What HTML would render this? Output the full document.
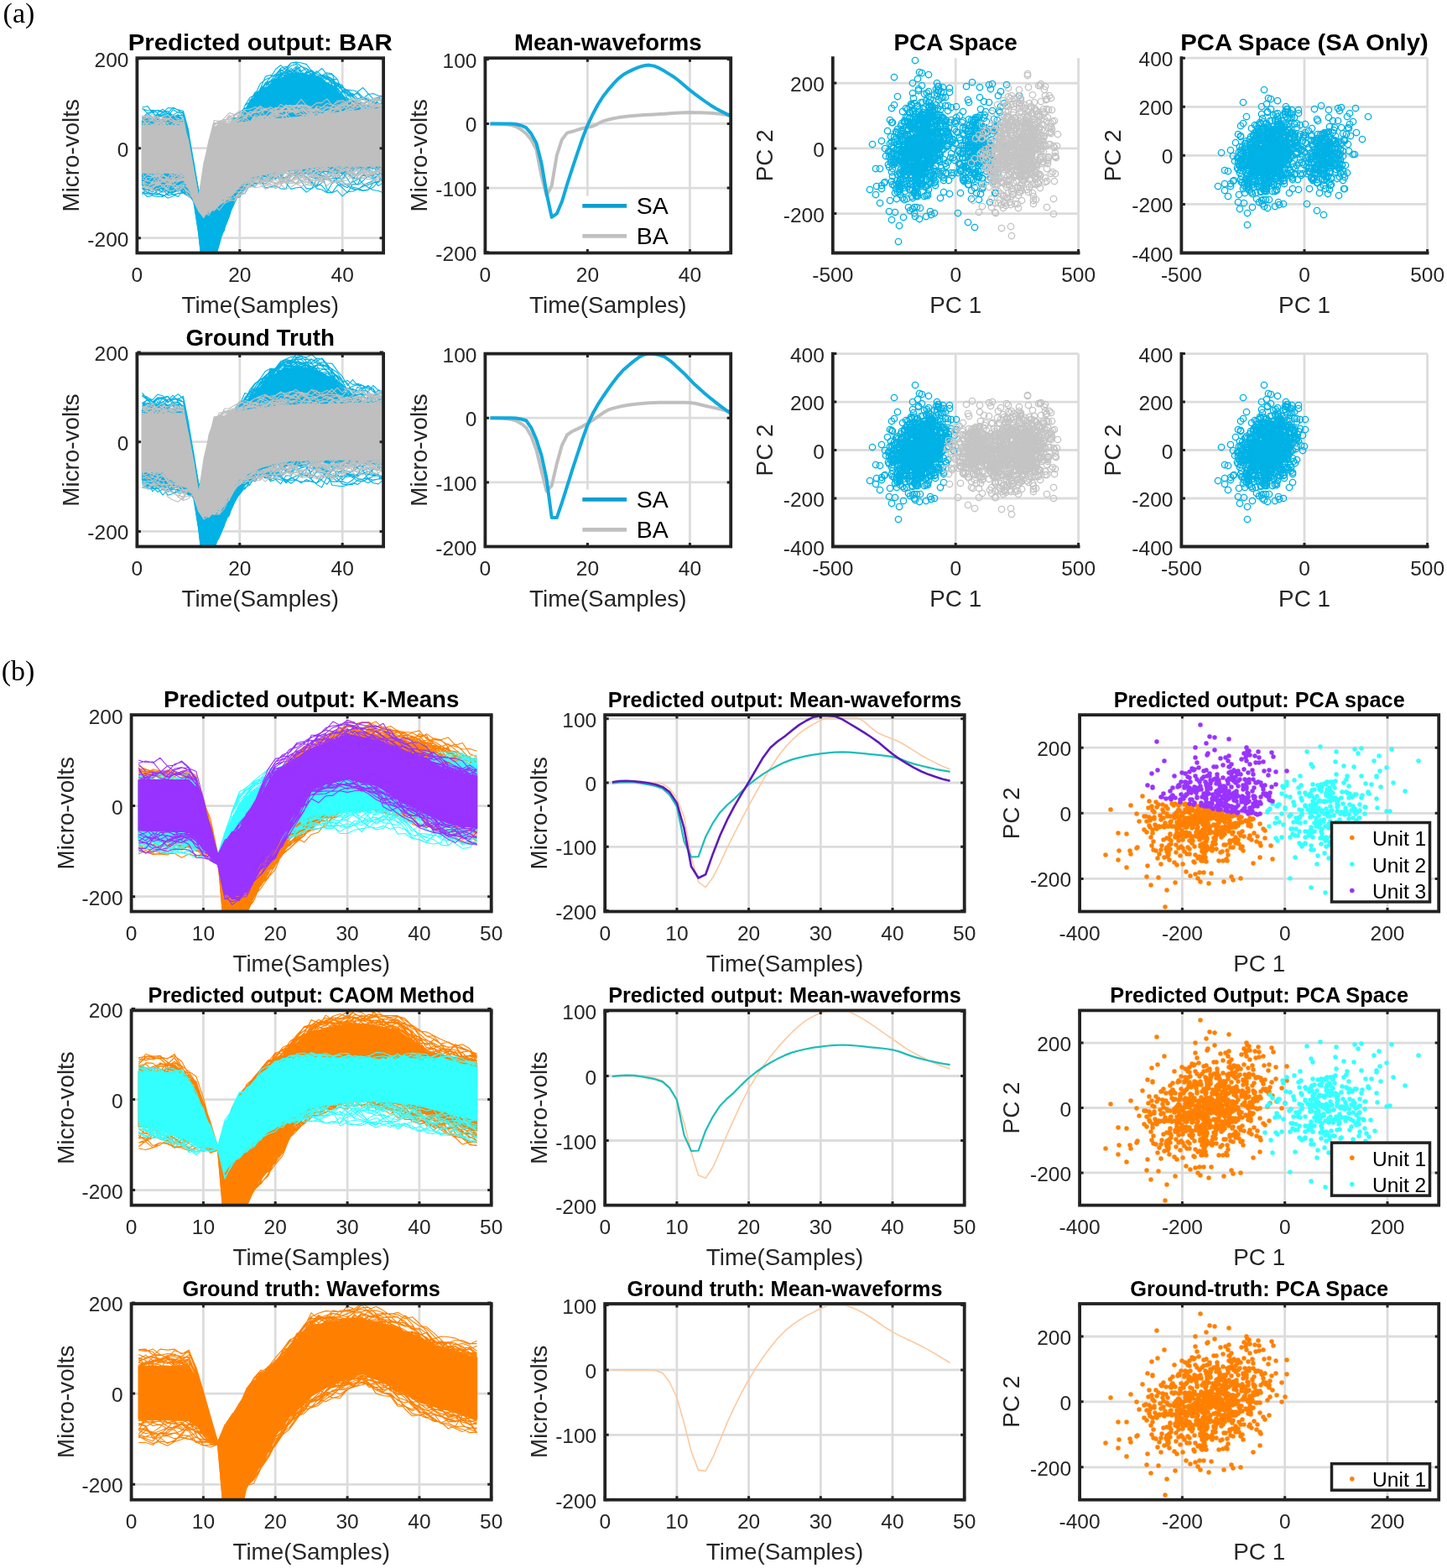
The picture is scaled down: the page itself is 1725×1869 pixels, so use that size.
<!DOCTYPE html>
<html><head><meta charset="utf-8"><title>Figure</title>
<style>html,body{margin:0;padding:0;background:#fff;}svg{display:block;}</style></head>
<body><svg width="1725" height="1869" viewBox="0 0 1725 1869" font-family='"Liberation Sans", Arial, Helvetica, sans-serif'>
<rect width="1725" height="1869" fill="#fff"/>
<defs><clipPath id="c1"><rect x="163.4" y="69.2" width="293.7" height="232.3"/></clipPath><clipPath id="c2"><rect x="163.4" y="421.6" width="293.7" height="229.9"/></clipPath><clipPath id="c3"><rect x="578.4" y="69.2" width="292.8" height="232.3"/></clipPath><clipPath id="c4"><rect x="578.4" y="421.6" width="292.8" height="229.9"/></clipPath><clipPath id="c5"><rect x="992.8" y="69.2" width="292.8" height="232.3"/></clipPath><marker id="m5" markerWidth="12" markerHeight="12" refX="6" refY="6" markerUnits="userSpaceOnUse" overflow="visible"><circle cx="6" cy="6" r="3.7" fill="none" stroke="#00b2e5" stroke-width="1.35"/></marker><marker id="m6" markerWidth="12" markerHeight="12" refX="6" refY="6" markerUnits="userSpaceOnUse" overflow="visible"><circle cx="6" cy="6" r="3.7" fill="none" stroke="#c4c4c4" stroke-width="1.35"/></marker><clipPath id="c6"><rect x="1408.4" y="69.2" width="293.2" height="232.3"/></clipPath><marker id="m8" markerWidth="12" markerHeight="12" refX="6" refY="6" markerUnits="userSpaceOnUse" overflow="visible"><circle cx="6" cy="6" r="3.7" fill="none" stroke="#00b2e5" stroke-width="1.35"/></marker><clipPath id="c7"><rect x="992.8" y="421.6" width="292.8" height="229.9"/></clipPath><marker id="m10" markerWidth="12" markerHeight="12" refX="6" refY="6" markerUnits="userSpaceOnUse" overflow="visible"><circle cx="6" cy="6" r="3.7" fill="none" stroke="#00b2e5" stroke-width="1.35"/></marker><marker id="m11" markerWidth="12" markerHeight="12" refX="6" refY="6" markerUnits="userSpaceOnUse" overflow="visible"><circle cx="6" cy="6" r="3.7" fill="none" stroke="#c4c4c4" stroke-width="1.35"/></marker><clipPath id="c8"><rect x="1408.4" y="421.6" width="293.2" height="229.9"/></clipPath><marker id="m13" markerWidth="12" markerHeight="12" refX="6" refY="6" markerUnits="userSpaceOnUse" overflow="visible"><circle cx="6" cy="6" r="3.7" fill="none" stroke="#00b2e5" stroke-width="1.35"/></marker><clipPath id="c9"><rect x="156.6" y="852.1" width="429.1" height="234.4"/></clipPath><clipPath id="c10"><rect x="721.2" y="852.1" width="428.5" height="234.4"/></clipPath><clipPath id="c11"><rect x="1287.1" y="852.1" width="428.1" height="234.4"/></clipPath><clipPath id="c12"><rect x="156.6" y="1204.4" width="429.1" height="232.2"/></clipPath><clipPath id="c13"><rect x="721.2" y="1204.4" width="428.5" height="232.2"/></clipPath><clipPath id="c14"><rect x="1287.1" y="1204.4" width="428.1" height="232.2"/></clipPath><clipPath id="c15"><rect x="156.6" y="1554" width="429.1" height="233.7"/></clipPath><clipPath id="c16"><rect x="721.2" y="1554" width="428.5" height="233.7"/></clipPath><clipPath id="c17"><rect x="1287.1" y="1554" width="428.1" height="233.7"/></clipPath></defs>
<text x="3.6" y="26.6" font-family="'Liberation Serif', 'Times New Roman', serif" font-size="34" fill="#000">(a)</text>
<text x="1.8" y="810.6" font-family="'Liberation Serif', 'Times New Roman', serif" font-size="34" fill="#000">(b)</text>
<path d="M285.8 69.2V301.5M408.2 69.2V301.5M163.4 283.7H457.1M163.4 176.7H457.1M163.4 69.7H457.1" stroke="#dcdcdc" stroke-width="2.8" fill="none"/>
<g clip-path="url(#c1)"><g transform="translate(163.4 176.7) scale(6.1188 -0.5350)">
<path d="M1 62 2 62 3 63 4 63 5 63 6 63 7 64 8 64 9 56 10 20 11-38 12-95 13-88 14-60 15-25 16 10 17 32 18 44 19 54 20 64 21 81 22 98 23 111 24 124 25 133 26 142 27 149 28 156 29 160 30 164 31 168 32 166 33 164 34 162 35 157 36 152 37 146 38 140 39 128 40 115 41 106 42 98 43 94 44 90 45 89 46 88 47 86 48 85 48-45 47-45 46-45 45-45 44-45 43-45 42-45 41-45 40-45 39-45 38-45 37-45 36-45 35-45 34-45 33-45 32-45 31-45 30-47 29-48 28-50 27-52 26-55 25-58 24-60 23-63 22-66 21-77 20-88 19-108 18-139 17-172 16-205 15-238 14-290 13-290 12-190 11-110 10-92 9-85 8-85 7-85 6-84 5-84 4-83 3-83 2-82 1-82Z" fill="#00b2e5" stroke="#00b2e5" stroke-width="1.4" stroke-linejoin="round" vector-effect="non-scaling-stroke"/>
<path d="M1 66l1 0 1 0 1-1 1-2 1-14 1 11 1-10 1-10 1-36 1-50 1-49 1 7 1 18 1 46 1 45 1-4 1 25 1 5 1 7 1 25 1 4 1 22 1 22 1 4 1 11 1 12 1 5 1 14 1-10 1 12 1-13 1 8 1-4 1-16 1 11 1-8 1 0 1 1 1-25 1-9 1 2 1-12 1 4 1-5 1-4 1 6 1 6M1 68l1-5 1-1 1-2 1-5 1 11 1-11 1-5 1-2 1-25 1-56 1-62 1 7 1 29 1 27 1 36 1 32 1 2 1 9 1 8 1 14 1 14 1 23 1 10 1 10 1 18 1 7 1 0 1 8 1 3 1-5 1 8 1-4 1-5 1-14 1-2 1-6 1-5 1-17 1-1 1-16 1-5 1-1 1-23 1-8 1 6 1-9 1-2M1 64l1 8 1-16 1 4 1-4 1-3 1-1 1-1 1-3 1-40 1-49 1-54 1 7 1 28 1 43 1 28 1 16 1 13 1 3 1 14 1 21 1 10 1 18 1 21 1 0 1 12 1-1 1 6 1 6 1 19 1-6 1-1 1-1 1 0 1-1 1-7 1 5 1-12 1-3 1-15 1-4 1-20 1-1 1-6 1-2 1-7 1 19 1-1M1 49l1 4 1 1 1 1 1-11 1 0 1 5 1 1 1-7 1-31 1-56 1-51 1 7 1 22 1 46 1 32 1 16 1 21 1 3 1 13 1 20 1 20 1 11 1 9 1 9 1-3 1 21 1-1 1 10 1 6 1-1 1-8 1-9 1-8 1-3 1-5 1-15 1-6 1-3 1 2 1-16 1 12 1-8 1-1 1 7 1 5 1-3 1 3M1 67l1 11 1 5 1-4 1 8 1-9 1-4 1-6 1-3 1-30 1-71 1-59 1 7 1 31 1 24 1 47 1 27 1 7 1 17 1-1 1 31 1 9 1 21 1 0 1 21 1 2 1 10 1-4 1 6 1 18 1-12 1-3 1-2 1-9 1 5 1-1 1-14 1-6 1 8 1-8 1-9 1-9 1-17 1-2 1-7 1 2 1 15 1-9M1 72l1-12 1-2 1 10 1 7 1-5 1-7 1 10 1 0 1-46 1-63 1-59 1 7 1 23 1 37 1 30 1 26 1 10 1 16 1 9 1 6 1 27 1 17 1 15 1 16 1 3 1 3 1 11 1-11 1-4 1 19 1-9 1 4 1-1 1 2 1 1 1-2 1-5 1-32 1-4 1-26 1-13 1 2 1-5 1-4 1 20 1-13 1 3M1 71l1 0 1-15 1 4 1-9 1 12 1-8 1 3 1 2 1-44 1-58 1-53 1 7 1 22 1 41 1 23 1 31 1 12 1 0 1 9 1 22 1 16 1 10 1 23 1-1 1 20 1 8 1 7 1 6 1-5 1 13 1-5 1-5 1-6 1-6 1 2 1-13 1-2 1-9 1-17 1-11 1-22 1-12 1 5 1-5 1 3 1-7 1 2M1 63l1-3 1 1 1 3 1 1 1 0 1 2 1-8 1 3 1-44 1-52 1-61 1 7 1 38 1 23 1 30 1 27 1 16 1 22 1-1 1 17 1 5 1 20 1 16 1 17 1-1 1 17 1 10 1 3 1 13 1 3 1-15 1 6 1-8 1-14 1-10 1 9 1-10 1-5 1-10 1-19 1-5 1-12 1-6 1-1 1 0 1 4 1-8M1 59l1 1 1 5 1-3 1 3 1 3 1-2 1 3 1-11 1-24 1-63 1-66 1 7 1 40 1 27 1 33 1 22 1 8 1 11 1-2 1 26 1 2 1 25 1 10 1 31 1 5 1 14 1 14 1 4 1-13 1 1 1-11 1 5 1-1 1-2 1-4 1-2 1-6 1-4 1-5 1-23 1-1 1-10 1-7 1-17 1-4 1-8 1 6M1 88l1-4 1 1 1-1 1-5 1 11 1-1 1-3 1-3 1-42 1-77 1-59 1 7 1 36 1 25 1 33 1 25 1 11 1 2 1 17 1 12 1 20 1 28 1 9 1 14 1 14 1 7 1-1 1 3 1-3 1 15 1-8 1-10 1 5 1 0 1-6 1 1 1-6 1-17 1-3 1-5 1-1 1-3 1 9 1-13 1-12 1 3 1-7M1 51l1 2 1 5 1 9 1 6 1 5 1 13 1-6 1-8 1-48 1-62 1-62 1 7 1 30 1 42 1 32 1 27 1 8 1 23 1 6 1 9 1 4 1 16 1 23 1 11 1-1 1 8 1-5 1 5 1 4 1 6 1-10 1 16 1 8 1-9 1-3 1 0 1-21 1-33 1-6 1-17 1-13 1 9 1-12 1-3 1 7 1-3 1 2M1 68l1-2 1 0 1 8 1-5 1-1 1 0 1 2 1-1 1-44 1-52 1-68 1 7 1 21 1 38 1 38 1 26 1 2 1 16 1 10 1 16 1 12 1 17 1 0 1 15 1 4 1 2 1 5 1 1 1 20 1-8 1 19 1-3 1-7 1-15 1-1 1-8 1-20 1-10 1-7 1-11 1 4 1-11 1 9 1-2 1 21 1-10 1-6M1 70l1 3 1 9 1-16 1-4 1-2 1 1 1-10 1-5 1-37 1-56 1-48 1 7 1 21 1 44 1 20 1 32 1 11 1 6 1 8 1 22 1 22 1 15 1 9 1 10 1 1 1 12 1 2 1 20 1 5 1 3 1 7 1-4 1-17 1 11 1-10 1 6 1-2 1-32 1-14 1-16 1-10 1-6 1 1 1-6 1 19 1-7 1 10M1 59l1-2 1-7 1 4 1 7 1 10 1 15 1-6 1 1 1-43 1-66 1-67 1 7 1 31 1 38 1 34 1 29 1-6 1 26 1 2 1 16 1 12 1 6 1 18 1 6 1 15 1-1 1 25 1 0 1 2 1 0 1-5 1-5 1 0 1-3 1-6 1-13 1-1 1-17 1-8 1 1 1-13 1-5 1-5 1 3 1-1 1 9 1-12M1 67l1-5 1 5 1 10 1-8 1 3 1-3 1 6 1-22 1-40 1-60 1-48 1 7 1 40 1 16 1 43 1 16 1 3 1 12 1 11 1 19 1 36 1-2 1 27 1 10 1 4 1 11 1 9 1-1 1 2 1 3 1-17 1 14 1 3 1-11 1-4 1-17 1 2 1-12 1-5 1 6 1-11 1 3 1-14 1 1 1-8 1-13 1-8M1 67l1-10 1 6 1 6 1 11 1 3 1-11 1-8 1-7 1-29 1-69 1-54 1 7 1 28 1 37 1 35 1 24 1-2 1 21 1 5 1 20 1 24 1 10 1 6 1 3 1 10 1 19 1 11 1-2 1 6 1-7 1-6 1-8 1-10 1-5 1-1 1 1 1 2 1 6 1-9 1-1 1-16 1-11 1-9 1-12 1-12 1-7 1-1M1 91l1 3 1-15 1 6 1-3 1-4 1-9 1-6 1-5 1-39 1-65 1-49 1 7 1 24 1 41 1 28 1 33 1 9 1 10 1 14 1 14 1 20 1 11 1 12 1 6 1-7 1 24 1-5 1 12 1 7 1-2 1-6 1-2 1-6 1-13 1-9 1-9 1 7 1-11 1 0 1-9 1-2 1 1 1 6 1 10 1 2 1-5 1-1M1 56l1-6 1 2 1 11 1-2 1-3 1-8 1 11 1-20 1-30 1-56 1-50 1 7 1 29 1 34 1 31 1 16 1 8 1 13 1 2 1 29 1 21 1 26 1 8 1 7 1 13 1-2 1 25 1 7 1 11 1 0 1-7 1-11 1-6 1-7 1-23 1-8 1-13 1 3 1-9 1-4 1-11 1 7 1-6 1-2 1-3 1 4 1-2M1 89l1-11 1-10 1-3 1-3 1 8 1-4 1 5 1-8 1-42 1-48 1-68 1 7 1 31 1 23 1 36 1 21 1 10 1 9 1 23 1 15 1 22 1 9 1 16 1 3 1 11 1 10 1 4 1 2 1 0 1 10 1 0 1-3 1-2 1 6 1 10 1-14 1 1 1-11 1-28 1 3 1-12 1 8 1-12 1-6 1-3 1-3 1-4M1 72l1-7 1 4 1 4 1 6 1-5 1 0 1 7 1-8 1-37 1-65 1-66 1 7 1 29 1 35 1 34 1 18 1 9 1 22 1 7 1 29 1 18 1 6 1 25 1 9 1 5 1 18 1 9 1-11 1 16 1 2 1-2 1-3 1-15 1-6 1-6 1-3 1-2 1-21 1-16 1-8 1-20 1-9 1-22 1-1 1-2 1 1 1-5M1 61l1-6 1-2 1-4 1 1 1-7 1 8 1-1 1-4 1-29 1-52 1-60 1 7 1 31 1 39 1 32 1 28 1 3 1-4 1 25 1 11 1 15 1 24 1 16 1 28 1 3 1-3 1 15 1-7 1 5 1-22 1-16 1 9 1-5 1-6 1-9 1 18 1 11 1-22 1 7 1-19 1 0 1-22 1-14 1-2 1-8 1-8 1 7M1 37l1-5 1 19 1-10 1 2 1 6 1-8 1 5 1 3 1-29 1-54 1-61 1 7 1 31 1 35 1 26 1 28 1 7 1 22 1 8 1 13 1 7 1 17 1 6 1 16 1 8 1 8 1 22 1 7 1-1 1 10 1-16 1-10 1-5 1-12 1-2 1-3 1 2 1-14 1-23 1 1 1-15 1 1 1 2 1-3 1 11 1-9 1-1M1-89l1 13 1-7 1 0 1 7 1-13 1 3 1 5 1 0 1-2 1-25 1-82 1-92 1-3 1 46 1 37 1 34 1 24 1 39 1 22 1 8 1 18 1 0 1-10 1 4 1-6 1 8 1-4 1 13 1 3 1 10 1 0 1-2 1 19 1-9 1 7 1-5 1 1 1 5 1-10 1 1 1-19 1 11 1-3 1 3 1-3 1-7 1-4M1-100l1 8 1-6 1 8 1-8 1 5 1-2 1 6 1 3 1-13 1-13 1-78 1-99 1 2 1 45 1 43 1 19 1 36 1 34 1 23 1 10 1 3 1-5 1 2 1-2 1 8 1 18 1 35 1-10 1 15 1 11 1-4 1-5 1 5 1 5 1-2 1-27 1-8 1-16 1-2 1 1 1-9 1-6 1 11 1 14 1 7 1 12 1 21M1-87l1 7 1-9 1 2 1-1 1 6 1-13 1 2 1-4 1 7 1-21 1-79 1-104 1 4 1 60 1 26 1 36 1 31 1 25 1 12 1 21 1 6 1 10 1-7 1 12 1 7 1 11 1 8 1-9 1-9 1 0 1 8 1 6 1 18 1 10 1-7 1 10 1 8 1-11 1-3 1-10 1-8 1 0 1-13 1-9 1-15 1 5 1-17M1-103l1 14 1 3 1-9 1 19 1 1 1-6 1 6 1-15 1-8 1-20 1-72 1-96 1-12 1 53 1 34 1 39 1 30 1 38 1 14 1 12 1 22 1 11 1 0 1 11 1 8 1-15 1 2 1 8 1-10 1-4 1-9 1-1 1-3 1 3 1 16 1 24 1 11 1-5 1 5 1-5 1-1 1-4 1 1 1 1 1-12 1-2 1-16M1-97l1-11 1 3 1-3 1 0 1 9 1 0 1 10 1-1 1 2 1-28 1-74 1-102 1 5 1 50 1 30 1 36 1 27 1 29 1 19 1 4 1 7 1 6 1 1 1 8 1 8 1 1 1-4 1-3 1 10 1 5 1 11 1-3 1 5 1 9 1-4 1 1 1 6 1-10 1-16 1-14 1-19 1-2 1-5 1 2 1 5 1 13 1 9M1-88l1 7 1-6 1-14 1-3 1-7 1 4 1 7 1 0 1-7 1-7 1-76 1-109 1 0 1 54 1 43 1 19 1 45 1 31 1 13 1 14 1 11 1 11 1 10 1 1 1 7 1 1 1-4 1-1 1 1 1 8 1-4 1 7 1-8 1-19 1-1 1-31 1-8 1 5 1-13 1 10 1 1 1 5 1 6 1 3 1 5 1 1 1 7M1-68l1-9 1 5 1-10 1-4 1 10 1-5 1-4 1 1 1-6 1-28 1-72 1-106 1 7 1 48 1 42 1 28 1 24 1 32 1 12 1 17 1 14 1 6 1-2 1 15 1 10 1 2 1 5 1-14 1 7 1-10 1-2 1-9 1-9 1-17 1-2 1-7 1 0 1 16 1 3 1-2 1 7 1 5 1 9 1 1 1 6 1-5 1 14M1-91l1-7 1-3 1-3 1 10 1-2 1-7 1-5 1 16 1-15 1-3 1-80 1-106 1 5 1 49 1 38 1 33 1 41 1 24 1 16 1 12 1-3 1-4 1 13 1-16 1 2 1 2 1-6 1-1 1 34 1 2 1 0 1-9 1-14 1-7 1 8 1 19 1 2 1 8 1-10 1 3 1-13 1 2 1-13 1-8 1-6 1-2 1-4M1-88l1-11 1-3 1 1 1-5 1 4 1 6 1 1 1 4 1-3 1-12 1-84 1-99 1-7 1 48 1 38 1 29 1 37 1 33 1 2 1 20 1 20 1-1 1 9 1-1 1-4 1-1 1 1 1-11 1-14 1 3 1 1 1-11 1 8 1 20 1 11 1-8 1 7 1-19 1-9 1-11 1 19 1 0 1 22 1-6 1-3 1-17 1 8M1-88l1 4 1-11 1 11 1-7 1-14 1 2 1 2 1 3 1-5 1-4 1-83 1-105 1 0 1 40 1 40 1 41 1 27 1 25 1 24 1-3 1 20 1 10 1 10 1 3 1 18 1 12 1-7 1 8 1-12 1-5 1 8 1-5 1 2 1 1 1 7 1 7 1 0 1-20 1-15 1 14 1 5 1 14 1 9 1 17 1-13 1-4 1-20M1-88l1-4 1 1 1-1 1-7 1 12 1-12 1 5 1 6 1-12 1-9 1-81 1-102 1 10 1 42 1 33 1 27 1 29 1 38 1 25 1 14 1 20 1-15 1 4 1-8 1 13 1-8 1 4 1-1 1 10 1-7 1 7 1-2 1 30 1 7 1 6 1 0 1-15 1-8 1-2 1-4 1-2 1 5 1 1 1 7 1-4 1-11 1 4M1-75l1 4 1 6 1-14 1-10 1 11 1-7 1-12 1 9 1-14 1-17 1-71 1-103 1-3 1 55 1 30 1 38 1 31 1 34 1 13 1 6 1 12 1 10 1 13 1-1 1-8 1 4 1-16 1 7 1-5 1 13 1 9 1 4 1 8 1-6 1 0 1-4 1 3 1-28 1-9 1-5 1 15 1-9 1 9 1 12 1-1 1 21 1 3M1-68l1-3 1-5 1-2 1 9 1-1 1-5 1-5 1-7 1-4 1-27 1-72 1-93 1-2 1 42 1 34 1 42 1 37 1 16 1 27 1 16 1 17 1-7 1 10 1-2 1 17 1-6 1 0 1 0 1 6 1-3 1-10 1 6 1-8 1 2 1-3 1 1 1 2 1-4 1 3 1-1 1-6 1-5 1 10 1-11 1 5 1 20 1 5M1-98l1-4 1-1 1 8 1 10 1-2 1 5 1-1 1 0 1-1 1-23 1-83 1-106 1 3 1 58 1 25 1 40 1 26 1 38 1 30 1 16 1 3 1 1 1 4 1-8 1-1 1 8 1 2 1 7 1 2 1-3 1 3 1-2 1-12 1-4 1 7 1-7 1 27 1 14 1 14 1 7 1-1 1 2 1-17 1-5 1-4 1 10 1-7M1-80l1 4 1-2 1 2 1 0 1 9 1-20 1 17 1 0 1-16 1-20 1-84 1-99 1 5 1 40 1 47 1 25 1 44 1 27 1 27 1 10 1 15 1-4 1-6 1 4 1-2 1 9 1-13 1 17 1 10 1-15 1-4 1 4 1-8 1-10 1 14 1 1 1-2 1-2 1 1 1 1 1 11 1 16 1 4 1 11 1-13 1-17 1 3M1-67l1 3 1-2 1-5 1 10 1-13 1 5 1-5 1-5 1 3 1-42 1-72 1-97 1-2 1 58 1 29 1 30 1 45 1 17 1 17 1 4 1 11 1 12 1 6 1 4 1 1 1 10 1-9 1 8 1 1 1-3 1 3 1-6 1-4 1 9 1-13 1-6 1-10 1 7 1 10 1 16 1 18 1-6 1 5 1-1 1-17 1 7 1 0M1-100l1 0 1 17 1 9 1-2 1 12 1 2 1-11 1-13 1-1 1-26 1-77 1-100 1-2 1 61 1 33 1 35 1 29 1 23 1 22 1 15 1 3 1 20 1-11 1 4 1 13 1 2 1 0 1 0 1 3 1-2 1-10 1-16 1-8 1-5 1-2 1-14 1 19 1 6 1-2 1-10 1-7 1-1 1-3 1 2 1 16 1 3 1 18M1-71l1-8 1-15 1 8 1-6 1 2 1 8 1 0 1-1 1-2 1-22 1-83 1-99 1 0 1 50 1 35 1 37 1 28 1 28 1 30 1-1 1 7 1-2 1 2 1 5 1 9 1 6 1 16 1-6 1 6 1-20 1-3 1 7 1-4 1 5 1 15 1 0 1 6 1-17 1 1 1-5 1 6 1 3 1-5 1 15 1-8 1-5 1 0M1-78l1-7 1-2 1-1 1-4 1 10 1-8 1 11 1-7 1-15 1-3 1-86 1-100 1 10 1 43 1 40 1 26 1 28 1 36 1 13 1 20 1 8 1-4 1 1 1-1 1-2 1 13 1 3 1 10 1-10 1-4 1-14 1-16 1 0 1 7 1 19 1 5 1 15 1 14 1 3 1 3 1 23 1 4 1-7 1 6 1-8 1-22 1-23M1-84l1 1 1 1 1 0 1-2 1-6 1-1 1 0 1-9 1 1 1-15 1-76 1-101 1 0 1 49 1 40 1 31 1 23 1 40 1 14 1 26 1 2 1 5 1 4 1-1 1 2 1 13 1 3 1 12 1 9 1-10 1 9 1-9 1 0 1-7 1 13 1 5 1 3 1 20 1-8 1-10 1-7 1-7 1-9 1-12 1-4 1-1 1-10M1-91l1-2 1 4 1 5 1-4 1-9 1 3 1 5 1-8 1-1 1-12 1-80 1-96 1-1 1 54 1 27 1 35 1 35 1 34 1 18 1 8 1 16 1-3 1-10 1 0 1 12 1-8 1 14 1 9 1-2 1 6 1-2 1-12 1-9 1-3 1 3 1-5 1 3 1 1 1-3 1 16 1-16 1 14 1 11 1-6 1 10 1-3 1-22M1-75l1-4 1 10 1-1 1 0 1 5 1-4 1 5 1-4 1-22 1-16 1-84 1-108 1 13 1 45 1 35 1 29 1 40 1 34 1 17 1 12 1-2 1 18 1-12 1-4 1 9 1 5 1 13 1-2 1 8 1-7 1 11 1-13 1 4 1-15 1 12 1-5 1 8 1-6 1-23 1-9 1-7 1-2 1 9 1 6 1 5 1 14 1 5" fill="none" stroke="#00b2e5" stroke-width="1.1" stroke-linejoin="round" vector-effect="non-scaling-stroke"/>
<path d="M1 50 2 50 3 50 4 50 5 50 6 50 7 50 8 50 9 50 10 0 11-55 12-110 13-47 14 8 15 45 16 52 17 54 18 55 19 56 20 57 21 58 22 60 23 61 24 62 25 64 26 65 27 66 28 66 29 67 30 68 31 69 32 70 33 70 34 71 35 72 36 74 37 75 38 77 39 78 40 80 41 82 42 83 43 84 44 86 45 86 46 87 47 88 48 88 48-40 47-40 46-40 45-40 44-40 43-40 42-40 41-40 40-40 39-40 38-41 37-41 36-42 35-42 34-43 33-44 32-46 31-47 30-48 29-50 28-52 27-53 26-55 25-58 24-60 23-62 22-65 21-74 20-82 19-92 18-101 17-111 16-118 15-126 14-135 13-142 12-140 11-100 10-75 9-55 8-55 7-55 6-55 5-55 4-55 3-55 2-55 1-55Z" fill="#bfbfbf" stroke="#bfbfbf" stroke-width="1.4" stroke-linejoin="round" vector-effect="non-scaling-stroke"/>
<path d="M1 73l1-5 1 8 1-9 1-8 1-5 1-9 1 3 1 9 1-63 1-47 1-57 1 72 1 56 1 36 1 2 1 11 1 12 1-4 1 8 1-12 1-13 1 7 1-1 1-1 1 8 1 12 1 3 1 9 1-2 1-13 1 7 1-6 1-5 1 3 1-7 1 6 1 8 1 3 1 0 1 11 1 12 1-5 1-5 1 0 1 2 1 1 1 5M1 51l1-3 1-2 1 2 1-9 1 9 1-7 1 9 1-3 1-47 1-55 1-55 1 66 1 49 1 41 1-1 1 2 1 4 1 8 1-7 1 17 1 8 1-16 1 6 1-9 1-1 1-7 1 1 1 6 1 2 1-1 1-1 1 0 1 2 1 6 1 4 1 10 1-2 1 16 1 9 1-4 1-6 1 14 1-10 1-16 1 12 1 4 1 1M1 64l1 4 1 3 1-10 1 4 1 2 1-2 1-11 1 1 1-48 1-69 1-48 1 63 1 57 1 33 1-1 1 14 1-5 1 8 1-8 1-3 1-1 1-8 1 7 1 3 1-3 1 7 1-7 1 12 1 2 1-1 1 8 1-3 1-4 1-1 1 3 1-7 1 2 1-8 1 9 1 7 1 0 1 0 1-1 1 5 1 10 1-1 1 5M1 63l1-9 1 12 1-18 1 8 1-9 1 5 1-8 1 5 1-49 1-55 1-55 1 75 1 47 1 44 1 2 1 1 1 15 1-15 1 15 1-1 1 9 1-2 1 14 1-26 1 1 1-3 1-3 1 15 1 17 1-1 1 0 1-1 1-12 1 3 1 7 1 2 1-7 1 3 1 1 1 2 1 9 1 4 1 6 1-8 1 2 1 7 1-13M1 39l1-6 1-1 1 7 1-6 1 2 1 3 1 6 1 15 1-73 1-43 1-53 1 65 1 48 1 27 1 27 1-9 1 4 1-9 1-3 1 1 1 7 1 3 1-3 1 10 1-1 1 5 1 0 1 3 1-5 1 6 1 6 1 3 1-4 1 9 1-15 1 3 1-5 1 6 1-14 1 24 1-9 1-3 1 11 1 14 1-4 1-3 1 9M1 57l1-14 1 7 1 2 1 15 1-11 1 6 1-14 1-4 1-41 1-55 1-58 1 68 1 57 1 30 1 10 1 0 1-4 1 0 1 1 1 3 1-4 1 7 1-5 1 12 1 4 1 0 1 14 1 11 1 2 1-10 1 12 1-10 1-9 1-9 1 2 1 9 1-1 1-1 1 2 1 3 1 7 1 8 1-14 1 4 1-3 1-2 1 10M1 66l1-14 1-2 1 8 1-7 1-1 1-6 1-2 1 3 1-54 1-56 1-45 1 64 1 44 1 47 1 5 1-5 1 7 1 5 1 8 1 3 1-8 1 1 1 12 1-3 1 2 1 1 1 8 1-9 1 14 1-12 1 2 1-3 1-20 1 6 1-4 1 1 1 5 1-2 1 3 1 9 1 0 1-8 1-5 1 19 1-5 1-1 1-2M1 70l1 3 1-8 1 7 1-14 1-4 1-12 1-2 1-1 1-41 1-55 1-53 1 68 1 59 1 45 1-2 1-6 1 0 1 4 1-11 1 6 1 4 1 9 1 3 1-4 1 1 1 4 1 1 1 4 1 7 1 1 1 4 1 8 1-10 1 5 1-8 1 8 1-1 1-1 1 11 1-4 1 3 1 0 1-3 1 9 1-12 1 0 1-11M1 71l1 0 1-1 1-2 1 3 1 3 1-11 1-3 1-4 1-39 1-62 1-65 1 69 1 50 1 41 1 10 1 4 1 0 1 8 1 10 1 1 1-9 1 12 1 8 1-8 1 6 1-7 1 13 1-8 1 0 1 6 1 13 1-14 1-3 1 9 1 0 1 9 1-14 1-4 1 4 1 0 1-2 1 4 1-9 1 10 1 11 1 5 1-2M1 28l1-3 1 16 1 10 1 18 1-6 1 13 1-14 1 2 1-56 1-60 1-58 1 64 1 55 1 33 1 11 1-1 1 3 1 9 1-5 1-2 1-3 1-3 1 1 1-7 1 15 1 14 1 12 1 5 1-2 1 6 1-5 1-8 1-15 1-5 1 12 1-3 1 17 1 4 1-11 1 5 1-5 1 1 1 1 1 6 1 11 1-7 1-1M1 68l1 2 1-2 1-8 1-3 1 7 1-5 1-9 1 0 1-49 1-49 1-62 1 63 1 61 1 25 1 13 1-21 1 17 1-10 1-10 1 14 1 6 1 9 1 10 1 3 1 3 1 3 1-1 1-4 1-10 1 0 1 6 1 2 1 15 1 4 1-12 1 6 1-1 1 4 1 10 1-8 1-1 1 4 1 9 1-3 1 0 1 3 1-8M1 63l1 5 1-8 1 7 1-6 1 5 1-7 1-14 1 8 1-61 1-42 1-60 1 61 1 56 1 44 1 10 1 0 1 7 1-11 1 6 1 0 1-7 1 15 1-4 1-2 1 12 1 3 1 7 1-5 1 12 1 2 1 0 1 0 1-7 1-8 1 5 1 4 1 3 1 4 1-3 1 12 1-3 1-11 1 4 1 1 1-5 1 5 1 0M1 45l1-1 1 1 1 3 1 7 1-12 1 13 1 5 1 2 1-51 1-71 1-51 1 58 1 63 1 26 1 19 1 3 1 3 1-7 1 15 1 12 1-8 1 6 1 1 1 4 1-3 1 0 1-2 1 4 1 0 1 3 1-5 1 7 1-12 1 17 1-3 1 9 1-4 1 6 1 5 1-6 1 7 1 0 1 3 1-9 1 8 1-1 1-2M1 63l1-8 1 9 1-9 1 5 1-13 1 1 1 10 1-7 1-44 1-63 1-54 1 64 1 51 1 44 1-1 1-10 1 11 1-10 1 9 1 0 1 10 1 17 1-5 1 1 1 0 1-2 1 6 1-17 1-2 1 10 1-9 1 9 1 9 1-7 1-6 1-5 1-3 1 3 1 9 1 13 1 5 1-4 1 0 1 5 1-13 1 10 1 5M1 62l1-1 1 4 1-14 1 0 1-3 1 1 1-9 1 12 1-54 1-54 1-54 1 62 1 56 1 48 1 1 1-2 1 4 1-6 1 12 1 4 1 2 1 13 1-9 1 12 1-6 1 7 1 2 1-10 1-14 1-5 1-7 1-5 1 3 1 12 1 11 1-1 1 19 1 13 1 0 1-5 1 12 1-10 1 10 1 1 1-25 1 6 1-4M1 52l1-3 1 2 1-7 1 3 1-3 1-11 1-4 1 3 1-42 1-49 1-51 1 61 1 49 1 29 1 23 1 7 1-9 1 12 1 15 1 9 1 1 1 5 1-5 1-2 1-3 1-5 1 7 1-2 1 3 1-7 1 6 1-12 1 4 1-17 1 8 1 10 1-3 1 6 1-5 1 19 1-1 1-1 1 5 1 0 1 4 1-8 1-10M1 49l1 3 1-7 1-7 1 5 1-1 1 4 1-8 1 6 1-39 1-59 1-56 1 77 1 46 1 40 1 3 1-1 1-1 1-11 1-9 1 14 1-8 1 7 1 1 1 10 1 15 1 12 1-2 1 14 1-13 1 2 1 9 1-14 1 6 1-13 1 1 1-7 1-1 1-6 1 2 1 11 1-4 1 9 1 10 1-6 1-3 1-4 1 4M1 56l1 1 1-4 1 9 1-11 1-6 1 11 1 0 1 0 1-62 1-44 1-60 1 61 1 47 1 47 1 4 1 7 1-10 1-6 1 5 1-6 1 9 1-2 1 14 1 12 1 13 1 5 1 0 1 1 1-7 1-2 1-5 1-12 1 9 1 6 1-5 1 4 1 2 1-2 1-5 1 7 1-1 1-2 1 5 1 7 1 5 1 5 1-4M1 57l1-5 1-1 1 2 1-7 1-10 1 16 1-7 1 23 1-59 1-59 1-60 1 58 1 59 1 39 1 5 1 10 1 9 1 5 1-3 1-3 1 12 1-2 1 5 1 5 1-2 1-9 1 3 1 4 1-5 1 4 1 3 1-8 1-8 1-7 1 2 1-2 1 11 1 0 1 14 1 3 1-6 1 16 1-3 1 11 1-2 1-1 1 6M1 47l1 2 1 0 1-4 1 1 1-7 1 9 1-7 1 10 1-50 1-54 1-57 1 76 1 39 1 38 1 2 1 12 1-7 1 8 1-8 1 8 1-1 1 12 1 1 1 3 1 12 1-6 1 3 1 10 1-11 1 13 1-5 1-5 1 3 1-1 1-5 1 2 1 5 1-1 1-6 1-5 1-1 1 5 1 11 1 5 1 3 1 9 1-6M1-66l1 6 1 9 1-12 1 6 1-14 1-5 1 6 1-2 1-5 1-33 1-30 1-5 1 8 1 1 1 23 1 6 1 7 1 11 1 16 1 21 1 0 1 0 1 3 1-3 1 1 1 3 1 2 1 9 1-1 1 13 1 0 1-2 1-8 1-11 1-3 1 5 1-7 1-2 1 10 1 3 1-4 1 5 1-1 1 7 1 8 1-1 1-3M1-68l1-6 1 10 1 3 1 5 1 8 1-5 1 5 1-8 1-9 1-29 1-46 1 2 1 7 1 15 1-2 1 13 1 12 1 0 1 10 1 17 1 7 1 2 1-2 1-12 1 0 1 0 1-7 1 4 1 0 1 12 1 6 1-15 1 14 1 7 1 0 1 10 1 6 1 8 1 8 1 1 1-5 1 3 1-5 1-9 1 8 1-6 1-13M1-73l1-7 1-1 1 11 1-17 1 11 1 16 1-3 1-5 1-6 1-27 1-39 1-7 1 12 1 11 1-14 1 15 1 6 1 2 1 17 1 3 1 14 1 14 1-4 1 0 1-4 1-6 1 0 1-10 1 5 1 7 1-6 1 3 1 9 1 3 1 0 1 10 1 14 1 2 1-7 1 1 1-6 1-6 1 14 1-6 1 0 1 2 1 9M1-36l1-11 1 3 1-4 1-5 1 1 1-3 1-4 1-1 1-10 1-35 1-35 1-1 1 8 1-4 1 27 1-11 1 14 1 17 1 6 1 11 1-3 1 5 1-1 1 2 1-1 1 8 1 8 1-1 1 2 1 13 1-15 1 7 1-11 1 2 1-15 1 4 1 3 1 5 1 12 1 4 1 10 1 4 1 9 1 1 1-2 1 7 1 0M1-81l1 16 1 0 1 3 1-12 1-5 1-2 1-16 1 10 1-10 1-17 1-26 1-9 1 14 1 5 1 10 1 21 1 1 1 4 1 28 1 0 1-6 1 16 1 3 1-6 1 5 1-11 1 1 1-12 1 1 1 6 1-2 1 3 1-4 1 15 1 5 1 21 1 1 1 8 1-12 1 5 1-26 1-3 1 5 1-12 1 0 1 16 1 11M1-84l1-5 1 16 1-11 1 17 1-13 1-3 1 8 1 5 1-19 1-5 1-46 1-11 1 22 1 9 1 7 1 2 1-1 1 14 1 12 1 4 1 15 1-6 1 13 1 1 1-13 1-5 1 0 1 1 1 1 1-3 1 2 1 1 1 2 1 5 1 1 1 0 1 5 1 4 1 13 1-3 1 10 1-14 1-3 1-7 1 4 1 9 1 5M1-85l1-1 1 8 1 2 1 4 1 7 1-2 1-2 1 15 1-26 1-23 1-37 1 2 1 3 1 10 1 12 1 0 1 23 1 7 1 24 1-5 1 19 1-7 1 8 1-11 1 5 1-13 1-10 1-5 1 0 1 1 1 11 1 0 1-16 1 12 1-6 1 11 1 9 1-7 1 3 1 7 1-3 1 8 1-9 1-1 1 4 1-11 1 7M1-98l1 7 1 6 1 6 1-3 1 0 1 1 1-3 1 7 1-5 1-35 1-23 1 5 1-9 1 20 1 1 1 18 1 9 1 3 1 11 1 4 1 14 1 12 1 4 1-3 1 3 1 4 1 1 1 3 1 0 1 10 1-1 1 1 1-3 1 1 1-11 1 12 1-7 1 2 1 3 1 3 1-2 1-4 1-2 1-9 1 6 1-8 1-6M1-76l1-15 1 17 1 12 1 0 1-3 1-21 1-7 1 7 1-13 1-4 1-37 1-4 1 7 1 5 1 10 1 6 1 16 1 10 1 14 1-3 1 2 1 5 1-8 1-11 1 4 1-2 1 21 1-10 1 22 1-9 1 6 1-3 1 1 1 10 1 3 1-2 1 1 1 18 1 0 1-6 1-2 1 2 1-1 1 6 1-10 1 5 1-6M1-88l1 3 1-9 1 4 1 5 1-8 1-2 1 10 1 4 1-8 1-8 1-43 1-11 1 17 1 6 1 18 1-3 1 8 1 10 1 5 1-2 1 16 1 2 1 15 1 11 1-13 1 3 1 2 1 1 1-3 1-2 1 0 1-16 1-3 1-1 1 17 1 3 1-14 1-2 1 7 1 5 1 3 1 0 1 7 1 0 1-3 1 14 1-6M1-85l1-2 1-4 1 16 1 15 1-5 1 15 1 4 1-10 1-27 1-22 1-35 1-9 1 6 1 11 1 6 1 10 1 2 1 28 1 8 1 7 1-3 1 9 1-13 1 10 1-2 1-9 1 2 1 11 1-7 1-7 1 4 1 7 1 7 1 16 1 8 1 6 1 3 1-14 1 0 1-12 1-5 1-6 1-1 1-2 1 0 1-4 1 4M1-53l1 0 1-2 1-13 1-3 1-9 1 13 1-8 1 7 1-16 1-14 1-42 1-7 1 3 1 19 1 4 1 16 1 11 1-15 1 5 1 10 1 10 1-4 1 2 1 3 1 6 1 14 1 6 1 3 1 13 1 9 1 0 1 7 1 0 1-3 1 0 1-15 1-10 1 0 1 9 1 17 1-5 1 5 1-12 1-22 1 6 1-7 1 2M1-47l1 12 1-20 1 1 1 7 1-4 1-14 1 6 1-4 1-17 1-18 1-42 1-4 1 15 1-9 1 16 1 13 1 5 1 17 1 9 1 16 1 0 1 4 1-3 1-6 1 1 1 9 1 5 1-1 1 13 1-6 1-3 1-18 1 4 1 1 1-11 1-10 1 8 1 0 1 2 1 1 1 12 1 2 1 9 1 0 1 8 1 9 1-4M1-57l1-15 1-4 1-7 1 2 1-10 1 18 1-2 1 17 1-9 1-27 1-46 1-7 1 18 1-1 1 17 1 0 1 11 1 22 1 10 1 9 1 1 1 15 1 4 1 4 1 12 1-14 1 9 1-3 1-6 1 11 1-14 1 8 1 0 1-13 1 2 1 3 1 11 1 4 1 3 1 3 1-6 1 17 1-3 1 8 1 0 1-2 1-19M1-39l1-19 1-5 1-15 1 7 1-10 1 10 1 5 1 7 1-15 1-30 1-36 1-8 1 20 1 1 1 22 1 18 1-11 1 19 1 16 1 17 1-2 1 4 1-7 1 6 1-10 1 8 1-23 1 3 1 16 1-10 1-4 1 18 1-3 1 5 1-3 1 12 1 7 1-6 1 13 1-6 1 3 1-5 1-16 1-5 1-1 1 0 1-4M1-31l1-4 1-8 1 0 1-5 1-5 1-7 1 6 1-15 1-21 1-19 1-31 1-5 1-4 1 20 1 5 1 21 1 4 1 9 1 18 1 16 1 2 1 4 1 0 1 15 1-11 1-11 1 13 1 9 1-16 1 27 1-14 1 9 1-7 1 0 1-8 1-1 1-5 1 18 1-9 1 10 1 2 1-1 1 9 1 7 1 0 1 3 1 0M1-45l1 8 1 8 1 5 1 3 1-2 1-7 1 4 1-1 1-23 1-39 1-51 1-1 1 9 1 19 1-8 1 14 1 9 1 22 1 21 1 1 1-3 1 22 1 3 1-16 1 0 1-9 1-22 1 10 1-2 1 4 1 2 1 9 1 8 1 13 1 0 1 21 1 2 1-10 1 17 1-17 1-17 1-9 1-19 1 8 1-14 1 10 1 15M1-27l1-20 1-14 1 1 1-10 1-3 1-3 1-13 1 6 1-26 1 5 1-36 1-7 1 7 1 17 1 10 1 7 1 11 1 9 1 8 1 1 1 8 1 2 1 13 1-1 1 3 1 6 1 4 1 5 1 5 1 0 1 15 1-4 1-10 1 10 1 10 1 9 1-12 1 5 1 5 1-16 1-6 1-5 1-8 1 15 1-6 1-3 1-6M1-84l1-3 1-8 1 0 1-4 1 15 1 15 1 12 1 5 1-17 1-34 1-37 1 3 1-1 1-1 1 12 1 8 1 12 1 11 1 11 1 16 1 17 1-4 1 0 1 9 1-5 1 8 1-6 1-3 1-18 1-7 1 8 1-11 1-2 1 11 1 1 1 1 1-7 1 5 1-2 1-11 1 13 1 9 1 11 1-2 1 6 1 17 1-4M1-37l1 2 1 1 1-3 1-5 1 9 1-11 1-3 1 15 1-25 1-40 1-43 1-1 1 6 1 2 1 18 1 2 1 1 1 2 1 13 1 13 1 2 1 6 1-2 1 4 1-6 1-10 1 6 1 22 1-1 1 19 1 3 1 10 1-12 1-8 1-9 1 2 1 3 1-3 1-13 1 13 1-10 1-1 1 11 1 1 1 3 1 0 1 4M1-38l1-6 1 11 1-8 1 3 1-10 1-6 1-6 1 4 1-26 1-25 1-33 1-15 1 23 1 15 1 7 1 14 1 1 1-3 1 1 1 12 1-2 1 3 1 9 1 4 1 12 1-6 1-4 1 18 1 7 1-6 1 9 1-1 1-14 1-2 1-8 1 3 1-6 1-3 1-9 1 3 1-3 1-1 1 3 1-1 1 6 1 6 1 7M1-46l1-12 1-3 1-2 1-7 1 1 1-2 1-1 1 5 1-19 1-9 1-45 1 2 1 0 1 26 1 6 1 0 1 14 1 8 1 18 1 10 1 14 1-28 1 5 1-17 1-1 1 2 1 0 1 8 1 8 1 10 1 2 1 1 1-20 1 3 1-1 1 7 1 5 1 11 1 6 1-4 1-10 1 10 1-4 1 9 1 5 1-1 1 4M1-73l1-13 1-3 1 8 1 6 1 6 1-5 1 4 1 2 1-11 1-26 1-35 1 3 1 5 1 11 1 0 1 12 1-5 1-2 1 11 1 5 1 17 1 14 1 2 1 17 1-12 1 2 1-17 1 3 1 0 1 10 1 18 1 1 1 20 1 0 1 2 1-4 1-12 1-6 1-7 1 8 1-5 1 8 1-8 1 17 1-11 1 11 1-11M1-39l1-10 1-2 1-8 1 6 1-1 1 3 1 8 1-10 1-11 1-33 1-43 1 2 1 5 1 21 1-2 1 10 1 9 1-5 1 19 1-1 1 18 1 2 1-8 1-5 1 13 1 3 1 6 1-3 1-3 1 8 1 0 1 16 1-12 1 0 1 3 1-4 1 9 1 6 1 3 1 4 1 11 1-3 1-10 1 1 1 1 1-13 1 0" fill="none" stroke="#bfbfbf" stroke-width="1.1" stroke-linejoin="round" vector-effect="non-scaling-stroke"/>
</g></g>
<path d="M163.4 301.5v-4.5M163.4 69.2v4.5M285.8 301.5v-4.5M285.8 69.2v4.5M408.2 301.5v-4.5M408.2 69.2v4.5M163.4 283.7h4.5M457.1 283.7h-4.5M163.4 176.7h4.5M457.1 176.7h-4.5M163.4 69.7h4.5M457.1 69.7h-4.5" stroke="#222222" stroke-width="3" fill="none"/>
<rect x="163.4" y="69.2" width="293.7" height="232.3" fill="none" stroke="#222222" stroke-width="3.8"/>
<g font-size="24.5" text-anchor="middle" fill="#262626"><text x="163.4" y="335.5">0</text><text x="285.8" y="335.5">20</text><text x="408.2" y="335.5">40</text></g>
<g font-size="24.5" text-anchor="end" fill="#262626"><text x="153.4" y="293.7">-200</text><text x="153.4" y="186.7">0</text><text x="153.4" y="79.7">200</text></g>
<text x="310.2" y="372.5" font-size="27.8" text-anchor="middle" fill="#262626">Time(Samples)</text>
<text transform="translate(94.4 185.3) rotate(-90)" font-size="27.8" text-anchor="middle" fill="#262626">Micro-volts</text>
<text x="310.2" y="59.7" font-size="27.6" font-weight="bold" text-anchor="middle" fill="#000" textLength="315" lengthAdjust="spacingAndGlyphs">Predicted output: BAR</text>
<path d="M285.8 421.6V651.5M408.2 421.6V651.5M163.4 633.4H457.1M163.4 526.7H457.1M163.4 420H457.1" stroke="#dcdcdc" stroke-width="2.8" fill="none"/>
<g clip-path="url(#c2)"><g transform="translate(163.4 526.7) scale(6.1188 -0.5334)">
<path d="M1 72 2 72 3 73 4 73 5 73 6 73 7 74 8 74 9 66 10 28 11-35 12-95 13-88 14-60 15-25 16 10 17 32 18 45 19 55 20 64 21 80 22 96 23 109 24 122 25 134 26 145 27 152 28 160 29 163 30 165 31 168 32 166 33 164 34 162 35 158 36 155 37 148 38 142 39 128 40 115 41 106 42 98 43 95 44 92 45 91 46 90 47 89 48 88 48-45 47-45 46-45 45-45 44-45 43-45 42-45 41-45 40-45 39-45 38-45 37-45 36-45 35-45 34-45 33-45 32-45 31-45 30-47 29-48 28-50 27-52 26-55 25-58 24-60 23-70 22-79 21-91 20-103 19-128 18-152 17-178 16-205 15-232 14-290 13-290 12-195 11-115 10-105 9-100 8-95 7-94 6-92 5-91 4-89 3-88 2-86 1-85Z" fill="#00b2e5" stroke="#00b2e5" stroke-width="1.4" stroke-linejoin="round" vector-effect="non-scaling-stroke"/>
<path d="M1 87l1-10 1-2 1-9 1 10 1-11 1 4 1 12 1-15 1-42 1-60 1-59 1 7 1 30 1 34 1 41 1 24 1 3 1 22 1 8 1 16 1 5 1 27 1 19 1 1 1 21 1-6 1 1 1 11 1 1 1 5 1-8 1 6 1-13 1-3 1-15 1-8 1-3 1-17 1-9 1-1 1 2 1 7 1 2 1-2 1-14 1-16 1-11M1 87l1-1 1-6 1 17 1-16 1 13 1 3 1-2 1 7 1-58 1-74 1-65 1 7 1 23 1 40 1 39 1 28 1 17 1 3 1 21 1 26 1-3 1 11 1 12 1 11 1 0 1 5 1 7 1 14 1 3 1-13 1-3 1 4 1 1 1 13 1 0 1 1 1-20 1-26 1-15 1-20 1-7 1 11 1 8 1-11 1 12 1-3 1-9M1 75l1-7 1-1 1 3 1-8 1 10 1 0 1 3 1-19 1-36 1-50 1-65 1 7 1 24 1 31 1 41 1 22 1 14 1 14 1-5 1 21 1-5 1 37 1-5 1 27 1 21 1 11 1 17 1 1 1-5 1 11 1 0 1-11 1-6 1 5 1 6 1-2 1-1 1-16 1-13 1-20 1 13 1-13 1 0 1-18 1-9 1-7 1 4M1 75l1-4 1 8 1-14 1 2 1-8 1 8 1-5 1-1 1-30 1-80 1-46 1 7 1 26 1 29 1 47 1 16 1 28 1 11 1 21 1 2 1 19 1 11 1 17 1 2 1 21 1-2 1 11 1 7 1 2 1-4 1 0 1 2 1-11 1-6 1-10 1 2 1-8 1-25 1-22 1-9 1-15 1-9 1-7 1 2 1 12 1-10 1 24M1 75l1-2 1 9 1-5 1 7 1-4 1 1 1 3 1-3 1-46 1-74 1-56 1 7 1 28 1 33 1 27 1 42 1 3 1 15 1 14 1 15 1 11 1 13 1 16 1 17 1 13 1 6 1 15 1 5 1 5 1 0 1 1 1-12 1-4 1-13 1-12 1-12 1-5 1-10 1-7 1-10 1-4 1 2 1 8 1-8 1-7 1 3 1-11M1 81l1 0 1 3 1-1 1 14 1 4 1-18 1 0 1-15 1-36 1-76 1-51 1 7 1 37 1 25 1 37 1 31 1-5 1 12 1 26 1 15 1 4 1 23 1 10 1 10 1 2 1 6 1 2 1 7 1 2 1 14 1-7 1-14 1 7 1 4 1-6 1 3 1-10 1-9 1-23 1 2 1-13 1 19 1-8 1-3 1 14 1-11 1-11M1 87l1-6 1-9 1 3 1 0 1 3 1 10 1-11 1-2 1-39 1-71 1-60 1 7 1 32 1 27 1 38 1 16 1 20 1 6 1 11 1 23 1 17 1 20 1-5 1 20 1 18 1 9 1 3 1 6 1 7 1 8 1-2 1-2 1 1 1-10 1-1 1-7 1-10 1-14 1-19 1-4 1-22 1-5 1 8 1-7 1 8 1 6 1 2M1 52l1-3 1-4 1 6 1-1 1 15 1 2 1 7 1-18 1-25 1-72 1-54 1 7 1 24 1 44 1 33 1 14 1 21 1 11 1 2 1 17 1 9 1 19 1 6 1 24 1 14 1 11 1 8 1 12 1-5 1 4 1-2 1-5 1-7 1-12 1-5 1-3 1-3 1-10 1-14 1-5 1-20 1 0 1-13 1-12 1 6 1-20 1 19M1 67l1 4 1-6 1 25 1-13 1 0 1 4 1-10 1-13 1-29 1-71 1-53 1 7 1 33 1 23 1 47 1 18 1 23 1-1 1 25 1 12 1 18 1 5 1 19 1 10 1 0 1 2 1 7 1 13 1-4 1 10 1 0 1 5 1 7 1-3 1 6 1-13 1-13 1-30 1-12 1-19 1-10 1 4 1-12 1 6 1 7 1 5 1-7M1 81l1 1 1-6 1-6 1-1 1 8 1-7 1-9 1-3 1-34 1-61 1-58 1 7 1 24 1 40 1 30 1 23 1 11 1 11 1 2 1 15 1 13 1 8 1 27 1-5 1 25 1 23 1-2 1 16 1 5 1-3 1-15 1 11 1-13 1-11 1 2 1-19 1 2 1-21 1-4 1-8 1 5 1 2 1 0 1-2 1-12 1-6 1 1M1 86l1-14 1 6 1 3 1 9 1 4 1 3 1-4 1-4 1-56 1-56 1-72 1 7 1 27 1 37 1 31 1 29 1 4 1 23 1 9 1 25 1 6 1 12 1 14 1 9 1 9 1 0 1 6 1 5 1 4 1 0 1-1 1 3 1 0 1-14 1-5 1-7 1-3 1-10 1-1 1-5 1 5 1 4 1-10 1 8 1-9 1-22 1-5M1 61l1 10 1 15 1 11 1-1 1-3 1 11 1-14 1-11 1-39 1-68 1-67 1 7 1 21 1 50 1 21 1 17 1 17 1 8 1 33 1 13 1 25 1 14 1 7 1 10 1 5 1 12 1 8 1 8 1 0 1 15 1-4 1-5 1-10 1 10 1-2 1-14 1-16 1-7 1-11 1-24 1 4 1-19 1 1 1-1 1-17 1-3 1-6M1 72l1 15 1-2 1-7 1-1 1 1 1 9 1-11 1-3 1-45 1-67 1-56 1 7 1 25 1 37 1 36 1 23 1 10 1 26 1 8 1 22 1 13 1 17 1 12 1 17 1 6 1-1 1-4 1-6 1 0 1 0 1-5 1-9 1 11 1-9 1-9 1 5 1-1 1-1 1-6 1-16 1 4 1-3 1 8 1 1 1-11 1-7 1-12M1 86l1-6 1 2 1-9 1-9 1-3 1-2 1-3 1-2 1-23 1-67 1-59 1 7 1 22 1 42 1 37 1 14 1 19 1 14 1 13 1 11 1 15 1 3 1 21 1 12 1 18 1-5 1 11 1 2 1 13 1-15 1 5 1 13 1-10 1-12 1 6 1 2 1-4 1-14 1-12 1 4 1-9 1 2 1-4 1-8 1 1 1-17 1 2M1 78l1-4 1-6 1-5 1 4 1 9 1 9 1 3 1-13 1-32 1-72 1-66 1 7 1 36 1 25 1 44 1 15 1 20 1 5 1 2 1 21 1 20 1 14 1 2 1 18 1 17 1 12 1 11 1-4 1-3 1 10 1-4 1 6 1-5 1 5 1-10 1 0 1-6 1-8 1-18 1-6 1-19 1-11 1-10 1 4 1-17 1 7 1 4M1 103l1-9 1-3 1-9 1 7 1-7 1-16 1 11 1-11 1-51 1-57 1-53 1 7 1 27 1 24 1 47 1 23 1 13 1 8 1 12 1 12 1 21 1 6 1 18 1-2 1 21 1-1 1 11 1-1 1 9 1-1 1 0 1 2 1-10 1-2 1 0 1-11 1-9 1-12 1-17 1-12 1-11 1-12 1 5 1 9 1-1 1 10 1-5M1 87l1 6 1-9 1-6 1 6 1-2 1 4 1-12 1-4 1-35 1-74 1-56 1 7 1 25 1 33 1 41 1 32 1 13 1 11 1 6 1-1 1 26 1 0 1 19 1 9 1 8 1 8 1-2 1 16 1 0 1 11 1 2 1 2 1-5 1 5 1-20 1 2 1-8 1-13 1-9 1-14 1-1 1-6 1-10 1-3 1-13 1-6 1 5M1 79l1 17 1-7 1 10 1 0 1 3 1-13 1 1 1-15 1-47 1-67 1-56 1 7 1 29 1 33 1 37 1 20 1 18 1 13 1 15 1 17 1 1 1 20 1 18 1-2 1 16 1 10 1 14 1 3 1 1 1 11 1 5 1-2 1 6 1-10 1-15 1-11 1-8 1-16 1-9 1-8 1 1 1-8 1-4 1-20 1-9 1-5 1-10M1 101l1-2 1-5 1 12 1-3 1-13 1 4 1 3 1-8 1-52 1-75 1-57 1 7 1 35 1 30 1 38 1 20 1 12 1 1 1 14 1 10 1 9 1 19 1 17 1 18 1 15 1-1 1 19 1 3 1 1 1 14 1-12 1-8 1 3 1-6 1-15 1-3 1-11 1-22 1 3 1-11 1 1 1-11 1 11 1-15 1-7 1-21 1 9M1 70l1-1 1-27 1 14 1-2 1-16 1 15 1 6 1 2 1-45 1-54 1-57 1 7 1 24 1 39 1 34 1 8 1 23 1 1 1 15 1 27 1 14 1 17 1 14 1 9 1 4 1 3 1 13 1 3 1 1 1 1 1 6 1-4 1-6 1 7 1-1 1-5 1-20 1-22 1-19 1-19 1-7 1 3 1 5 1 20 1 3 1 13 1-4M1 110l1-15 1-12 1-7 1-21 1-4 1 4 1 1 1-12 1-22 1-61 1-56 1 7 1 26 1 40 1 31 1 17 1 14 1 15 1 7 1 19 1 9 1 16 1 24 1 3 1 23 1 7 1 2 1-2 1 10 1-8 1-7 1-11 1 10 1-8 1-2 1-3 1-7 1-18 1-18 1-19 1-23 1 13 1 0 1 2 1 8 1-17 1-11M1 105l1-5 1-10 1 5 1 2 1-9 1 10 1 9 1-11 1-52 1-69 1-70 1 7 1 28 1 33 1 34 1 39 1 6 1 7 1 13 1 25 1 14 1 1 1 18 1 18 1 9 1 7 1 12 1 8 1-2 1-4 1-3 1-3 1-10 1-15 1 2 1-23 1-3 1-16 1 2 1-11 1-18 1-4 1 6 1-8 1-4 1 0 1-18M1-88l1-2 1-2 1 0 1 3 1-4 1 9 1-7 1-5 1-4 1-18 1-77 1-89 1 1 1 53 1 25 1 25 1 30 1 33 1 25 1 11 1 15 1 22 1 9 1 0 1 6 1 10 1-2 1-6 1-18 1-11 1-11 1-9 1 10 1 8 1 3 1 16 1 3 1-5 1-13 1 9 1-3 1-10 1 16 1-5 1-1 1 4 1-6M1-69l1-8 1 10 1-13 1-19 1 1 1-17 1 7 1-3 1-2 1-11 1-71 1-97 1 1 1 65 1 28 1 28 1 15 1 23 1 27 1 12 1-2 1 17 1 24 1-8 1 9 1 5 1 9 1-1 1 0 1-4 1 13 1 1 1-1 1 6 1 7 1-8 1 5 1 8 1 2 1-16 1 3 1 1 1-8 1 13 1-12 1 17 1 5M1-88l1-10 1-1 1 8 1-8 1 4 1-9 1 7 1-7 1 3 1-15 1-79 1-96 1-6 1 65 1 26 1 31 1 29 1 11 1 37 1 13 1 1 1 23 1-5 1 17 1-7 1 3 1 0 1 8 1-6 1 4 1-10 1 2 1-19 1-5 1-7 1-9 1 17 1 7 1 9 1 8 1-1 1-4 1-4 1-20 1-9 1-2 1 9M1-94l1 10 1-27 1 11 1 0 1 4 1 7 1-7 1-8 1 3 1-7 1-87 1-93 1-2 1 51 1 28 1 31 1 25 1 24 1 22 1 21 1 9 1 14 1 5 1 2 1-3 1-11 1-5 1-15 1 10 1 6 1 2 1 6 1-13 1 14 1-2 1-9 1 16 1-5 1 2 1-7 1-3 1-7 1-2 1 10 1 13 1-3 1 21M1-87l1-8 1 8 1-4 1-11 1 0 1 9 1-9 1-5 1-12 1 1 1-77 1-98 1 0 1 65 1 22 1 28 1 21 1 28 1 12 1 15 1 6 1 27 1-2 1 0 1 0 1 4 1-5 1 30 1-7 1 6 1-3 1 10 1 1 1-9 1-6 1-16 1 3 1 5 1 3 1 3 1 2 1 2 1 15 1-2 1-7 1-2 1-25M1-76l1 5 1-1 1-6 1 2 1 2 1-5 1-8 1-3 1-11 1-13 1-81 1-93 1-4 1 61 1 36 1 14 1 29 1 21 1 30 1 4 1 20 1 12 1 1 1-1 1-6 1 2 1-12 1-3 1-2 1 2 1 13 1 12 1-8 1 17 1 10 1-9 1-5 1-4 1 3 1 3 1 1 1 12 1 6 1 4 1-6 1-6 1 4M1-71l1-3 1-16 1 5 1-6 1 2 1-10 1 9 1-11 1-1 1-8 1-85 1-96 1 9 1 51 1 33 1 24 1 21 1 27 1 27 1 9 1 9 1-8 1 18 1-7 1 13 1 8 1 11 1 1 1 6 1-7 1 10 1 2 1 1 1-4 1 10 1-2 1-3 1-15 1-14 1-5 1 0 1 8 1 17 1-2 1 23 1-17 1 25M1-93l1 14 1-17 1 5 1-16 1-4 1 8 1 2 1-11 1 14 1-21 1-76 1-101 1 0 1 63 1 22 1 36 1 14 1 37 1 22 1 11 1 20 1 12 1 14 1 14 1 2 1 6 1 6 1-16 1-7 1-15 1 2 1 3 1 2 1 4 1 7 1 3 1 6 1-5 1-1 1 4 1 4 1 6 1-8 1 5 1-2 1-12 1 2M1-102l1 5 1 6 1-7 1 7 1 1 1 3 1-9 1-3 1-12 1-7 1-77 1-93 1 0 1 59 1 32 1 29 1 17 1 23 1 25 1 30 1 4 1 10 1 20 1 3 1-16 1-4 1-20 1-13 1 10 1-7 1-3 1 1 1 0 1-4 1 8 1 19 1 32 1-7 1 6 1-16 1 5 1-5 1-6 1 8 1-21 1-4 1-7M1-93l1-2 1-8 1-2 1 5 1-19 1 3 1 5 1 4 1 8 1-11 1-85 1-93 1 11 1 41 1 28 1 33 1 27 1 20 1 21 1 9 1 18 1 9 1 13 1 1 1 14 1-4 1 6 1-14 1 2 1-1 1 2 1 0 1 0 1-10 1 6 1 2 1-11 1 14 1 15 1 14 1 0 1 4 1 1 1-9 1-17 1-7 1 2M1-88l1 0 1 5 1 7 1 0 1-1 1-2 1-8 1 11 1-14 1-13 1-92 1-93 1 3 1 59 1 13 1 35 1 17 1 26 1 20 1 23 1 7 1 11 1 24 1 1 1 3 1 3 1-2 1 1 1 6 1 0 1 3 1 5 1-8 1-4 1-13 1-17 1-7 1-9 1 11 1-1 1 1 1 5 1 19 1 12 1 18 1 4 1 1M1-89l1-16 1 0 1 3 1-17 1 13 1-1 1 1 1 1 1-8 1-13 1-69 1-96 1 6 1 59 1 23 1 28 1 27 1 28 1 19 1 13 1 0 1 5 1 9 1 1 1 1 1 9 1 1 1 6 1 22 1 5 1 8 1 4 1-7 1-11 1-4 1-8 1 1 1 17 1 15 1 10 1-6 1 6 1-2 1-19 1-14 1-20 1-8M1-101l1-1 1 2 1-12 1 6 1 0 1 5 1-13 1 1 1-5 1-4 1-73 1-100 1 10 1 54 1 26 1 39 1 18 1 16 1 31 1 13 1 19 1-7 1 8 1-5 1-15 1 4 1-10 1 19 1-1 1 22 1 20 1 1 1 5 1 6 1 11 1-14 1-8 1-21 1-10 1-9 1 1 1-5 1 7 1-2 1-3 1-1 1-10M1-93l1 6 1 3 1-19 1 2 1 12 1-7 1 2 1-8 1-1 1-23 1-69 1-91 1-5 1 53 1 34 1 27 1 22 1 33 1 26 1 8 1 16 1-3 1 16 1-7 1-5 1 4 1 15 1-3 1 5 1 0 1-1 1 11 1 9 1-2 1-5 1-4 1-17 1-13 1-13 1 11 1-5 1 4 1 5 1 4 1-7 1-3 1-3M1-77l1-16 1 2 1-11 1-2 1 8 1-4 1-2 1 3 1-4 1-4 1-88 1-92 1-2 1 59 1 26 1 24 1 30 1 28 1 17 1 12 1 13 1 1 1 13 1-3 1-16 1 8 1 0 1 13 1 6 1-5 1 5 1 3 1-4 1 2 1-3 1-8 1-6 1-8 1-12 1-2 1 1 1 10 1 2 1 2 1-5 1 3 1 8M1-88l1-1 1 1 1-6 1 4 1-3 1-12 1 10 1-20 1 7 1-12 1-75 1-100 1 1 1 65 1 25 1 28 1 31 1 21 1 18 1 8 1 15 1-3 1 11 1 3 1-3 1 5 1 18 1 9 1 0 1-2 1-1 1 7 1-5 1-6 1 13 1 1 1 5 1 8 1 4 1-5 1-7 1-16 1 5 1-10 1 3 1-2 1-2M1-73l1-8 1-1 1-6 1 0 1-1 1 2 1-12 1 1 1 1 1-28 1-70 1-96 1 4 1 62 1 25 1 22 1 23 1 28 1 24 1 11 1 3 1 18 1-4 1 7 1 1 1-1 1 12 1 4 1-1 1-3 1-20 1 1 1-9 1-11 1-7 1 24 1 0 1 2 1-1 1 5 1 6 1 31 1 1 1-9 1 9 1-23 1 8M1-96l1-5 1 5 1 0 1 6 1 5 1-4 1-6 1-3 1-19 1 10 1-88 1-102 1 4 1 56 1 31 1 29 1 13 1 42 1 27 1-3 1 22 1 4 1 3 1 2 1-13 1 18 1 0 1 23 1-15 1-1 1 12 1-1 1-2 1-3 1-9 1-11 1-28 1-1 1-2 1 4 1 4 1-3 1 9 1-6 1 7 1 2 1 0M1-77l1-1 1-5 1 0 1-12 1 5 1-10 1-1 1-3 1-10 1-4 1-77 1-93 1-3 1 54 1 25 1 34 1 21 1 25 1 32 1 14 1 7 1 3 1 18 1 2 1-9 1-3 1-12 1 15 1-5 1 21 1 8 1 17 1 12 1-2 1 24 1-21 1 10 1-10 1-6 1-5 1-29 1-3 1-1 1 4 1 12 1 4 1-4M1-87l1 1 1 0 1-7 1 6 1-7 1 0 1-2 1-19 1 4 1-15 1-69 1-85 1-18 1 66 1 28 1 26 1 24 1 20 1 37 1-9 1 18 1 24 1 7 1-2 1 2 1 1 1 11 1-15 1-7 1 14 1 6 1 21 1-1 1 2 1-14 1-1 1-16 1-4 1-3 1 11 1 13 1 5 1 23 1-6 1-2 1 6 1-15M1-66l1-3 1-5 1 8 1-10 1 2 1-10 1-6 1-4 1-6 1-13 1-82 1-92 1-10 1 65 1 18 1 27 1 39 1 16 1 16 1 20 1 7 1 4 1 10 1-6 1 4 1 3 1 14 1-4 1 8 1 7 1-5 1 4 1 4 1-20 1 4 1-18 1-9 1 0 1 1 1-5 1 8 1 13 1 7 1 6 1-10 1-8 1-4M1-92l1 5 1-12 1-2 1 14 1 0 1-3 1 8 1-4 1-14 1-9 1-86 1-89 1-17 1 70 1 23 1 22 1 28 1 25 1 21 1 18 1 21 1-2 1 12 1-17 1-2 1 0 1-3 1 0 1-8 1 9 1-8 1 8 1-5 1-3 1 17 1-2 1 13 1-2 1-3 1-1 1-10 1-7 1-1 1 6 1 5 1 2 1-2" fill="none" stroke="#00b2e5" stroke-width="1.1" stroke-linejoin="round" vector-effect="non-scaling-stroke"/>
<path d="M1 62 2 62 3 62 4 62 5 62 6 62 7 61 8 61 9 60 10 5 11-55 12-116 13-50 14 5 15 48 16 55 17 58 18 62 19 65 20 68 21 70 22 72 23 74 24 75 25 76 26 78 27 79 28 80 29 81 30 82 31 82 32 83 33 83 34 84 35 84 36 84 37 84 38 85 39 85 40 85 41 85 42 86 43 86 44 86 45 86 46 86 47 86 48 86 48-40 47-40 46-40 45-40 44-40 43-40 42-40 41-40 40-40 39-40 38-40 37-40 36-40 35-40 34-40 33-41 32-41 31-42 30-42 29-44 28-46 27-48 26-50 25-54 24-58 23-63 22-67 21-73 20-79 19-90 18-105 17-128 16-144 15-152 14-158 13-160 12-155 11-106 10-103 9-100 8-93 7-87 6-80 5-67 4-67 3-67 2-67 1-67Z" fill="#bfbfbf" stroke="#bfbfbf" stroke-width="1.4" stroke-linejoin="round" vector-effect="non-scaling-stroke"/>
<path d="M1 73l1 9 1 4 1-12 1 4 1-13 1 6 1-10 1 2 1-56 1-63 1-60 1 64 1 57 1 48 1 6 1 4 1 2 1 0 1 11 1 1 1 7 1 5 1-5 1 0 1 4 1 1 1-4 1 19 1-6 1 8 1-15 1 7 1 1 1 1 1 6 1-6 1-4 1-3 1-15 1 6 1 2 1 15 1-3 1 3 1 1 1-3 1 8M1 63l1-4 1 11 1 4 1-4 1 1 1 2 1 1 1-6 1-52 1-68 1-64 1 59 1 65 1 39 1 7 1-2 1 18 1-3 1-2 1 2 1 1 1 1 1-5 1 1 1 10 1 4 1 17 1-6 1 9 1 5 1-13 1 0 1-10 1-5 1 7 1-7 1 8 1 0 1 11 1 5 1-7 1 5 1-7 1 12 1-1 1 2 1 13M1 55l1 8 1 4 1 8 1 0 1-5 1 7 1 0 1-2 1-63 1-56 1-72 1 67 1 54 1 36 1 5 1 12 1 4 1-1 1-7 1 6 1 4 1 4 1 8 1 4 1 10 1 10 1-14 1 20 1-4 1 6 1 1 1-5 1 1 1 7 1-3 1 6 1-6 1 12 1-11 1 11 1-14 1 5 1 2 1-12 1 3 1 7 1 3M1 58l1-7 1 1 1-11 1 6 1 12 1-8 1 3 1-7 1-45 1-65 1-53 1 75 1 50 1 41 1 1 1 2 1-9 1 4 1 16 1-12 1 7 1-2 1 12 1-9 1-7 1-3 1 12 1-2 1 5 1 5 1 13 1 8 1-1 1-12 1-3 1 5 1 13 1-3 1 6 1 5 1-8 1-8 1 6 1-5 1 1 1 3 1 5M1 68l1-1 1-9 1 5 1-4 1 6 1-3 1 2 1-3 1-54 1-62 1-61 1 62 1 57 1 39 1 14 1 1 1-7 1-2 1 9 1 3 1 3 1 10 1-7 1 1 1 13 1 9 1 9 1-7 1 7 1 0 1 8 1-7 1-9 1-4 1-12 1-4 1-3 1-4 1 0 1 5 1 3 1 12 1 3 1 0 1-8 1 6 1 6M1 73l1-1 1 4 1-1 1-8 1-2 1-2 1-3 1 0 1-52 1-59 1-65 1 59 1 61 1 51 1-3 1 15 1-3 1 6 1-2 1 9 1 1 1 8 1-2 1 22 1-10 1 8 1 6 1-2 1 5 1-2 1 0 1-4 1 9 1-2 1-12 1-6 1 0 1-8 1 4 1 6 1 6 1 10 1-2 1-7 1-3 1 1 1 1M1 54l1-3 1 12 1-5 1 8 1 6 1-6 1 6 1 0 1-55 1-66 1-67 1 70 1 43 1 53 1 7 1 1 1-3 1 10 1-1 1 15 1-3 1 5 1 4 1 3 1-3 1 1 1-7 1 9 1-10 1 0 1-9 1-1 1-7 1-5 1 4 1 5 1 7 1-11 1 2 1 6 1-8 1 6 1 2 1-1 1 9 1 8 1 2M1 52l1 17 1-9 1 1 1 0 1-2 1 4 1-23 1 9 1-58 1-49 1-58 1 61 1 57 1 54 1-4 1 4 1 2 1 9 1 7 1 3 1 2 1 2 1-8 1 9 1-14 1-8 1 0 1 0 1 10 1 5 1 4 1-6 1-2 1 3 1-2 1 4 1 15 1-12 1 2 1 5 1-2 1 4 1-7 1 0 1 11 1-11 1 2M1 65l1-4 1 10 1-5 1 2 1-8 1-12 1 13 1-16 1-44 1-61 1-56 1 63 1 57 1 33 1 8 1 10 1 3 1 6 1 1 1-1 1 0 1 3 1 9 1 6 1 4 1-16 1-1 1-4 1-4 1-5 1 18 1 2 1-4 1 1 1 3 1-7 1 4 1 4 1 1 1-6 1-1 1-12 1-10 1 22 1-3 1 3 1 12M1 57l1 1 1 0 1 9 1-5 1-16 1 13 1-12 1 0 1-56 1-42 1-65 1 69 1 44 1 50 1 3 1 1 1 2 1 7 1 3 1 3 1 1 1-1 1-13 1 4 1 6 1-1 1 10 1 3 1 2 1 1 1 0 1-4 1-3 1 5 1 0 1 7 1 11 1 0 1 6 1-13 1-6 1 4 1-5 1-4 1 10 1 3 1-5M1 77l1 5 1-3 1-8 1 9 1-2 1 7 1-9 1 1 1-61 1-74 1-58 1 62 1 62 1 48 1 1 1 12 1-2 1 5 1 5 1 5 1 8 1 7 1 5 1 4 1-7 1-6 1-5 1 2 1-1 1 3 1-3 1 15 1-21 1 6 1-13 1-3 1-3 1 7 1 7 1 9 1 6 1 4 1-13 1 5 1 5 1 2 1-7M1 72l1 3 1-1 1-14 1 13 1-14 1 18 1-6 1-3 1-55 1-66 1-63 1 65 1 55 1 34 1 13 1 4 1 3 1 3 1 3 1-1 1 5 1-2 1 6 1 9 1 7 1-6 1-3 1 18 1-8 1-1 1-6 1-2 1-3 1 1 1 14 1-1 1-3 1-8 1 1 1-1 1 2 1-11 1 17 1 7 1-11 1 2 1 0M1 79l1 0 1-14 1-7 1-2 1-3 1 0 1-4 1 9 1-60 1-49 1-65 1 61 1 60 1 37 1 8 1 5 1 12 1 9 1 10 1 6 1-3 1 8 1 2 1 2 1 1 1 2 1 8 1-9 1 8 1 6 1-10 1-6 1-3 1-5 1 2 1 7 1-4 1 6 1-5 1-1 1 0 1-7 1 8 1-7 1 2 1-3 1 4M1 73l1 5 1-6 1 7 1 8 1-18 1 17 1-10 1 3 1-70 1-51 1-74 1 67 1 63 1 32 1 5 1 17 1 2 1-1 1 1 1-2 1 16 1 2 1-10 1 7 1-2 1 8 1-9 1 15 1-4 1 2 1 9 1 1 1 14 1-11 1-4 1 6 1 10 1-12 1-4 1 15 1-3 1-6 1 2 1 5 1-19 1 13 1-13M1 73l1-4 1 16 1-17 1 10 1-16 1 14 1 4 1-12 1-63 1-55 1-66 1 74 1 45 1 48 1-1 1 18 1-8 1 11 1-4 1 4 1 16 1-8 1 16 1-5 1 1 1 2 1 12 1-4 1 1 1-6 1 14 1-2 1-5 1-3 1-26 1 8 1 0 1 0 1 1 1 12 1 3 1 5 1-1 1 6 1-6 1 2 1 10M1 50l1 2 1-3 1 9 1 12 1 2 1-1 1-1 1 0 1-57 1-67 1-62 1 78 1 50 1 34 1 12 1-14 1 15 1-4 1 4 1-6 1 4 1 5 1 8 1 2 1 4 1-4 1 11 1-11 1-3 1 0 1 0 1 6 1-2 1 6 1-7 1-4 1-11 1 3 1 0 1 10 1-7 1 6 1 21 1 1 1-5 1 16 1-1M1 66l1-14 1 12 1-4 1 2 1-9 1 15 1-12 1 5 1-52 1-61 1-64 1 63 1 59 1 43 1 1 1 24 1 1 1 7 1 6 1-2 1 3 1-2 1 10 1-1 1-10 1-9 1 12 1-7 1-4 1-1 1 11 1 10 1-4 1 5 1 7 1 0 1 0 1-1 1-12 1 1 1-16 1 6 1-1 1-1 1 3 1 1 1 9M1 50l1 13 1 1 1-4 1 11 1-18 1 15 1 1 1 0 1-54 1-70 1-61 1 71 1 47 1 38 1 15 1 2 1 5 1 11 1-1 1 2 1 4 1 0 1 2 1-5 1 17 1-6 1-4 1-1 1-15 1 18 1-8 1 10 1-6 1 13 1-5 1 4 1 11 1-1 1-12 1 1 1 2 1-3 1 8 1-3 1-1 1 7 1 2M1 72l1-4 1-1 1-8 1-4 1 7 1-2 1 2 1 4 1-48 1-61 1-73 1 63 1 69 1 32 1 11 1 9 1-5 1 5 1 5 1 12 1-4 1-9 1 8 1 3 1 4 1-4 1 10 1-10 1 5 1-13 1 11 1-1 1 6 1-22 1 14 1-1 1-5 1 9 1 5 1-5 1 3 1 8 1 3 1 8 1-1 1-8 1-4M1 48l1 1 1-2 1 7 1 10 1-14 1 4 1 6 1 0 1-62 1-58 1-56 1 75 1 49 1 32 1 25 1 1 1 6 1 3 1 16 1-6 1-3 1-4 1-2 1 0 1 3 1-15 1 4 1 0 1 13 1-8 1-5 1 9 1-3 1-1 1-1 1-7 1-4 1 20 1-7 1 2 1 16 1 12 1-11 1 7 1 1 1-10 1 5M1-75l1 3 1 10 1 5 1 12 1-14 1-11 1 0 1-10 1-27 1-8 1-40 1-14 1 14 1-2 1 18 1 11 1 25 1 17 1 4 1-2 1 11 1-12 1 16 1-8 1 6 1 10 1 6 1 6 1-7 1 2 1 5 1-1 1-4 1 4 1-9 1 5 1 4 1 0 1 2 1 8 1 0 1 1 1-6 1 10 1 10 1-5 1 3M1-64l1 1 1-17 1 22 1 3 1-7 1 5 1 0 1-11 1-12 1-10 1-65 1 1 1 8 1 4 1 4 1 23 1 29 1 4 1 15 1 5 1 6 1-4 1 8 1 19 1 6 1 3 1 12 1-1 1 9 1-23 1 0 1-4 1-19 1-4 1 0 1-7 1-3 1 6 1-4 1 7 1 16 1-11 1 5 1-3 1 5 1-3 1 0M1-82l1 5 1 0 1 13 1 15 1-12 1-9 1-9 1 0 1 3 1-17 1-62 1-12 1 2 1 7 1 1 1 20 1 17 1 24 1 13 1 10 1 18 1 7 1 4 1-1 1 2 1-10 1 1 1 12 1 12 1 13 1-7 1-15 1-9 1-16 1-3 1-4 1-1 1-1 1 2 1 2 1 0 1 22 1 2 1 13 1-2 1 3 1-14M1-32l1-2 1 5 1-3 1-4 1-13 1-10 1-15 1-10 1-17 1-5 1-49 1-14 1 17 1-11 1 15 1 7 1 29 1 19 1 12 1 5 1 13 1 16 1-1 1 0 1 1 1-21 1 13 1 9 1 10 1 0 1-4 1 5 1-4 1-25 1-12 1 0 1-1 1-4 1 9 1 13 1 8 1 5 1-7 1 2 1 6 1 10 1-9M1-72l1 9 1-9 1-3 1-1 1-14 1-11 1 4 1 12 1 2 1-3 1-69 1-6 1 0 1 0 1-1 1 13 1 25 1 20 1 11 1 17 1 11 1 10 1 8 1 11 1 3 1-12 1 15 1-1 1-4 1 0 1-11 1-3 1-9 1 11 1 8 1 4 1 13 1 8 1-8 1-10 1-15 1-2 1 5 1 5 1 4 1 1 1 4M1-71l1-8 1-7 1-3 1-6 1-3 1-2 1-3 1-11 1 4 1 5 1-50 1-6 1 3 1 0 1 22 1 0 1 19 1 24 1-1 1 16 1 4 1 7 1 3 1 0 1 6 1 7 1-2 1-9 1-6 1-6 1-1 1 3 1 8 1 4 1 19 1 4 1 8 1-10 1 7 1 2 1-15 1 11 1-7 1-5 1-12 1-2 1-11M1-35l1 6 1-1 1-10 1 1 1-25 1-15 1-17 1 4 1-6 1-3 1-54 1-7 1 0 1 7 1 16 1 7 1 22 1 18 1 10 1 2 1 18 1 8 1 12 1-5 1-11 1-5 1 1 1 3 1-4 1 6 1-10 1 6 1 1 1-21 1 10 1 2 1 5 1 4 1 4 1 4 1-4 1-5 1 2 1-8 1-1 1-8 1 1M1-58l1-10 1 9 1-14 1 14 1-17 1-13 1-4 1-15 1 3 1 2 1-52 1-7 1 14 1 0 1 9 1 13 1 26 1 22 1 0 1-2 1 19 1 17 1 5 1 0 1 13 1-2 1 15 1-7 1-1 1-7 1-8 1 7 1-6 1-12 1 2 1 12 1-2 1 7 1 4 1 16 1-6 1-4 1-9 1-10 1 3 1-10 1 2M1-93l1 0 1-2 1-4 1-6 1-7 1 1 1-12 1 14 1-2 1-6 1-38 1-5 1-3 1 3 1 5 1 16 1 11 1 20 1 16 1 4 1 0 1 7 1 0 1 6 1-7 1 1 1 2 1 9 1 14 1-8 1 0 1-2 1 14 1 1 1 5 1 9 1-9 1-5 1 1 1 8 1-7 1-6 1-3 1 0 1 3 1-5 1 10M1-62l1 13 1-7 1-5 1-1 1-20 1-4 1-11 1 4 1-1 1-6 1-55 1 1 1-13 1 12 1 4 1 17 1 22 1 26 1 6 1 2 1 20 1-11 1-1 1 8 1-2 1 10 1 18 1 4 1 16 1 9 1-1 1-18 1-8 1 1 1-17 1 1 1-3 1-6 1-1 1 17 1 8 1-4 1-4 1-26 1 10 1 9 1-6M1-98l1 5 1-5 1 3 1-1 1 1 1 1 1 2 1-3 1 2 1-14 1-48 1 0 1 1 1-6 1 16 1 15 1 25 1 2 1 15 1 10 1 18 1 2 1 21 1 7 1 15 1-7 1-9 1 7 1 4 1 3 1-7 1-10 1-11 1 4 1-1 1 9 1 1 1-12 1-8 1 6 1 1 1-6 1 2 1 8 1-3 1-12 1 11M1-62l1-2 1-1 1-7 1 5 1-24 1-9 1-5 1-4 1 3 1-5 1-44 1-6 1-3 1 8 1 1 1 27 1 25 1 18 1 9 1 10 1 0 1 2 1-5 1 1 1 5 1 3 1-10 1 3 1-6 1 7 1-14 1 12 1-6 1 11 1-5 1 7 1 12 1 14 1 13 1 13 1 4 1-10 1-18 1-19 1 0 1-19 1 14M1-94l1-10 1 11 1 1 1 17 1-16 1-2 1-3 1 0 1-7 1 12 1-64 1 5 1-6 1 7 1 6 1 15 1 27 1 18 1 6 1 1 1 9 1-6 1-12 1 13 1-6 1 10 1 9 1 3 1 4 1 12 1 0 1 7 1-5 1-3 1 0 1-21 1-2 1-3 1 4 1 9 1 7 1 12 1-3 1 6 1-14 1 0 1-12M1-103l1-1 1 7 1 6 1-9 1-12 1 1 1-12 1-8 1 4 1 13 1-41 1-6 1-2 1 12 1-10 1 25 1 15 1 17 1 12 1-1 1 14 1-8 1 1 1 23 1-5 1 11 1 8 1-1 1 2 1-9 1-23 1 1 1 1 1-5 1 1 1 5 1-2 1 6 1 3 1 1 1 6 1-2 1 5 1 6 1 2 1-3 1 4M1-78l1-5 1 4 1-4 1-4 1 2 1-8 1-7 1-16 1 8 1-2 1-45 1-10 1 0 1 10 1-1 1 13 1 28 1 13 1 8 1 15 1-11 1 10 1 0 1 14 1 6 1-7 1 8 1 12 1 7 1 7 1 8 1 5 1-13 1-13 1-4 1-5 1-3 1 8 1 4 1 7 1 5 1 5 1-1 1 4 1-4 1-1 1-11M1-52l1 15 1 2 1 6 1-1 1-26 1-4 1-21 1-14 1-7 1-11 1-42 1-1 1-13 1 13 1 8 1 17 1 24 1 13 1 5 1 11 1 2 1 6 1 3 1 4 1 7 1 4 1 0 1-17 1 1 1-1 1 7 1-1 1 3 1-4 1 10 1-3 1 9 1 9 1 9 1 2 1-7 1-7 1-7 1 6 1-3 1-1 1 5M1-94l1 7 1-2 1-13 1 0 1-21 1-7 1-4 1 10 1 3 1 0 1-34 1-9 1 1 1 17 1-5 1 27 1 29 1 17 1-3 1 15 1-4 1 2 1-8 1 7 1 8 1-11 1-2 1 3 1 24 1 13 1-4 1 13 1-13 1 1 1 5 1-8 1 13 1 7 1-1 1 6 1 8 1-3 1 5 1 0 1-12 1 15 1-5M1-89l1 1 1 1 1 9 1 3 1-5 1-7 1-4 1-15 1-3 1-2 1-44 1-18 1 8 1 13 1 0 1 21 1 27 1 10 1 0 1 13 1 5 1 16 1 8 1-3 1 4 1-4 1 12 1-1 1 9 1 8 1 2 1-6 1-11 1-6 1-2 1-2 1-6 1-1 1 3 1 6 1-1 1 2 1 8 1 3 1 7 1-3 1 3M1-61l1-7 1-4 1 14 1-1 1-10 1 6 1-12 1 3 1-8 1-12 1-63 1-5 1 7 1 13 1-7 1 26 1 18 1 17 1-3 1 14 1-7 1 6 1-3 1-10 1 12 1 1 1 5 1 1 1 10 1 22 1 1 1 5 1-7 1-18 1-7 1-6 1-6 1 13 1 7 1 6 1-1 1 12 1-12 1-1 1-8 1-3 1-1M1-52l1-1 1 1 1-2 1-7 1-6 1-13 1 1 1-7 1-17 1-5 1-47 1-8 1 1 1 6 1 10 1 20 1 21 1 27 1 0 1 4 1 4 1 3 1 11 1 14 1 1 1 14 1 13 1 0 1 3 1-17 1 1 1-21 1 9 1-4 1 4 1-19 1 6 1 0 1-7 1 4 1-8 1-6 1-5 1 7 1-2 1-2 1 14M1-70l1 10 1-7 1-11 1-10 1-16 1-12 1-3 1-4 1 20 1-19 1-33 1-5 1 1 1 5 1-6 1 22 1 8 1 32 1 22 1 12 1 0 1 9 1-2 1 10 1 0 1 6 1-10 1 2 1-6 1 3 1 20 1 7 1-6 1 14 1-7 1-4 1-13 1-17 1 5 1-6 1 13 1 15 1 22 1-2 1 0 1 3 1-8M1-35l1-5 1-9 1-3 1-3 1-12 1-3 1-13 1-5 1 1 1-1 1-67 1-5 1-2 1 9 1 3 1 9 1 32 1 21 1-2 1 13 1 13 1 5 1 17 1-6 1 16 1 0 1 1 1-13 1 6 1-1 1 2 1-6 1-9 1 3 1-3 1-2 1-10 1 7 1-8 1-1 1-1 1-14 1 21 1-1 1 2 1 13 1 13M1-61l1 1 1 5 1-13 1-5 1-9 1-18 1-3 1 12 1-4 1-3 1-57 1 1 1-5 1 11 1 5 1 20 1 21 1 14 1 11 1 16 1 8 1 19 1-2 1-4 1 19 1 5 1-5 1 7 1-19 1-3 1-7 1 2 1 5 1 0 1 12 1-2 1 6 1 5 1-18 1-6 1-3 1-7 1-10 1 4 1 12 1 1 1 11M1-104l1 12 1-4 1 16 1 9 1-17 1-15 1-11 1-14 1 22 1-14 1-35 1-4 1 1 1 11 1 8 1 10 1 17 1 8 1 8 1 10 1 7 1 10 1-2 1 11 1 3 1-3 1-6 1 6 1 2 1 3 1-14 1-3 1-4 1 0 1-3 1 8 1-14 1 8 1-4 1 22 1 1 1 9 1 9 1-9 1-1 1-12 1 3" fill="none" stroke="#bfbfbf" stroke-width="1.1" stroke-linejoin="round" vector-effect="non-scaling-stroke"/>
</g></g>
<path d="M163.4 651.5v-4.5M163.4 421.6v4.5M285.8 651.5v-4.5M285.8 421.6v4.5M408.2 651.5v-4.5M408.2 421.6v4.5M163.4 633.4h4.5M457.1 633.4h-4.5M163.4 526.7h4.5M457.1 526.7h-4.5M163.4 420h4.5M457.1 420h-4.5" stroke="#222222" stroke-width="3" fill="none"/>
<rect x="163.4" y="421.6" width="293.7" height="229.9" fill="none" stroke="#222222" stroke-width="3.8"/>
<g font-size="24.5" text-anchor="middle" fill="#262626"><text x="163.4" y="685.5">0</text><text x="285.8" y="685.5">20</text><text x="408.2" y="685.5">40</text></g>
<g font-size="24.5" text-anchor="end" fill="#262626"><text x="153.4" y="643.4">-200</text><text x="153.4" y="536.7">0</text><text x="153.4" y="430">200</text></g>
<text x="310.2" y="722.5" font-size="27.8" text-anchor="middle" fill="#262626">Time(Samples)</text>
<text transform="translate(94.4 536.5) rotate(-90)" font-size="27.8" text-anchor="middle" fill="#262626">Micro-volts</text>
<text x="310.2" y="412.1" font-size="27.6" font-weight="bold" text-anchor="middle" fill="#000" textLength="177.5" lengthAdjust="spacingAndGlyphs">Ground Truth</text>
<path d="M700.4 69.2V301.5M822.4 69.2V301.5M578.4 224.1H871.2M578.4 147.4H871.2" stroke="#dcdcdc" stroke-width="2.8" fill="none"/>
<g clip-path="url(#c3)">
<path d="M584.5 147.4 L590.6 147.5 L596.7 147.8 L602.8 148.3 L608.9 148.9 L615 150.8 L621.1 154.4 L627.2 159.2 L633.3 166.5 L639.4 178.2 L645.5 209.7 L651.6 233.2 L657.7 221.4 L663.8 185 L669.9 166.4 L676 158.4 L682.1 156.8 L688.2 154.8 L694.3 153 L700.4 151.8 L706.5 150.5 L712.6 147.6 L718.7 144.4 L724.8 142.7 L730.9 141.2 L737 140.1 L743.1 139.2 L749.2 138.5 L755.3 138 L761.4 137.5 L767.5 137.1 L773.6 136.8 L779.7 136.4 L785.8 136.1 L791.9 135.7 L798 135.2 L804.1 134.8 L810.2 134.4 L816.3 134.2 L822.4 134.1 L828.5 134.2 L834.6 134.3 L840.7 134.6 L846.8 134.8 L852.9 135.2 L859 135.8 L865.1 136.9 L871.2 138.2" fill="none" stroke="#bfbfbf" stroke-width="4" stroke-linejoin="round"/>
<path d="M584.5 147.4 L590.6 147.4 L596.7 147.4 L602.8 147.4 L608.9 147.4 L615 148 L621.1 149.5 L627.2 152.2 L633.3 159.4 L639.4 170.6 L645.5 194.5 L651.6 230.7 L657.7 258.9 L663.8 254.7 L669.9 240.3 L676 220 L682.1 201.1 L688.2 182.8 L694.3 165.1 L700.4 149.5 L706.5 136.5 L712.6 125 L718.7 115.3 L724.8 107.4 L730.9 100.2 L737 93.9 L743.1 89 L749.2 85.6 L755.3 82.6 L761.4 80.1 L767.5 78.3 L773.6 77.6 L779.7 78.6 L785.8 81.2 L791.9 84.6 L798 88.4 L804.1 92.2 L810.2 97 L816.3 102.2 L822.4 107.4 L828.5 112.1 L834.6 116.6 L840.7 121 L846.8 125.2 L852.9 129 L859 132.3 L865.1 135.4 L871.2 138.2" fill="none" stroke="#12a9dc" stroke-width="4" stroke-linejoin="round"/>
</g>
<rect x="686.5" y="233.5" width="125" height="66.2" fill="#fff"/>
<path d="M578.4 301.5v-4.5M578.4 69.2v4.5M700.4 301.5v-4.5M700.4 69.2v4.5M822.4 301.5v-4.5M822.4 69.2v4.5M578.4 300.7h4.5M871.2 300.7h-4.5M578.4 224.1h4.5M871.2 224.1h-4.5M578.4 147.4h4.5M871.2 147.4h-4.5M578.4 70.7h4.5M871.2 70.7h-4.5" stroke="#222222" stroke-width="3" fill="none"/>
<rect x="578.4" y="69.2" width="292.8" height="232.3" fill="none" stroke="#222222" stroke-width="3.8"/>
<g font-size="24.5" text-anchor="middle" fill="#262626"><text x="578.4" y="335.5">0</text><text x="700.4" y="335.5">20</text><text x="822.4" y="335.5">40</text></g>
<g font-size="24.5" text-anchor="end" fill="#262626"><text x="568.4" y="310.7">-200</text><text x="568.4" y="234.1">-100</text><text x="568.4" y="157.4">0</text><text x="568.4" y="80.7">100</text></g>
<text x="724.8" y="372.5" font-size="27.8" text-anchor="middle" fill="#262626">Time(Samples)</text>
<text transform="translate(509.4 185.3) rotate(-90)" font-size="27.8" text-anchor="middle" fill="#262626">Micro-volts</text>
<text x="724.8" y="59.7" font-size="27.6" font-weight="bold" text-anchor="middle" fill="#000" textLength="223.5" lengthAdjust="spacingAndGlyphs">Mean-waveforms</text>
<path d="M694.3 245.4h52.8" stroke="#0a9fd0" stroke-width="4.6"/>
<path d="M694.3 281.4h52.8" stroke="#c0c0c0" stroke-width="4.6"/>
<text x="758.8" y="255.4" font-size="28.5" fill="#000">SA</text>
<text x="758.8" y="291.2" font-size="28.5" fill="#000">BA</text>
<path d="M700.4 421.6V651.5M822.4 421.6V651.5M578.4 574.9H871.2M578.4 498.2H871.2" stroke="#dcdcdc" stroke-width="2.8" fill="none"/>
<g clip-path="url(#c4)">
<path d="M584.5 498.2 L590.6 498.3 L596.7 498.6 L602.8 499.1 L608.9 499.8 L615 501.4 L621.1 504.7 L627.2 509.5 L633.3 519.8 L639.4 536.2 L645.5 561.4 L651.6 585.5 L657.7 578.9 L663.8 552.6 L669.9 530.8 L676 518.5 L682.1 514.2 L688.2 511.4 L694.3 508.2 L700.4 504.6 L706.5 500.9 L712.6 496.7 L718.7 492.3 L724.8 488.7 L730.9 486.6 L737 485.1 L743.1 483.7 L749.2 482.7 L755.3 481.9 L761.4 481.3 L767.5 480.7 L773.6 480.3 L779.7 480 L785.8 479.8 L791.9 479.8 L798 479.8 L804.1 479.8 L810.2 479.8 L816.3 479.8 L822.4 479.9 L828.5 480.8 L834.6 482.3 L840.7 483.8 L846.8 485.1 L852.9 486.4 L859 487.8 L865.1 489.2 L871.2 490.6" fill="none" stroke="#bfbfbf" stroke-width="4" stroke-linejoin="round"/>
<path d="M584.5 498.2 L590.6 498.2 L596.7 498.2 L602.8 498.2 L608.9 498.2 L615 498.6 L621.1 499.5 L627.2 501.2 L633.3 509.9 L639.4 523.8 L645.5 542.6 L651.6 570.9 L657.7 617 L663.8 617 L669.9 599.1 L676 579.8 L682.1 560.4 L688.2 541.9 L694.3 523.5 L700.4 506.7 L706.5 493.3 L712.6 482.4 L718.7 473 L724.8 464.2 L730.9 455.7 L737 447.8 L743.1 441 L749.2 435.7 L755.3 430.6 L761.4 426.1 L767.5 422.8 L773.6 421.6 L779.7 422 L785.8 423 L791.9 425.2 L798 429.3 L804.1 434.6 L810.2 440.3 L816.3 445.9 L822.4 452.3 L828.5 458.6 L834.6 464.1 L840.7 469.4 L846.8 474.5 L852.9 479.4 L859 484.1 L865.1 488.6 L871.2 492.9" fill="none" stroke="#12a9dc" stroke-width="4" stroke-linejoin="round"/>
</g>
<rect x="686.5" y="583.5" width="125" height="66.2" fill="#fff"/>
<path d="M578.4 651.5v-4.5M578.4 421.6v4.5M700.4 651.5v-4.5M700.4 421.6v4.5M822.4 651.5v-4.5M822.4 421.6v4.5M578.4 651.5h4.5M871.2 651.5h-4.5M578.4 574.9h4.5M871.2 574.9h-4.5M578.4 498.2h4.5M871.2 498.2h-4.5M578.4 421.6h4.5M871.2 421.6h-4.5" stroke="#222222" stroke-width="3" fill="none"/>
<rect x="578.4" y="421.6" width="292.8" height="229.9" fill="none" stroke="#222222" stroke-width="3.8"/>
<g font-size="24.5" text-anchor="middle" fill="#262626"><text x="578.4" y="685.5">0</text><text x="700.4" y="685.5">20</text><text x="822.4" y="685.5">40</text></g>
<g font-size="24.5" text-anchor="end" fill="#262626"><text x="568.4" y="661.5">-200</text><text x="568.4" y="584.9">-100</text><text x="568.4" y="508.2">0</text><text x="568.4" y="431.6">100</text></g>
<text x="724.8" y="722.5" font-size="27.8" text-anchor="middle" fill="#262626">Time(Samples)</text>
<text transform="translate(509.4 536.5) rotate(-90)" font-size="27.8" text-anchor="middle" fill="#262626">Micro-volts</text>
<path d="M694.3 595.4h52.8" stroke="#0a9fd0" stroke-width="4.6"/>
<path d="M694.3 631.4h52.8" stroke="#c0c0c0" stroke-width="4.6"/>
<text x="758.8" y="605.4" font-size="28.5" fill="#000">SA</text>
<text x="758.8" y="641.2" font-size="28.5" fill="#000">BA</text>
<path d="M1139.2 69.2V301.5M1285.6 69.2V301.5M992.8 254.6H1285.6M992.8 176.9H1285.6M992.8 99.1H1285.6" stroke="#dcdcdc" stroke-width="2.8" fill="none"/>
<path d="M1073 214 1106 167 1103 181 1112 157 1119 204 1100 181 1102 201 1110 209 1111 151 1063 184 1060 180 1066 196 1090 229 1062 181 1086 149 1094 94 1098 122 1102 171 1105 194 1084 134 1092 213 1105 196 1097 141 1119 108 1117 144 1106 161 1095 108 1094 126 1094 140 1044 201 1085 134 1123 178 1095 148 1102 169 1114 204 1126 144 1044 232 1095 106 1096 219 1122 147 1097 142 1090 181 1115 149 1115 174 1128 198 1072 172 1092 170 1098 176 1078 174 1121 184 1132 105 1082 156 1078 187 1078 199 1064 196 1079 210 1062 191 1132 163 1095 208 1089 203 1069 215 1088 168 1091 167 1121 131 1090 230 1094 172 1115 158 1109 193 1079 192 1101 150 1040 172 1124 116 1112 168 1107 128 1079 163 1106 172 1129 175 1079 185 1085 140 1067 230 1102 148 1075 147 1062 163 1081 197 1129 157 1085 174 1131 152 1082 176 1074 208 1086 161 1088 165 1117 115 1066 194 1075 167 1101 172 1087 209 1066 163 1093 176 1102 148 1130 160 1108 217 1089 200 1085 147 1098 172 1098 181 1092 196 1087 193 1093 233 1097 175 1104 204 1079 161 1083 168 1084 218 1070 208 1088 216 1122 159 1080 140 1111 189 1078 191 1109 209 1117 174 1111 170 1105 151 1119 182 1130 193 1102 151 1097 148 1067 193 1114 164 1077 181 1100 202 1120 177 1078 182 1085 187 1101 184 1107 159 1118 191 1098 166 1102 234 1077 176 1107 167 1100 136 1090 200 1123 140 1094 197 1125 166 1082 145 1070 194 1108 176 1087 166 1075 193 1109 199 1121 166 1095 189 1107 182 1101 134 1119 206 1121 175 1102 168 1102 189 1107 138 1086 181 1111 134 1102 163 1105 179 1103 179 1090 247 1064 182 1110 153 1098 182 1106 180 1096 130 1072 206 1092 234 1075 155 1105 173 1120 190 1130 157 1085 149 1106 163 1094 230 1059 196 1113 189 1098 220 1069 192 1109 146 1118 186 1093 154 1078 195 1096 176 1112 154 1088 249 1110 138 1105 160 1104 135 1087 183 1078 192 1081 208 1060 199 1114 254 1118 164 1083 174 1091 181 1121 156 1102 180 1092 205 1093 201 1116 171 1109 131 1114 186 1125 215 1121 236 1079 188 1083 247 1069 185 1065 176 1116 125 1100 175 1088 99 1117 145 1101 141 1061 171 1085 251 1115 188 1103 194 1088 133 1101 162 1067 166 1084 169 1077 176 1105 214 1101 200 1118 153 1096 86 1110 179 1111 159 1120 192 1131 171 1089 202 1090 123 1099 206 1093 171 1113 176 1099 87 1093 174 1074 160 1087 126 1117 140 1087 192 1089 178 1089 196 1097 176 1089 153 1114 182 1134 143 1118 108 1070 176 1112 131 1110 138 1069 220 1106 231 1086 187 1102 145 1100 198 1078 174 1106 159 1098 171 1071 191 1109 202 1103 151 1138 154 1091 215 1076 236 1063 174 1095 167 1067 253 1064 146 1116 204 1097 170 1078 205 1113 145 1112 157 1098 160 1093 127 1100 157 1094 196 1095 186 1081 160 1132 146 1094 198 1070 172 1106 193 1097 200 1121 157 1104 120 1056 186 1101 181 1097 138 1084 201 1127 126 1105 145 1098 182 1094 167 1088 226 1094 168 1094 156 1102 142 1099 178 1107 142 1089 204 1120 176 1103 184 1101 130 1127 195 1071 288 1107 122 1101 180 1111 193 1108 127 1119 140 1088 189 1080 129 1119 163 1095 168 1085 166 1105 156 1097 248 1093 218 1066 125 1088 185 1091 203 1125 212 1105 187 1119 137 1098 218 1110 138 1108 177 1107 191 1101 162 1092 207 1092 203 1075 156 1093 192 1087 168 1090 200 1101 168 1080 216 1119 170 1117 145 1095 183 1125 178 1089 204 1093 205 1098 212 1105 160 1100 191 1119 103 1094 200 1107 175 1098 155 1072 168 1077 224 1089 136 1084 168 1079 167 1101 138 1099 174 1062 186 1110 162 1099 157 1111 193 1094 164 1100 202 1060 187 1109 119 1103 197 1104 175 1084 226 1063 216 1088 178 1096 169 1130 158 1120 185 1083 199 1063 146 1100 152 1127 145 1125 229 1118 154 1086 150 1096 197 1061 143 1049 201 1124 140 1084 191 1085 175 1094 215 1069 158 1073 223 1137 177 1072 219 1109 191 1093 247 1084 182 1096 133 1104 258 1066 221 1090 179 1106 221 1055 177 1077 259 1078 201 1073 226 1113 201 1100 168 1088 111 1070 115 1077 196 1100 142 1107 181 1088 146 1123 178 1117 148 1100 208 1072 178 1045 222 1103 223 1125 110 1076 192 1093 195 1086 168 1125 157 1097 172 1083 166 1086 212 1107 226 1086 194 1093 225 1078 191 1106 174 1091 204 1096 261 1107 141 1095 206 1119 183 1120 171 1081 191 1083 189 1104 180 1087 182 1102 173 1105 154 1100 152 1096 143 1103 148 1092 221 1087 180 1102 174 1122 200 1064 201 1083 183 1107 89 1072 222 1094 221 1082 147 1094 178 1115 216 1097 177 1100 204 1088 184 1108 191 1106 233 1103 150 1079 195 1095 168 1117 159 1091 185 1100 151 1100 190 1089 204 1080 200 1085 160 1074 187 1075 166 1101 137 1105 201 1096 195 1086 212 1090 177 1099 102 1092 176 1094 185 1090 178 1092 157 1103 198 1095 168 1091 186 1094 160 1098 191 1094 141 1079 167 1091 72 1106 169 1093 222 1086 124 1102 181 1095 176 1079 183 1104 214 1091 258 1066 170 1117 111 1073 192 1090 149 1101 171 1106 184 1112 177 1114 160 1099 207 1069 237 1104 233 1119 172 1072 180 1074 188 1091 145 1111 141 1087 146 1094 174 1103 164 1072 172 1068 179 1094 175 1076 159 1093 154 1083 205 1097 147 1073 206 1087 189 1087 151 1108 169 1110 139 1085 204 1107 109 1054 218 1109 192 1110 162 1074 202 1102 199 1106 162 1090 169 1089 174 1078 146 1091 146 1132 110 1095 172 1095 168 1081 237 1101 172 1122 109 1072 217 1109 135 1098 174 1063 129 1083 167 1101 199 1110 126 1095 173 1107 142 1110 193 1079 202 1049 242 1092 198 1081 160 1101 150 1092 190 1080 178 1064 220 1106 146 1094 210 1105 192 1093 206 1127 116 1081 219 1094 159 1117 166 1074 181 1100 220 1091 188 1078 180 1114 137 1080 203 1107 179 1089 117 1051 221 1081 187 1125 164 1090 175 1090 169 1139 171 1092 181 1059 181 1094 234 1091 175 1080 155 1085 226 1109 173 1098 222 1071 220 1093 182 1119 119 1098 178 1128 156 1113 181 1094 186 1083 173 1081 188 1102 112 1062 194 1107 180 1110 153 1104 184 1092 186 1078 182 1077 214 1071 159 1085 208 1109 181 1101 179 1102 168 1058 156 1113 209 1111 174 1097 139 1112 139 1130 126 1085 220 1110 218 1089 191 1083 145 1101 180 1111 180 1116 106 1093 183 1115 221 1074 219 1067 193 1100 175 1095 151 1114 131 1093 178 1121 150 1118 177 1094 196 1095 165 1087 125 1070 167 1076 179 1082 183 1096 199 1074 210 1096 154 1123 210 1103 186 1095 168 1109 158 1095 133 1100 174 1115 198 1079 145 1092 230 1109 135 1082 222 1094 168 1085 209 1104 157 1068 225 1089 199 1099 161 1127 149 1111 213 1083 154 1070 154 1104 168 1093 212 1076 203 1088 147 1077 206 1065 190 1095 147 1128 143 1080 180 1100 177 1076 179 1074 192 1090 254 1105 111 1089 199 1111 206 1095 171 1085 185 1080 203 1106 196 1085 203 1104 183 1080 177 1060 252 1100 122 1086 173 1071 188 1098 159 1082 130 1078 144 1076 166 1118 103 1093 226 1109 189 1076 205 1079 165 1098 156 1110 180 1107 136 1127 154 1091 206 1088 181 1099 213 1088 187 1085 201 1101 202 1103 203 1099 207 1115 144 1118 188 1072 228 1091 149 1107 151 1074 159 1108 186 1051 225 1093 134 1099 177 1122 117 1102 156 1117 185 1102 185 1078 173 1114 113 1109 137 1092 222 1084 172 1085 128 1116 170 1125 141 1124 166 1109 176 1096 144 1128 154 1100 199 1092 165 1074 202 1076 182 1111 158 1091 208 1067 192 1122 169 1094 190 1076 157 1108 212 1074 150 1080 187 1078 178 1082 202 1076 133 1140 144 1107 153 1096 179 1089 158 1074 213 1108 210 1124 168 1099 136 1095 173 1085 168 1107 195 1107 142 1104 193 1112 128 1087 234 1083 183 1118 129 1107 188 1109 169 1078 238 1113 213 1117 99 1096 200 1084 203 1102 144 1082 194 1084 150 1113 191 1090 175 1064 210 1098 216 1099 173 1086 152 1079 174 1091 147 1082 167 1106 137 1124 204 1094 209 1112 127 1090 173 1118 157 1093 225 1083 155 1070 183 1099 175 1109 190 1120 175 1113 183 1100 184 1125 190 1084 141 1110 169 1091 216 1091 169 1116 137 1121 151 1083 194 1122 158 1120 208 1087 205 1100 197 1072 192 1055 217 1103 206 1094 203 1089 173 1104 159 1082 140 1101 192 1119 174 1130 132 1094 191 1081 208 1091 140 1099 177 1103 181 1073 232 1121 170 1124 104 1101 150 1089 183 1097 175 1122 163 1112 163 1107 115 1068 157 1085 176 1090 193 1072 269 1134 128 1092 233 1108 122 1104 222 1086 173 1095 143 1078 205 1051 168 1107 182 1063 169 1070 229 1061 239 1079 219 1115 143 1097 193 1095 217 1103 200 1086 172 1079 228 1114 218 1072 225 1082 189 1037 226 1121 126 1111 170 1099 191 1065 184 1115 156 1095 151 1101 140 1088 236 1104 145 1081 178 1109 252 1140 127 1092 214 1066 92 1089 159 1083 194 1107 199 1094 184 1104 146 1092 136 1086 194 1097 184 1110 256 1063 262 1121 137 1082 172 1063 205 1123 141 1135 169 1117 161 1101 165 1110 128 1097 164 1094 169 1151 153 1176 158 1164 194 1149 216 1151 155 1171 212 1148 144 1192 134 1199 175 1172 189 1201 140 1172 159 1154 181 1148 159 1187 152 1148 214 1177 174 1161 207 1169 164 1178 192 1165 214 1169 170 1159 149 1144 138 1172 151 1170 190 1156 149 1165 163 1160 150 1176 204 1197 123 1179 154 1165 147 1208 150 1148 183 1167 143 1145 196 1160 146 1184 156 1183 159 1167 238 1151 213 1173 166 1148 181 1163 162 1156 199 1185 169 1181 190 1161 185 1149 161 1143 179 1130 173 1165 140 1197 175 1165 211 1157 176 1165 150 1173 141 1154 176 1148 188 1165 187 1158 227 1154 197 1168 159 1157 182 1170 197 1181 106 1171 185 1168 138 1185 202 1170 192 1157 170 1173 177 1151 188 1148 133 1139 171 1166 173 1148 198 1159 193 1160 174 1157 166 1176 183 1176 166 1155 166 1182 174 1135 169 1180 198 1162 163 1176 145 1188 192 1179 101 1128 206 1175 190 1134 183 1167 195 1168 147 1180 154 1144 196 1166 159 1163 177 1132 231 1145 204 1154 119 1180 197 1153 198 1154 197 1131 161 1174 152 1165 162 1158 237 1165 175 1142 254 1182 196 1160 199 1190 205 1180 241 1178 183 1162 224 1169 175 1171 213 1151 212 1165 191 1147 146 1155 150 1177 190 1133 188 1174 137 1169 161 1153 204 1215 114 1142 180 1171 225 1159 163 1190 114 1158 189 1156 174 1177 199 1160 195 1151 199 1193 109 1187 212 1168 104 1170 193 1173 179 1157 173 1171 177 1163 207 1163 156 1165 181 1140 157 1145 167 1158 156 1180 176 1148 212 1168 116 1174 174 1185 169 1177 158 1132 166 1192 170 1176 154 1159 190 1180 186 1155 156 1179 122 1154 220 1181 211 1157 186 1192 159 1144 188 1185 216 1142 158 1166 204 1160 176 1145 203 1187 153 1182 167 1155 172 1149 174 1159 187 1159 206 1186 207 1167 211 1178 174 1167 160 1170 167 1170 162 1156 189 1160 199 1155 142 1140 140 1155 163 1164 181 1173 121 1162 178 1155 122 1183 132 1164 230 1172 223 1154 153 1154 201 1129 174 1170 186 1170 219 1149 179 1178 169 1144 201 1182 183 1168 161 1155 180 1135 209 1164 157 1185 178 1171 175 1151 206 1163 176 1152 103 1163 157 1159 98 1128 207 1167 140 1163 205 1189 143 1159 186 1160 174 1136 188 1154 168 1169 204 1185 142 1149 215 1152 173 1184 191 1151 168 1163 178 1162 187 1191 132 1158 143 1194 146 1168 188 1165 169 1184 192 1137 206 1169 231 1160 202 1145 183 1182 205 1167 179 1174 171 1153 157 1170 202 1131 215 1167 153 1154 193 1134 206 1165 193 1162 206 1149 177 1138 191 1182 183 1155 206 1142 206 1143 195 1154 215 1163 149 1175 179 1162 208 1159 162 1175 133 1139 147 1169 130 1163 143 1162 209 1168 190 1162 164 1175 153 1178 214 1181 192 1164 189 1144 164 1146 204 1186 230 1136 166 1156 160 1162 193 1174 192 1154 177 1145 230 1136 167 1193 127 1152 199 1147 188 1179 171 1162 271 1167 210 1159 170 1165 156 1187 230 1138 145 1171 194 1159 180 1180 178 1163 216 1186 151 1155 220 1163 152 1200 101 1157 193 1147 173 1151 167 1168 162 1148 152 1160 214 1163 172 1164 149 1183 100 1162 142 1163 140 1160 163 1174 188 1154 265 1173 176 1160 143 1169 166" fill="none" stroke="none" marker-start="url(#m5)" marker-mid="url(#m5)" marker-end="url(#m5)"/>
<path d="M1173 184 1207 151 1203 220 1208 124 1195 144 1210 243 1226 104 1223 211 1209 208 1163 165 1223 209 1200 185 1250 188 1197 154 1200 215 1210 155 1216 191 1244 130 1179 223 1194 191 1217 181 1215 166 1186 253 1220 140 1217 192 1225 187 1186 198 1230 166 1228 192 1225 133 1207 196 1240 171 1189 198 1241 162 1253 151 1219 146 1201 149 1212 187 1222 192 1190 212 1225 167 1215 156 1195 196 1248 201 1241 181 1225 169 1208 177 1234 196 1194 157 1206 186 1210 193 1176 190 1204 222 1202 174 1250 187 1242 186 1224 184 1230 171 1206 228 1235 220 1201 127 1219 175 1217 171 1207 170 1211 189 1224 157 1221 148 1253 117 1216 211 1238 170 1230 185 1232 208 1218 218 1257 176 1171 149 1235 132 1191 171 1242 177 1223 182 1208 137 1199 180 1227 173 1232 234 1238 208 1210 189 1225 181 1206 158 1258 186 1201 198 1189 220 1205 158 1204 205 1212 202 1215 229 1203 208 1196 248 1204 198 1200 220 1222 202 1168 220 1231 138 1191 188 1226 148 1205 172 1205 235 1233 176 1223 183 1196 197 1221 215 1246 103 1167 161 1205 162 1218 183 1233 172 1245 162 1184 190 1214 196 1189 125 1213 180 1181 169 1212 146 1249 190 1199 146 1237 164 1229 184 1214 178 1170 165 1230 202 1203 171 1229 174 1205 167 1217 207 1208 191 1228 214 1198 193 1215 107 1211 147 1230 136 1250 153 1194 193 1245 107 1241 100 1229 200 1216 169 1233 148 1196 146 1203 172 1228 154 1225 192 1212 150 1205 215 1162 189 1196 182 1192 196 1207 151 1196 218 1216 153 1195 167 1214 163 1176 184 1209 173 1200 185 1169 189 1242 166 1216 168 1243 193 1184 219 1200 179 1231 197 1193 156 1236 197 1230 181 1204 185 1196 234 1184 208 1220 166 1232 199 1213 223 1193 152 1211 123 1228 190 1199 245 1241 143 1221 209 1177 199 1213 224 1228 146 1193 191 1184 155 1195 218 1172 220 1177 155 1227 214 1195 186 1216 211 1242 154 1256 255 1180 165 1218 187 1189 169 1203 140 1237 146 1175 178 1251 114 1240 138 1197 137 1253 157 1225 181 1218 188 1224 182 1182 205 1222 171 1245 142 1241 174 1236 196 1199 155 1219 202 1234 130 1230 135 1233 146 1197 240 1206 281 1202 216 1216 201 1214 207 1208 134 1192 238 1244 149 1213 192 1220 189 1234 184 1200 165 1196 166 1188 202 1217 200 1234 178 1218 239 1225 174 1171 181 1221 200 1190 228 1214 178 1209 118 1213 175 1180 178 1233 203 1258 187 1216 190 1205 270 1232 243 1240 208 1202 105 1193 191 1187 191 1222 129 1158 194 1226 149 1197 181 1253 159 1258 207 1198 182 1192 164 1190 174 1182 213 1219 160 1193 231 1225 208 1222 137 1227 223 1240 139 1201 195 1244 163 1223 144 1225 90 1243 168 1216 187 1240 210 1233 193 1175 157 1223 168 1207 181 1201 140 1243 173 1214 169 1233 167 1205 188 1220 181 1206 142 1223 148 1196 156 1215 186 1200 201 1204 176 1213 116 1225 168 1213 203 1197 170 1182 135 1248 216 1240 138 1239 151 1249 195 1205 161 1216 221 1232 142 1210 167 1235 238 1203 207 1212 216 1188 177 1253 207 1249 140 1236 132 1206 145 1183 209 1222 152 1186 242 1223 166 1229 176 1187 148 1231 168 1261 160 1247 174 1240 224 1230 182 1234 161 1194 164 1214 150 1256 174 1250 172 1228 168 1201 176 1206 162 1193 212 1233 156 1227 157 1237 157 1235 196 1226 197 1189 190 1229 173 1253 147 1224 171 1187 181 1216 123 1198 184 1200 175 1179 176 1215 171 1225 175 1238 102 1251 158 1188 169 1180 212 1203 214 1215 188 1199 169 1200 140 1229 187 1224 196 1202 148 1181 170 1256 237 1167 253 1190 201 1174 192 1232 198 1217 158 1252 172 1230 158 1216 188 1222 154 1186 195 1222 167 1222 125 1237 212 1249 192 1197 148 1208 232 1228 161 1226 219 1232 193 1234 212 1194 244 1198 148 1220 194 1244 165 1231 164 1212 174 1224 140 1227 147 1190 242 1221 172 1224 207 1217 211 1216 180 1211 169 1204 181 1229 127 1223 151 1227 123 1259 188 1229 165 1248 247 1200 236 1244 163 1229 162 1220 164 1205 244 1221 178 1202 200 1242 195 1192 162 1246 212 1193 216 1222 159 1245 173 1209 198 1238 192 1196 189 1214 166 1201 126 1255 205 1217 209 1208 218 1208 171 1218 220 1171 246 1240 178 1216 133 1193 170 1200 176 1174 200 1212 175 1183 193 1233 177 1232 154 1219 189 1216 208 1228 165 1240 102 1232 157 1218 151 1244 181 1187 227 1236 159 1226 229 1202 230 1189 202 1199 132 1187 204 1198 180 1230 200 1178 200 1223 211 1235 206 1200 196 1255 145 1222 209 1190 206 1248 130 1217 200 1176 201 1225 159 1222 199 1225 181 1233 166 1231 164 1204 144 1192 163 1204 192 1220 194 1192 213 1190 183 1221 180 1181 182 1234 210 1195 154 1210 146 1207 225 1213 180 1220 204 1204 117 1202 132 1190 177 1222 150 1214 199 1216 224 1160 239 1248 145 1254 154 1183 217 1221 203 1194 217 1198 242 1223 199 1241 121 1213 146 1238 167 1210 140 1228 181 1203 181 1234 153 1201 186 1218 191 1212 209 1197 173 1219 187 1260 174 1229 167 1204 159 1237 173 1225 88 1195 189 1226 176 1197 197 1209 188 1215 129 1219 189 1229 155 1192 202 1191 173 1232 181 1240 190 1207 182 1218 126 1191 166 1216 141 1186 220 1250 131 1237 177 1237 173 1191 187 1209 211 1202 202 1225 146 1238 139 1192 165 1231 162 1194 272 1218 203 1233 219 1226 189 1186 198 1211 153 1231 136 1230 189 1205 175 1207 231 1171 165 1217 117 1203 149 1217 163 1216 144 1225 190 1212 186 1216 171 1205 198 1214 233 1223 165 1214 248 1223 146 1224 147 1212 153 1229 179 1216 229 1185 154 1236 199 1182 247 1238 163 1254 131 1257 144 1202 192 1237 217 1226 189 1241 190 1198 153 1220 196 1228 191 1227 173 1230 205 1200 125 1220 183 1195 199 1219 215 1213 187 1172 188 1240 187 1209 172 1201 236 1214 193 1200 139 1216 201 1199 133 1231 230 1227 192 1201 147 1229 202 1213 159 1211 167 1199 142 1244 193 1184 200 1232 169 1213 174 1182 187 1212 199 1231 195 1200 160 1227 174 1219 166 1221 208 1231 113 1222 185 1239 154 1198 185 1202 150 1186 146 1199 173 1205 169 1238 154 1188 192 1217 120 1203 194 1197 184 1228 206 1244 133 1231 156 1202 115 1188 175 1210 209 1194 190 1220 162 1226 174 1215 160 1200 223 1232 239 1226 137 1187 254 1196 173 1193 151 1227 206 1230 220 1204 174 1242 148 1246 217 1220 129 1225 139 1188 220 1204 199 1216 189 1189 178 1184 207 1221 205 1213 159 1245 135 1233 159 1187 212 1195 200 1211 209 1204 146 1204 241 1208 185 1206 114 1233 122 1201 159 1219 181 1196 177 1172 159 1169 183 1197 202 1208 144 1229 202 1225 172 1257 216 1211 210 1213 243 1194 187 1201 210 1211 198 1194 192 1214 170 1176 201 1238 219 1216 195 1236 137 1219 194 1180 204 1195 183 1246 114 1220 175 1210 171 1209 127 1197 180 1200 154 1251 151 1218 177 1226 191 1248 118 1235 150 1205 125 1185 208 1258 182 1197 233 1236 137 1218 227 1212 203 1233 129 1223 163 1247 119 1189 170 1190 207 1238 207 1211 141 1224 226 1212 185 1196 120 1216 176 1236 168 1187 183 1224 170 1237 146 1226 179 1216 118 1181 150 1225 196 1215 158 1186 178 1227 201 1218 133 1219 201 1182 237 1236 178 1213 183 1200 126 1230 128 1190 163 1229 208" fill="none" stroke="none" marker-start="url(#m6)" marker-mid="url(#m6)" marker-end="url(#m6)"/>
<path d="M992.8 301.5v-4.5M1139.2 301.5v-4.5M1285.6 301.5v-4.5M992.8 254.6h4.5M992.8 176.9h4.5M992.8 99.1h4.5" stroke="#222222" stroke-width="3" fill="none"/>
<path d="M992.8 69.2V301.5H1285.6" fill="none" stroke="#222222" stroke-width="3.8" stroke-linecap="square"/>
<g font-size="24.5" text-anchor="middle" fill="#262626"><text x="992.8" y="335.5">-500</text><text x="1139.2" y="335.5">0</text><text x="1285.6" y="335.5">500</text></g>
<g font-size="24.5" text-anchor="end" fill="#262626"><text x="982.8" y="264.6">-200</text><text x="982.8" y="186.9">0</text><text x="982.8" y="109.1">200</text></g>
<text x="1139.2" y="372.5" font-size="27.8" text-anchor="middle" fill="#262626">PC 1</text>
<text transform="translate(920.8 185.3) rotate(-90)" font-size="27.8" text-anchor="middle" fill="#262626">PC 2</text>
<text x="1139.2" y="59.7" font-size="27.6" font-weight="bold" text-anchor="middle" fill="#000" textLength="147.2" lengthAdjust="spacingAndGlyphs">PCA Space</text>
<path d="M1555 69.2V301.5M1701.6 69.2V301.5M1408.4 243.4H1701.6M1408.4 185.3H1701.6M1408.4 127.3H1701.6M1408.4 69.2H1701.6" stroke="#dcdcdc" stroke-width="2.8" fill="none"/>
<path d="M1489 213 1521 178 1519 189 1528 170 1535 206 1516 188 1518 203 1526 209 1527 166 1478 191 1476 188 1482 200 1506 224 1477 189 1502 165 1510 124 1514 144 1517 181 1521 198 1499 153 1508 213 1520 200 1513 159 1535 134 1533 161 1521 174 1511 134 1510 147 1509 158 1460 203 1500 154 1539 186 1510 164 1517 179 1530 206 1541 161 1460 227 1511 133 1512 217 1537 163 1512 159 1506 188 1531 165 1531 183 1544 201 1488 182 1507 180 1514 185 1494 183 1537 190 1548 131 1498 170 1493 193 1493 202 1480 200 1494 210 1477 196 1548 175 1511 208 1505 205 1485 214 1504 179 1507 178 1537 151 1505 225 1510 182 1531 171 1525 198 1495 197 1517 165 1456 182 1540 140 1528 179 1523 149 1495 175 1522 182 1545 184 1495 191 1501 158 1482 225 1518 164 1491 163 1478 175 1496 201 1545 170 1501 183 1547 167 1498 185 1490 209 1502 173 1503 177 1533 139 1481 198 1491 178 1517 182 1502 210 1481 175 1508 185 1518 163 1546 173 1524 215 1505 203 1501 163 1514 181 1513 188 1508 200 1502 198 1509 227 1513 184 1519 206 1495 173 1499 179 1500 216 1486 209 1503 215 1538 172 1496 158 1527 194 1493 196 1525 209 1533 183 1527 180 1521 166 1535 190 1546 197 1518 166 1512 164 1483 197 1530 176 1492 189 1516 204 1536 185 1494 189 1500 193 1516 191 1523 172 1534 196 1513 177 1517 228 1493 184 1522 178 1516 155 1506 203 1539 158 1509 200 1541 177 1498 161 1486 198 1524 185 1503 178 1491 197 1525 202 1537 177 1511 194 1523 189 1516 154 1535 207 1536 184 1518 179 1517 194 1523 156 1502 188 1527 153 1518 175 1521 187 1518 187 1506 238 1480 189 1525 168 1514 189 1522 188 1512 150 1487 207 1508 228 1491 169 1521 183 1535 195 1546 170 1501 164 1521 175 1510 225 1475 200 1529 194 1513 218 1485 197 1524 162 1533 192 1509 168 1493 199 1512 185 1527 168 1504 239 1526 156 1521 173 1520 154 1502 190 1494 197 1497 209 1476 202 1530 243 1534 176 1499 183 1507 188 1537 170 1518 188 1508 206 1509 203 1532 181 1524 151 1529 192 1541 214 1537 230 1495 194 1498 237 1484 191 1480 184 1532 147 1516 184 1504 127 1533 162 1517 158 1477 181 1501 241 1531 194 1519 198 1504 153 1517 174 1483 177 1500 180 1493 185 1521 213 1517 202 1533 167 1512 117 1526 187 1527 172 1535 197 1546 181 1504 204 1506 145 1515 207 1508 181 1528 185 1515 118 1509 183 1490 173 1503 148 1533 158 1502 196 1504 186 1505 200 1513 185 1504 168 1530 189 1550 160 1533 134 1486 185 1528 151 1526 156 1484 218 1522 226 1501 193 1518 162 1516 201 1494 183 1522 172 1514 181 1486 196 1525 204 1519 166 1553 168 1507 214 1492 229 1479 183 1511 178 1483 242 1479 163 1532 206 1513 180 1494 207 1529 161 1528 170 1514 173 1509 148 1516 171 1510 200 1511 192 1497 172 1548 162 1510 201 1485 182 1522 197 1513 202 1537 171 1520 143 1472 192 1517 188 1512 156 1500 203 1543 148 1521 162 1514 189 1510 178 1504 222 1509 178 1510 169 1517 160 1515 186 1523 159 1504 206 1536 184 1519 191 1516 151 1542 199 1487 268 1523 144 1517 188 1527 198 1524 148 1534 158 1503 194 1496 149 1535 175 1511 179 1500 177 1521 170 1513 238 1509 216 1482 147 1503 192 1507 205 1541 212 1521 193 1535 155 1513 216 1526 156 1524 185 1523 196 1516 174 1508 208 1508 205 1490 170 1509 197 1502 179 1506 202 1517 179 1496 215 1535 180 1533 162 1510 190 1541 186 1505 206 1509 206 1514 211 1521 173 1515 196 1535 130 1509 202 1523 184 1514 169 1487 179 1493 220 1505 155 1500 179 1495 178 1517 156 1515 183 1478 192 1526 174 1515 171 1527 198 1510 176 1516 204 1476 193 1524 142 1519 201 1519 184 1499 222 1479 214 1504 187 1512 180 1546 171 1536 191 1498 202 1479 162 1516 167 1542 161 1541 225 1534 168 1501 165 1512 200 1476 160 1464 204 1540 158 1500 196 1500 184 1510 214 1485 171 1488 220 1553 186 1487 217 1525 196 1509 238 1500 189 1512 152 1520 246 1481 218 1505 187 1522 219 1470 186 1493 247 1493 204 1489 222 1529 203 1516 179 1504 136 1486 139 1493 200 1516 159 1523 189 1504 162 1538 186 1533 164 1515 209 1488 186 1460 219 1518 220 1540 136 1491 197 1508 199 1502 179 1541 171 1513 182 1498 177 1502 212 1523 222 1502 198 1508 221 1494 196 1522 183 1507 206 1511 248 1523 159 1511 207 1535 190 1535 181 1497 196 1499 195 1520 187 1503 189 1518 182 1521 168 1516 167 1511 160 1518 164 1508 218 1503 188 1518 183 1538 203 1479 203 1499 190 1523 120 1487 219 1510 218 1497 163 1510 186 1531 215 1513 185 1516 205 1503 191 1524 196 1522 227 1519 165 1495 199 1511 179 1532 172 1507 191 1516 166 1516 195 1505 205 1496 203 1501 173 1490 193 1490 177 1516 155 1521 204 1512 199 1502 212 1506 186 1515 130 1508 185 1509 192 1506 186 1508 171 1519 201 1511 179 1506 192 1509 173 1514 196 1510 159 1494 178 1507 107 1522 179 1509 219 1502 146 1517 189 1511 184 1495 190 1520 213 1507 246 1482 180 1532 136 1489 197 1505 165 1517 181 1522 190 1528 185 1530 173 1515 208 1484 230 1520 228 1535 182 1488 188 1490 194 1506 162 1527 158 1503 162 1510 183 1519 176 1488 181 1484 187 1510 184 1492 172 1509 168 1498 206 1512 163 1488 207 1502 195 1503 166 1523 179 1526 157 1500 205 1523 135 1470 216 1525 197 1526 174 1489 204 1518 202 1521 174 1506 179 1505 183 1494 162 1507 162 1548 135 1511 182 1510 179 1497 230 1517 182 1538 135 1487 215 1525 154 1513 183 1479 150 1499 178 1517 202 1526 147 1510 182 1523 159 1526 198 1495 204 1464 234 1508 201 1497 173 1517 165 1508 195 1496 186 1480 217 1521 163 1510 210 1521 197 1509 207 1543 140 1496 217 1510 172 1533 177 1490 188 1516 217 1507 194 1494 188 1529 156 1496 205 1523 187 1505 141 1467 219 1497 193 1541 176 1506 184 1506 179 1555 181 1507 188 1475 188 1510 228 1506 184 1496 169 1501 222 1525 182 1513 219 1487 217 1508 189 1535 142 1513 186 1544 170 1529 188 1509 192 1499 183 1497 194 1518 137 1478 198 1522 188 1526 167 1519 191 1507 192 1494 189 1493 213 1487 172 1501 209 1525 188 1517 187 1517 179 1473 170 1528 209 1526 184 1513 157 1528 157 1546 147 1501 217 1526 216 1505 196 1499 162 1517 188 1527 187 1532 133 1509 190 1531 219 1489 217 1483 198 1516 184 1511 166 1530 151 1509 186 1536 166 1534 186 1510 199 1511 176 1503 147 1485 178 1492 187 1498 190 1512 202 1490 210 1511 168 1539 210 1519 192 1511 179 1525 171 1511 152 1516 184 1531 201 1495 161 1507 225 1525 154 1498 219 1510 178 1501 210 1520 170 1483 221 1505 202 1514 173 1543 164 1527 212 1499 168 1486 168 1520 179 1509 212 1492 205 1503 163 1493 207 1481 195 1511 163 1544 160 1496 188 1516 185 1492 187 1490 197 1505 243 1521 136 1504 202 1527 207 1511 181 1501 192 1496 205 1522 200 1501 205 1519 190 1496 185 1476 241 1516 144 1502 182 1487 194 1514 172 1498 150 1494 161 1492 177 1534 130 1509 222 1525 195 1492 206 1495 176 1514 170 1526 188 1523 155 1543 168 1506 207 1504 188 1515 212 1504 193 1501 203 1517 204 1519 205 1515 208 1531 161 1534 194 1488 224 1507 165 1523 166 1490 172 1523 192 1467 222 1509 153 1515 185 1538 141 1517 170 1532 192 1518 192 1494 182 1530 137 1524 155 1508 219 1500 182 1501 149 1532 181 1541 159 1539 177 1525 184 1511 161 1544 168 1516 202 1507 176 1489 204 1492 189 1527 171 1506 209 1483 197 1537 180 1510 195 1492 171 1523 212 1490 166 1496 193 1493 186 1498 204 1492 153 1556 161 1523 168 1511 187 1505 171 1490 212 1523 210 1539 179 1514 155 1510 183 1501 178 1523 199 1523 159 1519 198 1527 149 1503 228 1499 190 1534 149 1523 194 1524 179 1493 231 1529 213 1533 127 1512 203 1500 205 1518 161 1498 198 1500 165 1528 196 1506 184 1480 210 1514 214 1515 182 1501 167 1495 183 1507 163 1497 178 1522 156 1539 206 1510 209 1528 148 1506 182 1534 171 1509 222 1499 169 1486 190 1515 184 1525 195 1535 184 1529 190 1516 190 1541 195 1500 158 1525 180 1507 215 1506 179 1532 156 1537 166 1499 198 1538 171 1536 209 1503 206 1516 200 1488 197 1471 215 1519 207 1510 205 1505 183 1519 172 1498 158 1517 197 1535 184 1546 152 1509 196 1497 208 1506 157 1515 185 1519 188 1489 227 1537 180 1540 131 1516 166 1505 190 1513 184 1538 175 1528 175 1523 139 1484 171 1500 185 1505 198 1487 254 1550 149 1507 227 1524 144 1519 219 1502 183 1510 160 1494 206 1467 179 1523 189 1479 179 1486 224 1477 232 1494 217 1531 160 1513 197 1510 215 1518 203 1502 182 1495 223 1530 216 1488 222 1498 194 1452 222 1537 147 1527 180 1515 196 1480 190 1531 170 1511 166 1517 157 1503 229 1520 161 1497 186 1524 241 1556 148 1507 213 1482 122 1505 172 1499 198 1523 202 1510 191 1520 162 1508 155 1502 198 1513 191 1525 244 1478 249 1537 155 1498 182 1478 206 1538 159 1551 180 1532 174 1517 177 1525 149 1512 176 1509 179 1567 167 1592 172 1580 198 1565 215 1567 169 1587 212 1564 161 1608 153 1615 184 1588 194 1617 158 1587 172 1569 189 1564 172 1603 167 1564 213 1593 183 1577 208 1585 176 1594 197 1581 213 1585 180 1575 165 1560 156 1588 166 1586 195 1572 165 1581 175 1576 165 1592 205 1613 145 1595 169 1580 163 1624 166 1563 190 1583 160 1561 200 1576 162 1599 170 1599 172 1583 231 1566 213 1588 177 1563 189 1579 175 1572 202 1601 180 1597 195 1577 191 1565 174 1559 187 1546 182 1581 158 1613 184 1581 211 1573 185 1581 166 1589 158 1569 185 1564 194 1581 193 1574 223 1570 201 1584 172 1573 189 1586 200 1597 132 1586 191 1584 157 1601 204 1585 197 1573 181 1589 186 1566 193 1564 153 1555 181 1582 183 1563 201 1575 197 1576 183 1573 177 1592 190 1592 177 1571 177 1598 183 1551 179 1596 201 1578 175 1592 162 1604 197 1595 129 1544 207 1591 195 1550 190 1582 199 1584 163 1596 169 1560 200 1582 172 1579 185 1548 226 1561 205 1570 142 1596 200 1569 201 1570 200 1546 174 1590 167 1581 174 1573 230 1581 184 1558 243 1598 200 1576 202 1606 206 1596 233 1594 190 1578 221 1585 184 1587 213 1567 212 1581 196 1563 162 1570 165 1593 195 1549 194 1590 155 1585 173 1569 206 1631 139 1557 188 1586 221 1574 175 1606 139 1573 195 1572 184 1593 202 1576 199 1567 202 1609 135 1603 211 1584 131 1586 198 1589 187 1573 182 1587 186 1579 208 1579 170 1581 188 1556 170 1560 178 1573 170 1596 185 1563 212 1584 140 1590 183 1601 180 1593 171 1548 177 1608 180 1592 168 1575 195 1596 192 1571 170 1595 144 1570 218 1597 211 1573 192 1607 172 1560 194 1601 215 1558 171 1581 206 1576 184 1561 205 1603 168 1598 178 1570 182 1565 183 1575 193 1575 207 1602 208 1583 211 1594 183 1583 173 1585 178 1585 175 1572 194 1576 202 1571 160 1556 158 1571 175 1580 188 1589 144 1578 186 1571 144 1599 152 1580 225 1587 220 1569 168 1570 203 1545 183 1586 192 1585 217 1565 187 1594 179 1560 204 1598 190 1584 173 1571 188 1551 209 1580 171 1601 186 1587 184 1567 207 1579 185 1567 130 1579 171 1575 126 1543 208 1582 158 1579 207 1605 160 1575 192 1575 183 1552 194 1570 179 1585 205 1601 159 1565 214 1568 182 1600 196 1567 179 1578 186 1577 193 1607 152 1574 160 1610 162 1584 193 1581 179 1600 197 1553 207 1585 226 1576 204 1561 190 1598 206 1583 187 1590 181 1569 170 1586 204 1547 214 1582 167 1570 198 1550 207 1581 197 1577 207 1565 186 1554 196 1598 190 1571 207 1558 207 1558 199 1570 214 1579 164 1591 187 1578 209 1575 174 1591 152 1554 163 1585 151 1579 160 1578 209 1583 195 1578 176 1591 167 1594 213 1597 197 1580 195 1560 176 1562 205 1602 225 1551 178 1572 173 1578 197 1590 197 1570 185 1561 225 1552 178 1609 148 1568 202 1563 193 1595 181 1578 256 1583 210 1574 180 1580 170 1603 225 1554 161 1586 198 1574 188 1596 186 1579 215 1602 166 1571 218 1578 167 1616 129 1573 197 1563 182 1567 178 1584 174 1563 167 1576 213 1579 182 1580 164 1599 128 1578 159 1579 158 1576 175 1590 194 1570 251 1588 184 1576 160 1585 177" fill="none" stroke="none" marker-start="url(#m8)" marker-mid="url(#m8)" marker-end="url(#m8)"/>
<path d="M1408.4 301.5v-4.5M1555 301.5v-4.5M1701.6 301.5v-4.5M1408.4 301.5h4.5M1408.4 243.4h4.5M1408.4 185.3h4.5M1408.4 127.3h4.5M1408.4 69.2h4.5" stroke="#222222" stroke-width="3" fill="none"/>
<path d="M1408.4 69.2V301.5H1701.6" fill="none" stroke="#222222" stroke-width="3.8" stroke-linecap="square"/>
<g font-size="24.5" text-anchor="middle" fill="#262626"><text x="1408.4" y="335.5">-500</text><text x="1555" y="335.5">0</text><text x="1701.6" y="335.5">500</text></g>
<g font-size="24.5" text-anchor="end" fill="#262626"><text x="1398.4" y="311.5">-400</text><text x="1398.4" y="253.4">-200</text><text x="1398.4" y="195.3">0</text><text x="1398.4" y="137.3">200</text><text x="1398.4" y="79.2">400</text></g>
<text x="1555" y="372.5" font-size="27.8" text-anchor="middle" fill="#262626">PC 1</text>
<text transform="translate(1336.4 185.3) rotate(-90)" font-size="27.8" text-anchor="middle" fill="#262626">PC 2</text>
<text x="1555" y="59.7" font-size="27.6" font-weight="bold" text-anchor="middle" fill="#000" textLength="295.4" lengthAdjust="spacingAndGlyphs">PCA Space (SA Only)</text>
<path d="M1139.2 421.6V651.5M1285.6 421.6V651.5M992.8 594H1285.6M992.8 536.5H1285.6M992.8 479.1H1285.6M992.8 421.6H1285.6" stroke="#dcdcdc" stroke-width="2.8" fill="none"/>
<path d="M1073 564 1106 530 1103 540 1112 522 1119 557 1100 540 1102 554 1110 560 1111 518 1063 542 1060 539 1066 551 1090 575 1062 540 1086 516 1094 476 1098 496 1102 532 1105 549 1084 505 1092 563 1105 551 1097 510 1119 485 1117 512 1106 525 1095 485 1094 499 1094 509 1044 554 1085 505 1123 538 1095 515 1102 530 1114 557 1126 512 1044 577 1095 484 1096 568 1122 515 1097 511 1090 539 1115 516 1115 534 1128 552 1072 533 1092 531 1098 536 1078 535 1121 541 1132 483 1082 521 1078 544 1078 553 1064 551 1079 561 1062 547 1132 526 1095 559 1089 556 1069 565 1088 530 1091 529 1121 502 1090 576 1094 533 1115 522 1109 549 1079 548 1101 517 1040 533 1124 492 1112 530 1107 501 1079 526 1106 533 1129 535 1079 543 1085 509 1067 576 1102 515 1075 514 1062 526 1081 552 1129 522 1085 534 1131 518 1082 536 1074 560 1086 525 1088 528 1117 491 1066 549 1075 530 1101 533 1087 560 1066 527 1093 536 1102 515 1130 524 1108 566 1089 554 1085 514 1098 533 1098 539 1092 551 1087 549 1093 578 1097 535 1104 557 1079 525 1083 530 1084 567 1070 560 1088 566 1122 524 1080 509 1111 545 1078 547 1109 560 1117 535 1111 532 1105 517 1119 541 1130 548 1102 518 1097 515 1067 548 1114 527 1077 540 1100 555 1120 536 1078 540 1085 544 1101 542 1107 524 1118 547 1098 528 1102 579 1077 536 1107 529 1100 506 1090 554 1123 510 1094 551 1125 528 1082 513 1070 549 1108 536 1087 529 1075 548 1109 553 1121 528 1095 545 1107 540 1101 505 1119 558 1121 535 1102 530 1102 545 1107 508 1086 539 1111 505 1102 526 1105 538 1103 538 1090 589 1064 540 1110 519 1098 540 1106 539 1096 502 1072 558 1092 579 1075 521 1105 534 1120 546 1130 522 1085 516 1106 527 1094 576 1059 551 1113 545 1098 569 1069 548 1109 514 1118 544 1093 519 1078 550 1096 536 1112 519 1088 590 1110 508 1105 524 1104 506 1087 541 1078 548 1081 560 1060 553 1114 594 1118 527 1083 534 1091 540 1121 521 1102 539 1092 557 1093 554 1116 533 1109 502 1114 543 1125 565 1121 581 1079 545 1083 588 1069 542 1065 536 1116 498 1100 536 1088 479 1117 513 1101 510 1061 532 1085 591 1115 545 1103 549 1088 504 1101 525 1067 529 1084 531 1077 536 1105 564 1101 554 1118 519 1096 469 1110 538 1111 523 1120 548 1131 532 1089 555 1090 497 1099 558 1093 532 1113 536 1099 470 1093 535 1074 524 1087 499 1117 509 1087 547 1089 537 1089 551 1097 536 1089 519 1114 540 1134 511 1118 485 1070 536 1112 503 1110 508 1069 569 1106 576 1086 544 1102 513 1100 552 1078 534 1106 523 1098 533 1071 547 1109 555 1103 517 1138 519 1091 564 1076 580 1063 534 1095 529 1067 593 1064 514 1116 557 1097 531 1078 558 1113 513 1112 522 1098 524 1093 500 1100 522 1094 551 1095 543 1081 524 1132 514 1094 552 1070 533 1106 549 1097 553 1121 522 1104 494 1056 543 1101 540 1097 508 1084 554 1127 499 1105 513 1098 541 1094 529 1088 573 1094 530 1094 521 1102 511 1099 537 1107 511 1089 557 1120 536 1103 542 1101 502 1127 550 1071 619 1107 496 1101 539 1111 549 1108 500 1119 510 1088 546 1080 501 1119 526 1095 530 1085 528 1105 521 1097 589 1093 567 1066 499 1088 543 1091 556 1125 563 1105 544 1119 507 1098 567 1110 508 1108 536 1107 547 1101 525 1092 559 1092 556 1075 521 1093 548 1087 530 1090 553 1101 530 1080 566 1119 532 1117 513 1095 541 1125 537 1089 557 1093 557 1098 562 1105 524 1100 547 1119 482 1094 554 1107 535 1098 520 1072 530 1077 571 1089 507 1084 530 1079 529 1101 508 1099 534 1062 543 1110 525 1099 522 1111 549 1094 527 1100 555 1060 544 1109 494 1103 552 1104 535 1084 573 1063 565 1088 538 1096 531 1130 523 1120 543 1083 553 1063 513 1100 518 1127 513 1125 575 1118 520 1086 516 1096 551 1061 512 1049 555 1124 509 1084 547 1085 535 1094 565 1069 522 1073 571 1137 537 1072 568 1109 547 1093 589 1084 541 1096 504 1104 597 1066 569 1090 538 1106 569 1055 537 1077 597 1078 555 1073 573 1113 554 1100 530 1088 488 1070 491 1077 551 1100 510 1107 540 1088 514 1123 537 1117 515 1100 560 1072 537 1045 570 1103 571 1125 487 1076 548 1093 550 1086 530 1125 522 1097 533 1083 528 1086 563 1107 573 1086 549 1093 572 1078 547 1106 535 1091 557 1096 598 1107 510 1095 558 1119 541 1120 532 1081 547 1083 546 1104 539 1087 541 1102 534 1105 520 1100 519 1096 511 1103 515 1092 569 1087 539 1102 534 1122 554 1064 554 1083 541 1107 472 1072 570 1094 569 1082 514 1094 538 1115 566 1097 537 1100 556 1088 542 1108 547 1106 578 1103 516 1079 550 1095 530 1117 523 1091 543 1100 517 1100 547 1089 556 1080 554 1085 524 1074 544 1075 528 1101 507 1105 555 1096 550 1086 563 1090 537 1099 481 1092 536 1094 543 1090 538 1092 522 1103 552 1095 530 1091 544 1094 524 1098 547 1094 510 1079 530 1091 459 1106 531 1093 570 1086 497 1102 540 1095 536 1079 541 1104 564 1091 596 1066 531 1117 488 1073 548 1090 516 1101 532 1106 542 1112 536 1114 524 1099 559 1069 581 1104 578 1119 533 1072 539 1074 545 1091 513 1111 510 1087 513 1094 534 1103 527 1072 533 1068 538 1094 535 1076 523 1093 520 1083 557 1097 514 1073 558 1087 546 1087 517 1108 531 1110 508 1085 556 1107 486 1054 567 1109 548 1110 525 1074 555 1102 553 1106 525 1090 530 1089 534 1078 514 1091 514 1132 487 1095 533 1095 530 1081 581 1101 533 1122 487 1072 566 1109 506 1098 534 1063 502 1083 530 1101 553 1110 499 1095 534 1107 511 1110 549 1079 555 1049 584 1092 552 1081 524 1101 516 1092 546 1080 538 1064 568 1106 514 1094 561 1105 548 1093 558 1127 491 1081 567 1094 524 1117 528 1074 539 1100 568 1091 545 1078 539 1114 507 1080 556 1107 538 1089 492 1051 569 1081 544 1125 527 1090 535 1090 531 1139 532 1092 540 1059 539 1094 579 1091 535 1080 520 1085 573 1109 533 1098 570 1071 568 1093 541 1119 494 1098 538 1128 521 1113 539 1094 543 1083 534 1081 545 1102 489 1062 549 1107 539 1110 519 1104 542 1092 543 1078 540 1077 564 1071 523 1085 560 1109 540 1101 538 1102 530 1058 521 1113 560 1111 535 1097 509 1112 508 1130 499 1085 568 1110 567 1089 547 1083 513 1101 539 1111 539 1116 484 1093 541 1115 570 1074 568 1067 549 1100 535 1095 517 1114 502 1093 537 1121 517 1118 537 1094 551 1095 528 1087 498 1070 529 1076 538 1082 541 1096 553 1074 561 1096 519 1123 561 1103 543 1095 530 1109 522 1095 504 1100 535 1115 552 1079 513 1092 576 1109 505 1082 570 1094 530 1085 561 1104 522 1068 572 1089 553 1099 525 1127 516 1111 563 1083 520 1070 520 1104 530 1093 562 1076 556 1088 514 1077 558 1065 547 1095 514 1128 512 1080 539 1100 536 1076 538 1074 548 1090 594 1105 488 1089 553 1111 558 1095 532 1085 543 1080 556 1106 551 1085 556 1104 541 1080 537 1060 592 1100 496 1086 534 1071 545 1098 524 1082 502 1078 512 1076 528 1118 482 1093 573 1109 546 1076 557 1079 528 1098 521 1110 539 1107 506 1127 520 1091 558 1088 540 1099 563 1088 544 1085 554 1101 555 1103 556 1099 559 1115 513 1118 545 1072 574 1091 516 1107 517 1074 523 1108 543 1051 572 1093 505 1099 537 1122 492 1102 521 1117 543 1102 543 1078 533 1114 489 1109 507 1092 570 1084 533 1085 500 1116 532 1125 510 1124 528 1109 536 1096 512 1128 520 1100 553 1092 527 1074 555 1076 540 1111 523 1091 560 1067 548 1122 531 1094 546 1076 522 1108 562 1074 517 1080 544 1078 537 1082 555 1076 504 1140 512 1107 519 1096 538 1089 522 1074 563 1108 561 1124 530 1099 507 1095 534 1085 530 1107 550 1107 511 1104 549 1112 500 1087 579 1083 541 1118 501 1107 545 1109 531 1078 582 1113 564 1117 479 1096 554 1084 556 1102 512 1082 549 1084 517 1113 547 1090 535 1064 561 1098 565 1099 534 1086 518 1079 534 1091 515 1082 529 1106 507 1124 557 1094 560 1112 500 1090 533 1118 522 1093 572 1083 520 1070 541 1099 535 1109 546 1120 535 1113 541 1100 541 1125 546 1084 510 1110 531 1091 566 1091 531 1116 507 1121 517 1083 549 1122 522 1120 560 1087 557 1100 551 1072 548 1055 566 1103 558 1094 556 1089 534 1104 523 1082 509 1101 548 1119 535 1130 503 1094 547 1081 559 1091 509 1099 536 1103 540 1073 578 1121 531 1124 483 1101 517 1089 541 1097 535 1122 526 1112 526 1107 491 1068 522 1085 536 1090 549 1072 604 1134 500 1092 578 1108 496 1104 570 1086 534 1095 512 1078 557 1051 530 1107 540 1063 531 1070 575 1061 582 1079 567 1115 512 1097 548 1095 566 1103 554 1086 533 1079 574 1114 567 1072 572 1082 545 1037 573 1121 499 1111 532 1099 547 1065 542 1115 521 1095 517 1101 509 1088 580 1104 513 1081 537 1109 592 1140 500 1092 564 1066 474 1089 523 1083 549 1107 553 1094 542 1104 513 1092 506 1086 549 1097 542 1110 595 1063 600 1121 507 1082 533 1063 557 1123 510 1135 531 1117 525 1101 528 1110 500 1097 527 1094 531" fill="none" stroke="none" marker-start="url(#m10)" marker-mid="url(#m10)" marker-end="url(#m10)"/>
<path d="M1151 519 1176 523 1164 549 1149 565 1151 520 1171 563 1148 512 1192 505 1199 535 1172 545 1201 510 1172 523 1154 540 1148 523 1187 519 1148 564 1177 534 1161 559 1169 527 1178 548 1165 564 1169 531 1159 516 1144 508 1172 518 1170 546 1156 516 1165 526 1160 517 1176 556 1197 497 1179 520 1165 514 1208 517 1148 541 1167 511 1145 551 1160 514 1184 521 1183 523 1167 582 1151 564 1173 528 1148 540 1163 526 1156 553 1185 531 1181 546 1161 542 1149 525 1143 538 1130 534 1165 509 1197 535 1165 562 1157 536 1165 517 1173 510 1154 536 1148 545 1165 544 1158 574 1154 552 1168 523 1157 541 1170 551 1181 484 1171 542 1168 508 1185 555 1170 548 1157 532 1173 537 1151 545 1148 504 1139 532 1166 534 1148 552 1159 549 1160 534 1157 528 1176 541 1176 529 1155 529 1182 534 1135 531 1180 552 1162 526 1176 513 1188 548 1179 480 1128 558 1175 546 1134 541 1167 550 1168 514 1180 520 1144 551 1166 523 1163 536 1132 577 1145 556 1154 493 1180 551 1153 552 1154 551 1131 525 1174 518 1165 526 1158 581 1165 535 1142 593 1182 551 1160 553 1190 557 1180 584 1178 541 1162 572 1169 535 1171 563 1151 563 1165 547 1147 514 1155 517 1177 547 1133 545 1174 507 1169 525 1153 557 1215 490 1142 539 1171 572 1159 526 1190 490 1158 546 1156 535 1177 553 1160 550 1151 553 1193 486 1187 562 1168 483 1170 549 1173 538 1157 534 1171 537 1163 558 1163 521 1165 539 1140 522 1145 529 1158 521 1180 536 1148 563 1168 491 1174 535 1185 531 1177 522 1132 528 1192 532 1176 520 1159 546 1180 543 1155 521 1179 496 1154 569 1181 562 1157 543 1192 524 1144 545 1185 566 1142 523 1166 557 1160 536 1145 556 1187 519 1182 529 1155 533 1149 534 1159 544 1159 558 1186 559 1167 562 1178 534 1167 524 1170 529 1170 526 1156 545 1160 553 1155 511 1140 509 1155 526 1164 540 1173 495 1162 537 1155 496 1183 504 1164 576 1172 571 1154 519 1154 554 1129 535 1170 543 1170 568 1149 538 1178 530 1144 555 1182 541 1168 525 1155 539 1135 560 1164 522 1185 537 1171 535 1151 558 1163 536 1152 482 1163 522 1159 478 1128 559 1167 509 1163 558 1189 511 1159 543 1160 534 1136 545 1154 530 1169 556 1185 511 1149 565 1152 533 1184 547 1151 530 1163 538 1162 544 1191 504 1158 512 1194 514 1168 545 1165 531 1184 548 1137 558 1169 576 1160 555 1145 541 1182 557 1167 538 1174 532 1153 522 1170 555 1131 565 1167 519 1154 549 1134 558 1165 548 1162 558 1149 537 1138 547 1182 541 1155 558 1142 558 1143 550 1154 565 1163 516 1175 538 1162 560 1159 525 1175 504 1139 515 1169 502 1163 512 1162 560 1168 546 1162 527 1175 519 1178 564 1181 548 1164 546 1144 527 1146 556 1186 576 1136 529 1156 524 1162 548 1174 548 1154 537 1145 576 1136 529 1193 500 1152 553 1147 544 1179 532 1162 606 1167 561 1159 532 1165 521 1187 576 1138 513 1171 549 1159 539 1180 537 1163 566 1186 518 1155 569 1163 518 1200 481 1157 548 1147 533 1151 529 1168 525 1148 518 1160 564 1163 533 1164 516 1183 479 1162 511 1163 509 1160 526 1174 545 1154 602 1173 536 1160 511 1169 529 1173 542 1207 517 1203 568 1208 497 1195 512 1210 586 1226 483 1223 562 1209 560 1163 528 1223 561 1200 542 1250 545 1197 519 1200 565 1210 520 1216 547 1244 502 1179 571 1194 547 1217 540 1215 528 1186 593 1220 509 1217 547 1225 544 1186 552 1230 529 1228 548 1225 504 1207 551 1240 532 1189 552 1241 526 1253 517 1219 513 1201 516 1212 544 1222 547 1190 562 1225 530 1215 521 1195 550 1248 554 1241 540 1225 531 1208 536 1234 551 1194 522 1206 543 1210 548 1176 546 1204 570 1202 535 1250 544 1242 544 1224 542 1230 532 1206 574 1235 568 1201 500 1219 535 1217 532 1207 531 1211 546 1224 522 1221 515 1253 492 1216 562 1238 531 1230 543 1232 560 1218 567 1257 536 1171 516 1235 503 1191 533 1242 537 1223 541 1208 507 1199 539 1227 534 1232 579 1238 560 1210 545 1225 539 1206 523 1258 544 1201 552 1189 568 1205 523 1204 557 1212 555 1215 575 1203 559 1196 589 1204 552 1200 568 1222 555 1168 568 1231 508 1191 545 1226 515 1205 533 1205 579 1233 536 1223 541 1196 552 1221 565 1246 482 1167 525 1205 526 1218 541 1233 533 1245 525 1184 546 1214 550 1189 498 1213 539 1181 531 1212 514 1249 546 1199 514 1237 527 1229 542 1214 538 1170 528 1230 555 1203 533 1229 535 1205 530 1217 559 1208 547 1228 564 1198 549 1215 485 1211 515 1230 506 1250 519 1194 548 1245 485 1241 480 1229 554 1216 530 1233 515 1196 514 1203 533 1228 520 1225 548 1212 517 1205 565 1162 546 1196 540 1192 551 1207 518 1196 567 1216 519 1195 529 1214 526 1176 542 1209 534 1200 543 1169 546 1242 529 1216 530 1243 548 1184 568 1200 538 1231 551 1193 521 1236 552 1230 539 1204 542 1196 579 1184 560 1220 528 1232 553 1213 571 1193 518 1211 496 1228 547 1199 587 1241 511 1221 561 1177 553 1213 571 1228 514 1193 547 1184 520 1195 567 1172 568 1177 520 1227 564 1195 543 1216 562 1242 519 1256 594 1180 527 1218 544 1189 531 1203 509 1237 514 1175 537 1251 490 1240 508 1197 507 1253 522 1225 540 1218 544 1224 540 1182 558 1222 532 1245 511 1241 535 1236 551 1199 520 1219 555 1234 502 1230 505 1233 514 1197 584 1206 613 1202 566 1216 554 1214 559 1208 505 1192 582 1244 516 1213 548 1220 546 1234 542 1200 528 1196 529 1188 555 1217 554 1234 537 1218 583 1225 535 1171 540 1221 554 1190 574 1214 538 1209 493 1213 535 1180 537 1233 556 1258 544 1216 547 1205 606 1232 586 1240 560 1202 483 1193 547 1187 547 1222 501 1158 549 1226 516 1197 539 1253 524 1258 559 1198 540 1192 527 1190 535 1182 563 1219 524 1193 576 1225 560 1222 507 1227 571 1240 509 1201 550 1244 526 1223 512 1225 472 1243 530 1216 544 1240 561 1233 548 1175 522 1223 530 1207 539 1201 509 1243 534 1214 531 1233 529 1205 544 1220 540 1206 511 1223 515 1196 521 1215 543 1200 554 1204 536 1213 492 1225 530 1213 556 1197 532 1182 505 1248 566 1240 508 1239 518 1249 550 1205 525 1216 570 1232 511 1210 529 1235 582 1203 559 1212 566 1188 536 1253 559 1249 509 1236 503 1206 513 1183 560 1222 518 1186 585 1223 529 1229 536 1187 516 1231 530 1261 524 1247 535 1240 572 1230 541 1234 525 1194 527 1214 516 1256 534 1250 533 1228 530 1201 536 1206 525 1193 562 1233 521 1227 522 1237 522 1235 551 1226 552 1189 546 1229 534 1253 515 1224 532 1187 540 1216 496 1198 542 1200 535 1179 536 1215 532 1225 535 1238 481 1251 523 1188 531 1180 562 1203 564 1215 545 1199 530 1200 510 1229 544 1224 551 1202 515 1181 532 1256 581 1167 593 1190 554 1174 548 1232 552 1217 522 1252 533 1230 523 1216 545 1222 520 1186 550 1222 529 1222 498 1237 562 1249 548 1197 515 1208 577 1228 525 1226 568 1232 549 1234 563 1194 586 1198 515 1220 550 1244 528 1231 527 1212 534 1224 509 1227 515 1190 585 1221 533 1224 559 1217 562 1216 539 1211 531 1204 540 1229 500 1223 517 1227 497 1259 545 1229 528 1248 589 1200 580 1244 526 1229 526 1220 527 1205 586 1221 538 1202 554 1242 550 1192 526 1246 562 1193 565 1222 523 1245 534 1209 552 1238 547 1196 546 1214 528 1201 499 1255 557 1217 561 1208 567 1208 532 1218 568 1171 588 1240 538 1216 504 1193 532 1200 536 1174 554 1212 536 1183 549 1233 537 1232 519 1219 546 1216 559 1228 528 1240 481 1232 522 1218 517 1244 539 1187 574 1236 523 1226 575 1202 576 1189 555 1199 503 1187 557 1198 539 1230 554 1178 554 1223 562 1235 558 1200 551 1255 513 1222 560 1190 558 1248 502 1217 554 1176 555 1225 523 1222 553 1225 540 1233 529 1231 527 1204 512 1192 526 1204 548 1220 549 1192 563 1190 541 1221 539 1181 540 1234 561 1195 520 1210 513 1207 572 1213 539 1220 556 1204 492 1202 503 1190 536 1222 516 1214 553 1216 572 1160 582 1248 513 1254 520 1183 566 1221 556 1194 566 1198 585 1223 553 1241 495 1213 514 1238 529 1210 509 1228 540 1203 540 1234 519 1201 543 1218 547 1212 561 1197 534 1219 544 1260 534 1229 529 1204 524 1237 534 1225 471 1195 545 1226 536 1197 552 1209 545 1215 501 1219 545 1229 520 1192 555 1191 534 1232 540 1240 546 1207 540 1218 499 1191 529 1216 510 1186 568 1250 503 1237 536 1237 533 1191 544 1209 562 1202 555 1225 514 1238 509 1192 528 1231 525 1194 607 1218 556 1233 568 1226 545 1186 552 1211 519 1231 507 1230 545 1205 535 1207 576 1171 527 1217 492 1203 516 1217 526 1216 512 1225 547 1212 543 1216 532 1205 552 1214 578 1223 528 1214 589 1223 514 1224 515 1212 519 1229 538 1216 575 1185 519 1236 553 1182 588 1238 526 1254 502 1257 512 1202 548 1237 567 1226 545 1241 546 1198 519 1220 551 1228 547 1227 534 1230 557 1200 498 1220 541 1195 553 1219 565 1213 544 1172 545 1240 544 1209 533 1201 580 1214 548 1200 509 1216 555 1199 504 1231 576 1227 547 1201 515 1229 555 1213 524 1211 529 1199 511 1244 548 1184 554 1232 530 1213 534 1182 544 1212 553 1231 550 1200 524 1227 534 1219 528 1221 559 1231 489 1222 543 1239 520 1198 543 1202 517 1186 514 1199 534 1205 531 1238 520 1188 548 1217 495 1203 549 1197 542 1228 558 1244 504 1231 521 1202 491 1188 535 1210 560 1194 546 1220 526 1226 534 1215 524 1200 571 1232 583 1226 507 1187 593 1196 534 1193 518 1227 558 1230 568 1204 534 1242 515 1246 566 1220 501 1225 509 1188 568 1204 553 1216 545 1189 537 1184 559 1221 558 1213 523 1245 505 1233 524 1187 562 1195 554 1211 561 1204 514 1204 584 1208 543 1206 490 1233 496 1201 523 1219 539 1196 536 1172 523 1169 541 1197 555 1208 512 1229 555 1225 533 1257 565 1211 561 1213 585 1194 544 1201 561 1211 552 1194 548 1214 531 1176 554 1238 568 1216 550 1236 507 1219 549 1180 556 1195 541 1246 490 1220 535 1210 532 1209 500 1197 539 1200 519 1251 517 1218 537 1226 547 1248 493 1235 516 1205 498 1185 559 1258 540 1197 578 1236 507 1218 574 1212 556 1233 501 1223 526 1247 494 1189 531 1190 559 1238 559 1211 510 1224 573 1212 543 1196 494 1216 536 1236 530 1187 541 1224 532 1237 513 1226 538 1216 493 1181 517 1225 550 1215 523 1186 537 1227 554 1218 504 1219 555 1182 581 1236 537 1213 541 1200 499 1230 500 1190 527 1229 559" fill="none" stroke="none" marker-start="url(#m11)" marker-mid="url(#m11)" marker-end="url(#m11)"/>
<path d="M992.8 651.5v-4.5M1139.2 651.5v-4.5M1285.6 651.5v-4.5M992.8 651.5h4.5M992.8 594h4.5M992.8 536.5h4.5M992.8 479.1h4.5M992.8 421.6h4.5" stroke="#222222" stroke-width="3" fill="none"/>
<path d="M992.8 421.6V651.5H1285.6" fill="none" stroke="#222222" stroke-width="3.8" stroke-linecap="square"/>
<g font-size="24.5" text-anchor="middle" fill="#262626"><text x="992.8" y="685.5">-500</text><text x="1139.2" y="685.5">0</text><text x="1285.6" y="685.5">500</text></g>
<g font-size="24.5" text-anchor="end" fill="#262626"><text x="982.8" y="661.5">-400</text><text x="982.8" y="604">-200</text><text x="982.8" y="546.5">0</text><text x="982.8" y="489.1">200</text><text x="982.8" y="431.6">400</text></g>
<text x="1139.2" y="722.5" font-size="27.8" text-anchor="middle" fill="#262626">PC 1</text>
<text transform="translate(920.8 536.5) rotate(-90)" font-size="27.8" text-anchor="middle" fill="#262626">PC 2</text>
<path d="M1555 421.6V651.5M1701.6 421.6V651.5M1408.4 594H1701.6M1408.4 536.5H1701.6M1408.4 479.1H1701.6M1408.4 421.6H1701.6" stroke="#dcdcdc" stroke-width="2.8" fill="none"/>
<path d="M1489 564 1521 530 1519 540 1528 522 1535 557 1516 540 1518 554 1526 560 1527 518 1478 542 1476 539 1482 551 1506 575 1477 540 1502 516 1510 476 1514 496 1517 532 1521 549 1499 505 1508 563 1520 551 1513 510 1535 485 1533 512 1521 525 1511 485 1510 499 1509 509 1460 554 1500 505 1539 538 1510 515 1517 530 1530 557 1541 512 1460 577 1511 484 1512 568 1537 515 1512 511 1506 539 1531 516 1531 534 1544 552 1488 533 1507 531 1514 536 1494 535 1537 541 1548 483 1498 521 1493 544 1493 553 1480 551 1494 561 1477 547 1548 526 1511 559 1505 556 1485 565 1504 530 1507 529 1537 502 1505 576 1510 533 1531 522 1525 549 1495 548 1517 517 1456 533 1540 492 1528 530 1523 501 1495 526 1522 533 1545 535 1495 543 1501 509 1482 576 1518 515 1491 514 1478 526 1496 552 1545 522 1501 534 1547 518 1498 536 1490 560 1502 525 1503 528 1533 491 1481 549 1491 530 1517 533 1502 560 1481 527 1508 536 1518 515 1546 524 1524 566 1505 554 1501 514 1514 533 1513 539 1508 551 1502 549 1509 578 1513 535 1519 557 1495 525 1499 530 1500 567 1486 560 1503 566 1538 524 1496 509 1527 545 1493 547 1525 560 1533 535 1527 532 1521 517 1535 541 1546 548 1518 518 1512 515 1483 548 1530 527 1492 540 1516 555 1536 536 1494 540 1500 544 1516 542 1523 524 1534 547 1513 528 1517 579 1493 536 1522 529 1516 506 1506 554 1539 510 1509 551 1541 528 1498 513 1486 549 1524 536 1503 529 1491 548 1525 553 1537 528 1511 545 1523 540 1516 505 1535 558 1536 535 1518 530 1517 545 1523 508 1502 539 1527 505 1518 526 1521 538 1518 538 1506 589 1480 540 1525 519 1514 540 1522 539 1512 502 1487 558 1508 579 1491 521 1521 534 1535 546 1546 522 1501 516 1521 527 1510 576 1475 551 1529 545 1513 569 1485 548 1524 514 1533 544 1509 519 1493 550 1512 536 1527 519 1504 590 1526 508 1521 524 1520 506 1502 541 1494 548 1497 560 1476 553 1530 594 1534 527 1499 534 1507 540 1537 521 1518 539 1508 557 1509 554 1532 533 1524 502 1529 543 1541 565 1537 581 1495 545 1498 588 1484 542 1480 536 1532 498 1516 536 1504 479 1533 513 1517 510 1477 532 1501 591 1531 545 1519 549 1504 504 1517 525 1483 529 1500 531 1493 536 1521 564 1517 554 1533 519 1512 469 1526 538 1527 523 1535 548 1546 532 1504 555 1506 497 1515 558 1508 532 1528 536 1515 470 1509 535 1490 524 1503 499 1533 509 1502 547 1504 537 1505 551 1513 536 1504 519 1530 540 1550 511 1533 485 1486 536 1528 503 1526 508 1484 569 1522 576 1501 544 1518 513 1516 552 1494 534 1522 523 1514 533 1486 547 1525 555 1519 517 1553 519 1507 564 1492 580 1479 534 1511 529 1483 593 1479 514 1532 557 1513 531 1494 558 1529 513 1528 522 1514 524 1509 500 1516 522 1510 551 1511 543 1497 524 1548 514 1510 552 1485 533 1522 549 1513 553 1537 522 1520 494 1472 543 1517 540 1512 508 1500 554 1543 499 1521 513 1514 541 1510 529 1504 573 1509 530 1510 521 1517 511 1515 537 1523 511 1504 557 1536 536 1519 542 1516 502 1542 550 1487 619 1523 496 1517 539 1527 549 1524 500 1534 510 1503 546 1496 501 1535 526 1511 530 1500 528 1521 521 1513 589 1509 567 1482 499 1503 543 1507 556 1541 563 1521 544 1535 507 1513 567 1526 508 1524 536 1523 547 1516 525 1508 559 1508 556 1490 521 1509 548 1502 530 1506 553 1517 530 1496 566 1535 532 1533 513 1510 541 1541 537 1505 557 1509 557 1514 562 1521 524 1515 547 1535 482 1509 554 1523 535 1514 520 1487 530 1493 571 1505 507 1500 530 1495 529 1517 508 1515 534 1478 543 1526 525 1515 522 1527 549 1510 527 1516 555 1476 544 1524 494 1519 552 1519 535 1499 573 1479 565 1504 538 1512 531 1546 523 1536 543 1498 553 1479 513 1516 518 1542 513 1541 575 1534 520 1501 516 1512 551 1476 512 1464 555 1540 509 1500 547 1500 535 1510 565 1485 522 1488 571 1553 537 1487 568 1525 547 1509 589 1500 541 1512 504 1520 597 1481 569 1505 538 1522 569 1470 537 1493 597 1493 555 1489 573 1529 554 1516 530 1504 488 1486 491 1493 551 1516 510 1523 540 1504 514 1538 537 1533 515 1515 560 1488 537 1460 570 1518 571 1540 487 1491 548 1508 550 1502 530 1541 522 1513 533 1498 528 1502 563 1523 573 1502 549 1508 572 1494 547 1522 535 1507 557 1511 598 1523 510 1511 558 1535 541 1535 532 1497 547 1499 546 1520 539 1503 541 1518 534 1521 520 1516 519 1511 511 1518 515 1508 569 1503 539 1518 534 1538 554 1479 554 1499 541 1523 472 1487 570 1510 569 1497 514 1510 538 1531 566 1513 537 1516 556 1503 542 1524 547 1522 578 1519 516 1495 550 1511 530 1532 523 1507 543 1516 517 1516 547 1505 556 1496 554 1501 524 1490 544 1490 528 1516 507 1521 555 1512 550 1502 563 1506 537 1515 481 1508 536 1509 543 1506 538 1508 522 1519 552 1511 530 1506 544 1509 524 1514 547 1510 510 1494 530 1507 459 1522 531 1509 570 1502 497 1517 540 1511 536 1495 541 1520 564 1507 596 1482 531 1532 488 1489 548 1505 516 1517 532 1522 542 1528 536 1530 524 1515 559 1484 581 1520 578 1535 533 1488 539 1490 545 1506 513 1527 510 1503 513 1510 534 1519 527 1488 533 1484 538 1510 535 1492 523 1509 520 1498 557 1512 514 1488 558 1502 546 1503 517 1523 531 1526 508 1500 556 1523 486 1470 567 1525 548 1526 525 1489 555 1518 553 1521 525 1506 530 1505 534 1494 514 1507 514 1548 487 1511 533 1510 530 1497 581 1517 533 1538 487 1487 566 1525 506 1513 534 1479 502 1499 530 1517 553 1526 499 1510 534 1523 511 1526 549 1495 555 1464 584 1508 552 1497 524 1517 516 1508 546 1496 538 1480 568 1521 514 1510 561 1521 548 1509 558 1543 491 1496 567 1510 524 1533 528 1490 539 1516 568 1507 545 1494 539 1529 507 1496 556 1523 538 1505 492 1467 569 1497 544 1541 527 1506 535 1506 531 1555 532 1507 540 1475 539 1510 579 1506 535 1496 520 1501 573 1525 533 1513 570 1487 568 1508 541 1535 494 1513 538 1544 521 1529 539 1509 543 1499 534 1497 545 1518 489 1478 549 1522 539 1526 519 1519 542 1507 543 1494 540 1493 564 1487 523 1501 560 1525 540 1517 538 1517 530 1473 521 1528 560 1526 535 1513 509 1528 508 1546 499 1501 568 1526 567 1505 547 1499 513 1517 539 1527 539 1532 484 1509 541 1531 570 1489 568 1483 549 1516 535 1511 517 1530 502 1509 537 1536 517 1534 537 1510 551 1511 528 1503 498 1485 529 1492 538 1498 541 1512 553 1490 561 1511 519 1539 561 1519 543 1511 530 1525 522 1511 504 1516 535 1531 552 1495 513 1507 576 1525 505 1498 570 1510 530 1501 561 1520 522 1483 572 1505 553 1514 525 1543 516 1527 563 1499 520 1486 520 1520 530 1509 562 1492 556 1503 514 1493 558 1481 547 1511 514 1544 512 1496 539 1516 536 1492 538 1490 548 1505 594 1521 488 1504 553 1527 558 1511 532 1501 543 1496 556 1522 551 1501 556 1519 541 1496 537 1476 592 1516 496 1502 534 1487 545 1514 524 1498 502 1494 512 1492 528 1534 482 1509 573 1525 546 1492 557 1495 528 1514 521 1526 539 1523 506 1543 520 1506 558 1504 540 1515 563 1504 544 1501 554 1517 555 1519 556 1515 559 1531 513 1534 545 1488 574 1507 516 1523 517 1490 523 1523 543 1467 572 1509 505 1515 537 1538 492 1517 521 1532 543 1518 543 1494 533 1530 489 1524 507 1508 570 1500 533 1501 500 1532 532 1541 510 1539 528 1525 536 1511 512 1544 520 1516 553 1507 527 1489 555 1492 540 1527 523 1506 560 1483 548 1537 531 1510 546 1492 522 1523 562 1490 517 1496 544 1493 537 1498 555 1492 504 1556 512 1523 519 1511 538 1505 522 1490 563 1523 561 1539 530 1514 507 1510 534 1501 530 1523 550 1523 511 1519 549 1527 500 1503 579 1499 541 1534 501 1523 545 1524 531 1493 582 1529 564 1533 479 1512 554 1500 556 1518 512 1498 549 1500 517 1528 547 1506 535 1480 561 1514 565 1515 534 1501 518 1495 534 1507 515 1497 529 1522 507 1539 557 1510 560 1528 500 1506 533 1534 522 1509 572 1499 520 1486 541 1515 535 1525 546 1535 535 1529 541 1516 541 1541 546 1500 510 1525 531 1507 566 1506 531 1532 507 1537 517 1499 549 1538 522 1536 560 1503 557 1516 551 1488 548 1471 566 1519 558 1510 556 1505 534 1519 523 1498 509 1517 548 1535 535 1546 503 1509 547 1497 559 1506 509 1515 536 1519 540 1489 578 1537 531 1540 483 1516 517 1505 541 1513 535 1538 526 1528 526 1523 491 1484 522 1500 536 1505 549 1487 604 1550 500 1507 578 1524 496 1519 570 1502 534 1510 512 1494 557 1467 530 1523 540 1479 531 1486 575 1477 582 1494 567 1531 512 1513 548 1510 566 1518 554 1502 533 1495 574 1530 567 1488 572 1498 545 1452 573 1537 499 1527 532 1515 547 1480 542 1531 521 1511 517 1517 509 1503 580 1520 513 1497 537 1524 592 1556 500 1507 564 1482 474 1505 523 1499 549 1523 553 1510 542 1520 513 1508 506 1502 549 1513 542 1525 595 1478 600 1537 507 1498 533 1478 557 1538 510 1551 531 1532 525 1517 528 1525 500 1512 527 1509 531" fill="none" stroke="none" marker-start="url(#m13)" marker-mid="url(#m13)" marker-end="url(#m13)"/>
<path d="M1408.4 651.5v-4.5M1555 651.5v-4.5M1701.6 651.5v-4.5M1408.4 651.5h4.5M1408.4 594h4.5M1408.4 536.5h4.5M1408.4 479.1h4.5M1408.4 421.6h4.5" stroke="#222222" stroke-width="3" fill="none"/>
<path d="M1408.4 421.6V651.5H1701.6" fill="none" stroke="#222222" stroke-width="3.8" stroke-linecap="square"/>
<g font-size="24.5" text-anchor="middle" fill="#262626"><text x="1408.4" y="685.5">-500</text><text x="1555" y="685.5">0</text><text x="1701.6" y="685.5">500</text></g>
<g font-size="24.5" text-anchor="end" fill="#262626"><text x="1398.4" y="661.5">-400</text><text x="1398.4" y="604">-200</text><text x="1398.4" y="546.5">0</text><text x="1398.4" y="489.1">200</text><text x="1398.4" y="431.6">400</text></g>
<text x="1555" y="722.5" font-size="27.8" text-anchor="middle" fill="#262626">PC 1</text>
<text transform="translate(1336.4 536.5) rotate(-90)" font-size="27.8" text-anchor="middle" fill="#262626">PC 2</text>
<path d="M242.4 852.1V1086.5M328.2 852.1V1086.5M414.1 852.1V1086.5M499.9 852.1V1086.5M156.6 1068.7H585.7M156.6 960.6H585.7M156.6 852.5H585.7" stroke="#dcdcdc" stroke-width="2.8" fill="none"/>
<g clip-path="url(#c9)"><g transform="translate(156.6 960.6) scale(8.5820 -0.5405)">
<path d="M1 55 2 55 3 55 4 55 5 55 6 55 7 55 8 55 9 40 10 0 11-50 12-105 13-100 14-80 15-55 16-30 17-5 18 20 19 40 20 55 21 70 22 85 23 98 24 110 25 120 26 127 27 133 28 140 29 148 30 155 31 157 32 158 33 160 34 157 35 155 36 152 37 148 38 144 39 139 40 135 41 128 42 122 43 115 44 108 45 102 46 96 47 91 48 85 48-60 47-55 46-50 45-45 44-40 43-35 42-30 41-25 40-20 39-15 38-10 37-5 36 0 35 3 34 7 33 10 32 10 31 10 30 10 29 0 28-10 27-20 26-30 25-40 24-50 23-60 22-70 21-90 20-115 19-140 18-165 17-195 16-225 15-260 14-290 13-290 12-115 11-105 10-95 9-85 8-80 7-79 6-79 5-78 4-77 3-76 2-76 1-75Z" fill="#ff8000" stroke="#ff8000" stroke-width="1.4" stroke-linejoin="round" vector-effect="non-scaling-stroke"/>
<path d="M1 59l1-5 1-3 1 3 1-4 1 2 1 3 1-15 1-11 1-38 1-46 1-50 1 5 1 20 1 26 1 23 1 28 1 23 1 27 1 18 1 7 1 14 1 15 1 15 1 17 1 8 1 9 1 7 1 10 1 8 1 0 1-18 1 14 1-3 1-8 1 9 1-7 1-4 1-16 1 6 1-12 1-9 1-21 1-4 1 0 1-9 1 8 1-16M1 60l1 0 1 14 1-13 1 6 1-11 1-5 1 5 1-12 1-50 1-41 1-58 1 5 1 20 1 24 1 23 1 32 1 29 1 16 1 6 1 30 1 8 1 20 1 8 1 18 1 5 1 5 1 7 1 7 1-4 1 16 1 2 1 0 1-10 1 10 1-7 1 2 1-17 1-4 1 0 1-24 1-1 1-8 1-19 1 1 1 2 1-3 1 1M1 78l1-19 1 2 1-8 1-5 1-4 1 20 1 6 1-18 1-49 1-57 1-51 1 5 1 12 1 39 1 19 1 27 1 25 1 27 1 8 1 12 1 19 1 12 1 10 1 9 1 1 1 14 1-1 1 20 1-1 1-2 1 10 1 1 1-6 1-12 1-3 1 4 1 3 1-13 1-2 1 0 1-8 1 9 1-11 1-2 1-9 1-7 1-2M1 43l1 1 1 7 1-8 1-3 1 8 1 1 1 16 1-11 1-47 1-54 1-58 1 5 1 14 1 30 1 22 1 30 1 31 1 15 1 19 1 21 1 4 1 21 1 0 1 6 1 10 1 5 1 3 1 25 1 8 1-7 1 2 1-3 1-14 1 3 1-11 1-6 1 9 1-17 1-9 1-4 1-6 1 12 1-9 1 0 1-4 1-2 1-33M1 88l1-7 1-5 1 1 1-3 1-10 1 13 1-1 1-9 1-65 1-45 1-62 1 5 1 23 1 13 1 39 1 20 1 21 1 28 1 11 1 25 1 14 1 4 1 22 1 7 1 8 1 6 1 12 1-4 1 11 1-9 1 13 1-1 1 2 1 7 1-9 1 3 1-20 1 4 1-9 1-8 1 0 1-3 1 7 1-13 1-12 1-4 1-13M1 37l1 2 1 7 1 13 1 0 1 4 1-9 1-3 1-20 1-30 1-45 1-61 1 5 1 11 1 24 1 32 1 11 1 46 1 13 1 21 1 11 1 12 1 16 1 11 1 14 1-9 1 2 1 15 1-7 1 10 1 13 1 8 1-19 1-6 1 8 1 5 1-2 1-2 1-5 1 8 1-15 1-10 1-7 1-1 1-11 1 7 1-20 1-3M1 53l1 2 1-1 1-5 1 0 1 3 1 3 1 6 1-10 1-42 1-62 1-52 1 5 1 25 1 28 1 15 1 22 1 18 1 22 1 10 1 15 1 35 1 25 1 10 1 9 1 9 1 9 1-11 1 6 1-4 1-15 1 8 1 6 1-4 1-6 1-9 1 3 1-3 1 5 1 14 1-3 1 10 1-3 1 5 1-17 1 5 1-24 1-7M1 57l1-5 1 6 1-3 1 1 1-7 1 3 1 3 1-25 1-36 1-41 1-58 1 5 1 26 1 21 1 15 1 32 1 22 1 17 1 20 1 8 1 11 1 12 1 23 1 10 1 15 1 5 1 13 1 1 1 11 1 4 1 0 1 12 1-3 1-1 1-5 1-5 1-16 1 5 1-8 1-5 1-2 1-11 1-10 1 1 1-15 1-4 1-16M1 49l1-1 1-4 1-7 1 1 1-7 1 0 1 8 1-18 1-32 1-43 1-51 1 5 1 21 1 19 1 33 1 21 1 26 1 32 1 13 1 18 1 7 1 9 1 10 1 4 1 6 1 3 1 16 1 13 1 8 1-8 1 11 1-15 1 7 1 1 1 6 1-8 1-3 1 2 1-6 1-16 1 0 1-7 1-18 1 5 1-26 1-12 1-11M1 34l1 14 1-4 1-1 1 11 1 0 1-2 1 3 1-6 1-45 1-54 1-55 1 5 1 18 1 18 1 41 1 19 1 19 1 27 1 19 1 12 1 23 1 13 1 21 1-4 1-1 1 6 1 8 1 15 1 15 1-9 1 8 1 11 1 7 1-15 1 5 1-11 1-2 1-1 1 4 1-18 1-6 1-9 1-9 1-17 1-9 1-9 1-15M1 82l1-2 1-6 1-9 1-9 1-2 1 0 1-6 1 12 1-50 1-60 1-55 1 5 1 14 1 29 1 38 1 23 1 32 1 19 1 17 1 13 1 21 1 12 1 13 1 7 1 16 1 1 1 10 1-1 1-1 1 4 1-15 1-4 1 3 1 6 1-5 1 1 1 3 1-2 1-7 1-18 1 5 1-16 1 7 1-19 1 1 1-5 1-3M1 73l1-4 1 12 1-4 1-5 1 1 1-5 1-4 1-18 1-36 1-39 1-76 1 5 1 18 1 46 1 2 1 30 1 20 1 34 1 13 1 15 1 11 1 21 1 13 1 11 1-11 1 16 1 12 1 12 1-11 1 24 1-5 1 8 1-17 1-2 1-6 1-2 1-3 1-5 1 15 1-8 1-13 1-14 1 5 1-28 1-2 1-6 1 1M1 65l1 3 1 1 1-4 1 14 1-2 1-5 1 3 1-38 1-42 1-50 1-50 1 5 1 23 1 25 1 35 1 22 1 25 1 20 1 9 1 18 1 8 1 13 1 11 1 8 1 4 1 23 1-4 1 20 1 6 1 2 1-5 1 0 1 4 1-13 1 10 1-8 1-2 1 7 1-8 1 3 1-29 1 0 1-9 1-6 1-9 1-11 1 8M1 82l1-8 1-6 1 0 1-5 1-5 1-8 1 9 1-22 1-33 1-57 1-52 1 5 1 19 1 32 1 20 1 39 1 21 1 37 1 8 1 7 1 2 1 9 1 20 1-10 1 4 1 15 1 11 1-2 1 4 1 3 1 1 1 8 1 1 1-12 1-5 1-4 1-5 1 9 1-5 1 12 1-7 1-8 1 3 1-24 1 7 1-10 1-6M1 74l1-9 1 7 1 1 1-18 1 8 1-5 1-5 1-15 1-42 1-49 1-52 1 5 1 19 1 27 1 24 1 26 1 35 1 10 1 33 1-6 1 9 1 18 1 6 1 22 1 4 1 3 1 18 1 13 1 28 1-8 1 3 1 1 1-9 1-8 1-8 1 2 1-1 1-10 1 3 1-16 1-12 1-2 1-7 1-5 1-14 1-10 1-1M1 55l1 1 1 3 1-3 1 6 1-10 1 3 1-2 1-19 1-37 1-56 1-46 1 5 1 17 1 18 1 30 1 19 1 25 1 30 1 15 1 28 1 19 1 15 1 7 1-2 1 8 1 3 1 11 1 5 1 1 1 2 1-16 1 13 1-2 1 9 1 0 1-3 1-3 1-4 1-3 1-6 1 2 1-10 1-3 1-16 1-7 1-9 1 2M1 80l1-9 1 7 1-5 1-3 1-5 1 7 1-3 1-10 1-41 1-59 1-64 1 5 1 22 1 20 1 26 1 16 1 30 1 14 1 22 1 20 1 18 1 8 1 26 1-2 1 19 1 1 1 17 1 4 1 14 1-2 1 10 1 1 1-18 1-13 1-13 1-8 1 1 1 4 1 11 1 11 1-11 1-2 1-16 1 6 1-15 1-17 1 0M1 61l1 7 1-2 1 1 1 10 1-5 1-3 1-2 1-20 1-44 1-48 1-60 1 5 1 27 1 18 1 35 1 13 1 21 1 29 1 15 1 22 1 11 1 18 1 10 1 11 1 13 1 1 1 12 1 15 1 6 1-4 1-11 1 4 1-10 1-6 1-12 1-9 1 10 1-4 1-13 1 3 1 0 1-6 1 2 1-8 1-10 1 1 1 1M1 69l1 10 1-1 1-7 1-6 1-9 1 0 1-9 1-24 1-30 1-37 1-61 1 5 1 19 1 23 1 23 1 29 1 30 1 16 1 11 1 1 1 32 1-8 1 17 1 16 1 8 1 15 1-5 1 17 1 10 1 0 1 1 1 15 1-14 1 7 1-7 1-12 1-10 1 4 1 3 1 4 1 1 1-2 1-9 1-4 1-6 1 1 1-5M1 79l1-5 1-3 1 6 1-1 1-3 1-4 1-4 1-21 1-52 1-43 1-54 1 5 1 21 1 13 1 24 1 32 1 12 1 28 1 30 1 10 1 26 1 14 1 4 1 16 1 13 1 11 1 7 1 0 1 0 1-10 1 9 1-5 1 9 1 4 1-14 1 13 1-18 1-2 1-7 1-3 1-9 1-3 1-10 1-15 1-4 1-2 1-4M1-50l1-13 1 2 1 3 1-6 1 0 1-7 1-21 1 9 1-18 1-5 1-9 1-180 1 9 1 29 1 34 1 26 1 42 1 18 1 25 1 21 1 21 1 17 1 13 1 14 1 7 1 9 1 2 1 12 1 6 1-4 1 0 1-4 1-10 1-8 1 6 1-1 1-1 1-11 1-7 1-7 1 6 1-5 1 5 1-10 1 14 1-9 1-5M1-74l1-2 1-2 1-14 1 6 1 4 1-1 1-4 1-13 1 0 1-9 1-6 1-170 1-7 1 31 1 37 1 26 1 16 1 24 1 18 1 40 1 15 1 9 1 15 1 8 1 22 1 5 1 20 1 4 1 5 1-1 1-6 1 0 1 4 1-1 1-9 1-3 1-22 1 2 1-6 1-6 1 2 1 2 1-12 1-2 1-3 1-2 1-8M1-81l1 7 1-3 1-10 1 8 1-14 1-2 1 6 1-10 1 0 1-7 1-9 1-175 1-8 1 22 1 48 1 28 1 27 1 16 1 27 1 22 1 30 1 3 1 21 1 8 1 16 1 5 1-2 1 15 1 7 1 8 1 3 1-8 1 7 1-6 1 4 1 1 1 1 1-12 1-11 1-17 1-10 1-6 1-10 1-5 1-4 1 2 1-1M1-96l1-6 1-5 1 1 1 11 1 0 1-2 1 8 1 6 1-20 1-5 1-7 1-175 1-6 1 40 1 38 1 28 1 28 1 21 1 25 1 11 1 12 1 15 1 13 1 17 1 10 1 21 1 13 1 14 1 2 1 5 1 2 1-1 1 2 1-2 1-5 1-5 1-13 1-4 1-15 1-16 1-9 1-7 1 2 1-8 1-7 1 4 1-11M1-93l1 1 1 7 1-4 1 0 1 2 1-3 1 1 1-3 1-2 1-10 1-11 1-167 1-6 1 15 1 39 1 39 1 23 1 25 1 24 1 21 1 33 1 11 1 7 1 17 1 15 1-1 1 3 1 14 1 3 1-12 1 6 1 3 1-9 1 5 1 3 1 0 1 0 1-3 1-8 1-11 1-10 1-15 1-7 1 6 1-5 1 14 1-14M1-62l1-4 1 2 1 4 1-3 1-7 1-7 1-10 1-11 1-2 1-21 1 6 1-172 1-7 1 41 1 37 1 28 1 12 1 25 1 35 1 14 1 30 1 9 1 16 1 6 1 9 1-1 1 16 1 5 1 19 1-9 1 5 1 1 1-8 1-7 1 0 1-9 1-5 1-15 1-6 1 3 1-7 1-1 1-2 1-11 1 14 1 0 1-5M1-67l1 6 1-8 1 1 1 1 1-6 1-13 1-3 1-7 1-14 1 5 1-10 1-171 1-13 1 28 1 32 1 36 1 31 1 26 1 24 1 27 1 21 1 14 1 17 1 9 1 15 1 5 1 8 1 21 1 3 1 4 1-8 1-6 1-6 1-4 1 7 1-13 1 1 1-6 1-2 1-11 1 7 1-8 1-9 1 0 1-16 1 0 1 3M1-86l1-9 1 17 1 3 1-7 1 7 1 4 1-8 1 12 1-25 1-2 1-21 1-165 1-3 1 29 1 28 1 46 1 24 1 24 1 17 1 16 1 32 1 0 1 12 1 12 1 2 1 21 1 7 1 13 1 17 1-12 1 2 1 0 1 3 1-9 1 2 1-13 1-7 1 2 1 5 1-7 1-5 1-3 1 6 1-10 1-19 1-14 1 8M1-87l1-7 1-4 1-6 1-1 1 0 1-9 1 8 1-5 1 6 1-1 1-9 1-178 1-1 1 37 1 28 1 19 1 39 1 11 1 33 1 20 1 13 1 15 1 13 1 19 1 14 1-1 1 20 1 20 1 8 1-2 1-1 1 1 1 0 1-11 1-11 1 11 1-8 1-7 1 5 1-9 1-4 1-19 1 3 1-11 1-5 1-9 1-5M1-60l1-5 1-8 1-8 1 7 1-3 1 10 1-6 1 0 1-13 1-19 1-10 1-181 1 13 1 20 1 33 1 29 1 29 1 24 1 32 1 23 1 22 1 11 1 7 1 5 1 15 1 12 1-6 1 13 1 3 1 2 1-4 1 6 1 0 1 2 1-3 1 8 1-20 1 2 1-3 1-17 1-5 1 6 1-17 1-3 1-17 1 5 1 1M1-97l1 4 1-10 1 15 1-1 1 6 1 5 1 5 1-7 1-6 1-20 1-9 1-160 1-18 1 44 1 20 1 30 1 32 1 18 1 26 1 27 1 14 1 11 1 19 1 12 1 19 1-6 1 26 1 7 1 4 1-7 1-4 1-2 1 10 1-6 1 0 1 1 1-1 1-4 1-9 1-7 1-8 1-2 1-7 1-9 1-5 1 2 1-7M1-93l1 9 1-1 1 7 1-8 1 3 1-6 1-3 1-5 1 1 1-9 1-10 1-177 1-2 1 33 1 27 1 36 1 39 1 19 1 17 1 32 1 10 1 16 1 8 1 6 1 15 1 19 1-6 1 10 1 23 1-12 1 1 1-3 1-7 1 3 1-10 1-4 1 0 1 0 1 0 1-12 1 1 1-2 1-8 1-2 1-9 1-10 1 8M1-61l1-1 1-17 1-9 1 1 1-8 1 6 1-2 1-3 1 4 1-11 1-14 1-171 1-1 1 27 1 30 1 32 1 40 1 12 1 24 1 29 1 5 1 16 1-8 1 17 1 5 1 20 1 11 1 6 1 15 1 24 1-4 1 7 1-4 1-1 1 1 1-8 1-9 1-11 1-20 1-3 1-12 1-7 1-4 1 4 1-14 1-2 1-2M1-106l1 8 1-8 1 0 1-2 1 9 1 16 1 3 1-10 1-4 1-6 1-15 1-177 1 0 1 22 1 40 1 33 1 33 1 27 1 15 1 37 1 15 1 16 1 13 1 8 1 19 1-11 1 13 1 6 1 14 1-9 1 4 1 1 1 8 1-15 1-8 1-5 1-3 1-1 1-23 1 0 1 7 1-16 1-10 1-7 1-8 1-6 1 0M1-55l1 7 1-30 1 4 1-15 1 7 1-15 1 8 1 2 1-11 1-12 1-5 1-175 1 7 1 24 1 38 1 20 1 33 1 27 1 14 1 23 1 20 1 17 1 5 1 8 1 4 1 5 1 25 1 4 1 18 1 1 1-3 1-2 1 7 1-19 1-6 1 13 1-18 1-2 1-3 1-2 1-21 1 2 1 5 1-4 1-4 1 6 1-17M1-64l1-7 1 0 1-6 1-3 1-1 1-9 1 3 1-4 1-8 1-8 1-8 1-178 1 10 1 18 1 49 1 18 1 26 1 26 1 16 1 40 1 23 1 12 1 16 1 11 1-3 1 23 1 2 1 16 1 2 1-3 1-4 1 6 1-2 1-14 1 6 1 1 1-2 1 0 1 3 1-4 1-7 1-5 1-11 1-20 1-11 1-11 1-13" fill="none" stroke="#ff8000" stroke-width="1.1" stroke-linejoin="round" vector-effect="non-scaling-stroke"/>
<path d="M1 45 2 45 3 45 4 45 5 45 6 45 7 45 8 45 9 30 10-10 11-60 12-108 13-75 14-30 15 0 16 18 17 32 18 45 19 58 20 68 21 73 22 78 23 79 24 81 25 82 26 83 27 84 28 86 29 87 30 88 31 88 32 89 33 90 34 90 35 90 36 90 37 90 38 90 39 90 40 90 41 90 42 90 43 90 44 90 45 90 46 91 47 92 48 92 48-50 47-48 46-45 45-42 44-40 43-35 42-30 41-25 40-20 39-17 38-15 37-12 36-11 35-10 34-9 33-10 32-11 31-12 30-13 29-15 28-16 27-18 26-19 25-21 24-29 23-37 22-45 21-52 20-60 19-70 18-85 17-100 16-120 15-130 14-140 13-150 12-112 11-100 10-92 9-85 8-80 7-79 6-79 5-78 4-77 3-76 2-76 1-75Z" fill="#33ffff" stroke="#33ffff" stroke-width="1.4" stroke-linejoin="round" vector-effect="non-scaling-stroke"/>
<path d="M1 58l1-9 1-11 1 9 1-1 1 6 1 6 1-8 1-11 1-39 1-61 1-47 1 41 1 57 1 32 1 15 1 11 1 3 1 10 1 19 1 1 1 0 1 6 1-6 1 1 1 8 1 0 1 3 1 11 1-12 1-5 1 6 1-15 1 5 1 2 1 7 1 16 1-18 1 17 1-12 1-1 1 8 1 0 1-3 1-6 1 7 1-12 1 10M1 70l1-23 1 9 1 2 1-2 1 11 1 3 1-1 1-18 1-52 1-54 1-53 1 48 1 28 1 23 1 18 1 27 1 0 1 29 1 10 1-1 1 8 1-8 1 12 1 3 1-3 1 6 1-2 1 0 1-3 1-1 1-7 1 4 1 3 1 7 1-6 1-1 1 0 1 4 1-10 1 2 1 6 1 4 1-6 1-11 1 9 1-3 1-2M1 49l1 0 1 4 1 5 1 8 1-3 1-1 1-5 1-12 1-47 1-51 1-55 1 34 1 47 1 32 1 20 1 24 1 7 1-3 1 18 1 7 1 3 1 1 1 1 1 13 1-8 1 12 1 4 1 2 1 7 1-17 1-1 1 3 1-1 1-4 1-9 1-1 1 9 1-3 1 4 1 7 1 13 1-4 1 5 1-9 1 3 1-2 1-4M1 35l1 0 1 3 1-9 1 3 1 3 1 4 1 7 1-19 1-42 1-44 1-49 1 38 1 46 1 21 1 29 1 27 1 5 1 0 1-11 1 21 1 3 1 1 1 9 1 1 1 6 1 0 1 5 1 7 1-1 1-3 1-1 1 3 1-11 1-7 1-4 1 4 1-13 1 0 1 18 1 2 1 13 1-7 1-6 1 8 1-1 1 0 1 1M1 68l1-8 1 9 1 0 1-10 1 2 1-2 1 0 1-21 1-31 1-62 1-53 1 43 1 50 1 27 1 14 1 8 1 16 1 20 1-14 1 16 1 5 1-3 1 17 1-9 1-8 1 10 1-6 1 11 1-3 1 7 1-10 1 6 1 6 1-8 1-1 1 8 1 6 1-2 1 4 1 3 1-8 1-1 1 7 1-2 1 3 1-2 1-13M1 62l1-6 1-13 1 1 1-9 1 10 1-3 1 8 1-5 1-41 1-59 1-53 1 47 1 50 1 42 1 9 1 15 1 13 1 13 1 5 1-11 1 4 1 2 1 4 1 4 1 2 1 1 1-3 1-1 1 1 1 10 1 3 1-10 1-1 1 7 1 3 1-4 1 0 1 4 1 0 1-2 1-2 1 6 1 3 1-18 1 11 1-10 1 5M1 37l1 3 1 3 1 13 1 2 1-2 1-3 1-3 1-26 1-33 1-60 1-39 1 38 1 43 1 30 1 7 1 19 1 16 1 9 1 21 1-3 1 6 1-1 1 7 1-5 1 6 1 0 1-4 1 6 1 10 1-12 1 4 1 21 1-10 1 19 1-11 1-18 1 11 1-10 1-3 1 1 1-8 1 3 1 7 1-4 1 10 1 4 1-1M1 50l1-3 1-14 1 1 1-8 1 11 1 6 1-1 1-23 1-32 1-44 1-51 1 37 1 47 1 21 1 24 1 12 1 5 1 14 1 11 1 16 1 2 1 0 1 4 1-2 1 13 1 8 1-5 1 7 1 6 1-8 1-7 1 3 1-5 1 11 1-15 1 1 1 8 1-5 1 5 1 4 1 0 1 2 1-3 1-13 1 17 1-7 1 7M1 56l1 1 1 2 1-10 1-4 1 2 1-5 1 7 1-29 1-42 1-34 1-52 1 21 1 36 1 34 1 20 1 14 1 8 1 19 1 12 1 1 1 15 1 1 1 4 1-8 1 6 1-4 1 4 1 9 1-6 1 4 1-4 1 4 1 0 1 10 1-4 1 7 1 5 1-2 1 5 1 15 1-6 1 7 1 0 1-2 1-1 1-14 1 3M1 56l1-7 1 3 1 4 1-2 1 3 1 3 1 3 1-21 1-46 1-50 1-54 1 50 1 44 1 34 1 21 1 12 1 8 1 20 1-5 1-10 1 10 1 2 1 4 1-4 1 1 1 26 1-16 1-2 1 4 1 0 1-4 1-9 1 5 1 0 1 9 1 2 1 21 1-3 1-7 1-2 1 4 1-13 1-2 1-3 1 2 1 10 1-8M1 54l1-2 1-3 1-9 1-4 1-1 1 5 1 0 1-15 1-33 1-51 1-49 1 39 1 57 1 29 1 18 1 10 1 13 1 10 1 4 1 8 1-1 1-11 1 7 1 17 1-23 1 9 1 6 1-2 1 3 1-3 1 1 1-1 1-4 1 3 1 1 1 0 1 5 1-3 1 20 1-8 1 1 1 4 1 10 1 2 1-4 1-7 1 5M1 51l1 6 1 6 1 1 1-3 1-19 1-11 1 4 1-22 1-27 1-48 1-46 1 24 1 36 1 38 1 25 1 21 1 5 1 17 1 18 1 3 1 11 1 4 1-9 1 4 1 8 1-5 1-7 1 7 1 0 1-4 1 0 1 5 1-4 1-13 1-3 1 1 1 3 1 3 1 0 1 9 1-10 1 7 1 6 1 5 1 5 1 8 1 2M1 57l1 8 1-12 1 9 1-28 1 7 1-16 1-5 1-10 1-45 1-33 1-40 1 13 1 45 1 34 1 15 1 28 1 10 1 31 1 4 1 0 1 14 1-4 1-11 1 16 1-12 1 6 1 12 1-14 1 2 1 8 1-13 1 21 1-6 1 14 1 0 1-15 1-5 1 10 1-12 1 11 1 7 1 6 1-6 1-9 1 2 1-6 1 1M1 27l1 10 1-5 1 1 1 14 1 5 1-3 1 7 1-12 1-46 1-55 1-51 1 30 1 48 1 34 1 20 1 19 1 9 1 14 1 9 1 6 1 3 1 3 1-2 1 8 1-11 1-2 1 8 1 8 1-7 1-4 1 11 1-10 1 5 1-1 1-2 1 16 1 3 1 2 1 3 1-7 1 2 1 1 1 0 1-14 1 10 1-12 1-11M1 41l1 5 1-12 1 7 1-5 1 3 1 9 1 1 1-18 1-46 1-49 1-44 1 23 1 48 1 30 1 24 1 13 1 4 1 35 1 2 1 7 1 2 1 12 1 10 1-14 1-1 1-5 1 2 1-7 1 4 1 10 1 3 1-7 1 6 1 3 1-5 1-9 1 6 1-8 1-4 1 0 1 5 1 16 1 11 1-2 1 8 1-16 1 9M1 65l1-4 1-2 1-2 1-3 1-13 1 9 1-4 1-19 1-39 1-40 1-56 1 41 1 53 1 41 1 1 1 23 1 11 1 3 1 17 1 6 1 10 1-5 1-5 1 0 1-2 1-16 1 4 1-1 1 1 1 6 1-6 1-1 1 12 1-2 1 16 1-4 1-17 1-1 1-13 1 7 1-2 1 12 1-5 1 3 1 11 1 1 1 14M1-61l1 10 1-7 1 12 1-14 1 4 1-5 1-8 1-5 1-17 1-4 1-17 1-33 1-1 1 10 1-5 1 39 1 10 1 0 1 10 1 9 1 0 1 17 1 7 1-2 1 1 1 2 1 4 1 11 1 18 1 10 1 6 1-15 1 0 1 2 1-5 1-10 1-8 1-21 1 13 1 11 1 7 1 10 1 1 1-6 1-15 1-4 1-7M1-67l1-3 1 6 1-5 1-5 1 4 1-7 1-6 1-9 1 4 1-15 1-9 1-42 1 12 1 8 1 9 1 19 1 23 1 12 1 25 1 0 1 3 1 18 1 11 1 0 1 1 1 5 1 11 1-10 1 2 1-16 1-12 1 5 1 3 1-8 1 21 1 9 1-5 1 7 1 3 1-3 1 2 1-4 1-17 1-9 1 5 1 2 1-5M1-59l1 2 1-1 1-15 1 8 1-15 1 11 1-3 1-6 1-8 1-10 1-16 1-45 1 21 1 8 1 9 1 14 1 19 1 4 1 3 1 14 1-4 1 3 1 8 1 21 1-2 1-2 1-3 1 0 1 5 1-4 1 9 1 1 1-3 1 5 1 3 1 16 1 20 1 15 1-5 1 1 1-12 1-32 1-38 1-20 1-11 1 2 1 17M1-72l1-5 1 14 1-4 1 16 1-7 1 1 1-4 1-5 1-19 1-18 1-9 1-35 1 10 1 10 1-1 1 35 1 9 1 8 1 12 1 8 1 10 1-2 1 13 1 21 1 2 1-7 1 1 1-2 1-13 1-6 1-4 1 10 1 17 1 4 1 5 1-6 1-13 1-2 1-13 1-13 1-2 1-6 1-10 1-1 1 4 1 4 1 14M1-86l1 6 1-8 1-8 1-10 1 8 1-5 1 3 1 5 1-3 1-4 1-10 1-39 1 18 1 3 1 6 1 21 1 15 1 24 1 3 1 11 1 3 1 16 1-8 1 10 1 10 1 0 1-13 1 0 1 1 1 14 1 4 1 6 1 1 1-14 1-16 1-26 1 1 1-11 1-2 1-7 1 17 1-4 1 13 1 6 1-5 1 9 1-7M1-59l1-1 1 5 1-3 1-7 1-5 1 1 1-11 1-8 1-2 1-3 1-19 1-44 1 22 1-8 1 18 1 26 1 5 1 9 1 11 1 10 1 5 1 19 1 15 1 21 1 5 1-1 1 4 1 3 1 7 1-8 1-6 1 0 1 4 1-13 1-9 1-21 1 12 1-6 1 4 1 3 1 4 1-16 1 6 1-23 1 4 1-15 1-9M1-71l1-3 1 2 1-12 1-2 1-5 1 12 1-7 1-5 1 0 1-12 1-9 1-46 1 11 1 22 1 4 1 27 1 13 1 13 1 6 1 5 1-3 1 6 1 17 1 5 1 14 1 12 1 12 1 13 1-6 1-25 1-23 1-11 1-3 1 5 1-7 1 5 1-6 1-18 1 9 1-1 1-3 1-2 1 9 1 1 1 3 1 6 1 9M1-64l1-3 1-7 1 0 1-3 1-5 1 1 1-3 1 2 1-7 1-12 1-11 1-40 1 6 1 16 1 12 1 4 1 18 1 24 1 12 1-1 1 11 1 12 1 21 1-1 1-10 1-16 1-2 1-11 1 11 1 3 1 20 1 12 1 9 1 1 1 9 1-2 1-8 1 22 1-4 1 6 1-5 1-9 1-11 1-2 1 6 1-12 1 1M1-97l1 2 1 6 1 7 1 8 1 8 1-9 1-6 1 1 1-10 1-8 1-14 1-36 1 12 1 6 1 13 1 16 1 19 1 4 1 14 1 23 1 10 1 0 1 6 1 14 1-14 1-8 1-3 1-9 1-2 1 14 1-3 1 18 1 31 1 0 1 13 1-6 1 15 1-22 1-5 1-22 1-29 1-11 1-33 1 12 1-8 1-2 1 1M1-82l1 2 1 1 1 7 1-8 1 3 1-8 1 16 1-14 1-22 1 9 1-16 1-36 1 11 1 10 1 16 1 20 1 5 1 5 1 22 1 1 1 8 1 17 1-3 1 5 1 8 1 9 1 1 1 20 1-9 1 5 1-11 1-7 1-5 1 7 1 5 1 4 1 7 1-15 1 3 1-16 1-12 1 2 1 9 1-5 1 2 1-2 1 2M1-86l1-2 1-4 1-4 1 1 1 1 1 4 1 4 1-11 1 3 1-3 1-15 1-43 1 10 1 7 1 14 1 22 1 30 1 12 1 19 1 0 1 10 1 8 1 8 1 26 1 1 1 3 1-7 1 13 1 11 1-2 1-2 1 1 1-8 1-10 1 4 1 6 1 5 1-1 1-3 1-8 1-13 1-20 1-15 1-20 1-9 1-7 1 0M1-103l1 15 1-3 1 13 1 3 1-14 1 7 1 1 1-7 1 0 1-15 1-9 1-36 1 7 1-1 1 27 1 11 1 32 1 16 1 3 1 11 1 19 1 13 1-4 1-1 1-8 1 4 1-2 1-1 1 23 1 6 1-3 1-1 1 5 1-7 1-3 1 13 1-3 1 1 1-14 1-7 1 1 1-35 1-10 1 5 1-13 1 6 1 3M1-78l1-4 1 4 1-11 1-4 1-12 1 4 1-6 1-7 1 3 1 1 1-2 1-34 1 5 1 9 1 10 1 28 1 10 1 7 1 17 1-5 1 10 1 3 1 4 1 14 1 17 1 10 1 4 1-7 1-6 1-6 1-11 1-12 1-7 1 2 1 20 1 6 1-8 1-17 1-17 1-4 1-4 1-12 1-2 1 13 1-7 1 8 1 1M1-73l1-18 1 5 1-14 1 10 1-5 1 1 1 11 1-4 1-9 1 1 1-17 1-37 1 13 1-8 1 19 1 19 1 19 1-4 1 26 1 16 1-2 1 2 1 1 1-5 1 14 1-11 1 0 1 18 1 8 1 8 1 11 1 3 1 12 1-4 1-12 1-6 1-18 1-1 1 4 1-15 1-9 1-2 1-14 1 10 1 9 1 1 1-5M1-66l1-18 1-3 1-15 1-2 1 16 1-3 1 6 1-5 1-2 1 0 1-20 1-39 1 0 1 22 1 7 1 24 1 8 1 21 1 7 1 4 1 5 1 20 1 0 1 9 1-5 1 19 1-9 1-6 1 3 1 5 1 13 1 4 1 3 1-10 1-2 1-19 1-13 1-30 1-4 1-6 1-3 1 3 1 25 1 18 1 16 1 12 1-4M1-73l1 5 1-4 1-5 1 5 1-17 1 11 1-2 1-10 1 4 1-21 1-5 1-36 1 3 1 7 1 18 1 21 1 7 1 24 1 5 1-3 1 15 1 1 1 7 1 18 1 13 1 10 1 15 1 13 1 1 1-8 1-27 1-16 1-16 1 11 1-3 1 11 1 12 1-5 1-19 1-18 1-9 1-13 1-4 1 9 1 15 1-5 1 11M1-63l1-3 1-16 1 1 1 1 1 1 1 0 1 1 1-1 1-7 1-12 1-14 1-36 1 11 1 9 1 4 1 25 1 6 1 20 1 5 1-2 1 14 1 5 1 19 1 0 1 5 1 0 1-18 1-16 1 0 1 8 1 3 1 2 1 16 1 8 1-1 1 13 1 5 1 0 1-2 1 2 1-26 1-11 1-8 1-18 1-16 1 10 1-6M1-84l1 0 1-16 1 3 1-7 1 0 1 13 1-9 1-8 1-7 1 1 1 2 1-39 1 12 1 2 1 13 1 23 1 3 1 19 1 12 1-4 1 5 1 3 1 8 1 10 1 4 1 4 1 0 1 0 1-13 1 9 1-17 1 21 1 9 1-9 1-2 1-4 1 11 1-6 1 7 1-7 1 8 1 3 1 4 1-1 1-3 1-18 1-7M1-69l1 6 1-8 1 1 1 4 1-13 1-5 1-2 1-4 1-3 1-13 1-6 1-38 1 15 1 6 1 3 1 25 1 15 1 10 1 10 1 3 1 13 1 15 1 25 1 2 1 5 1-4 1-2 1 8 1-12 1-2 1-10 1-8 1 3 1 9 1 1 1 12 1-6 1 7 1-1 1 0 1 0 1-14 1-17 1-16 1-10 1-7 1 6M1-61l1-6 1-8 1-13 1 0 1-10 1-6 1-3 1 12 1 3 1-13 1-7 1-32 1 9 1-1 1 18 1 28 1 9 1 20 1 17 1 13 1 6 1 13 1 10 1 11 1 4 1-6 1-3 1 9 1 2 1-6 1 17 1-13 1 3 1-18 1-6 1-11 1-14 1-16 1-13 1-7 1 11 1-6 1-7 1 8 1-1 1 20 1 1M1-51l1-7 1-10 1-6 1-4 1-2 1-3 1-10 1-1 1-5 1 0 1-13 1-35 1 10 1 4 1 0 1 18 1 17 1 18 1 14 1 8 1-2 1 12 1 5 1 3 1 7 1 11 1 1 1 24 1 10 1 11 1 4 1 13 1-5 1-13 1-11 1-20 1-8 1-9 1 3 1 0 1 12 1-12 1 12 1-18 1-1 1-12 1-21M1-94l1 12 1 17 1 5 1-9 1 7 1-3 1 5 1-12 1-19 1 3 1-24 1-43 1 17 1 6 1 9 1 6 1 20 1 8 1 11 1 6 1 12 1 2 1 17 1-2 1 4 1 0 1 8 1 10 1 2 1 11 1-4 1 5 1-1 1-6 1-15 1-5 1-16 1-14 1-1 1-13 1 11 1 16 1-12 1 12 1 7 1 0 1 5" fill="none" stroke="#33ffff" stroke-width="1.1" stroke-linejoin="round" vector-effect="non-scaling-stroke"/>
<path d="M1 57 2 57 3 57 4 57 5 57 6 57 7 57 8 57 9 40 10-10 11-60 12-108 13-88 14-70 15-55 16-35 17-10 18 20 19 50 20 75 21 85 22 95 23 105 24 116 25 126 26 132 27 138 28 145 29 151 30 157 31 154 32 151 33 148 34 145 35 139 36 133 37 127 38 121 39 115 40 108 41 102 42 94 43 86 44 78 45 75 46 72 47 69 48 66 48-49 47-46 46-44 45-41 44-38 43-31 42-25 41-18 40-9 39-1 38 8 37 17 36 26 35 36 34 45 33 49 32 52 31 56 30 60 29 56 28 52 27 48 26 44 25 40 24 16 23-8 22-32 21-61 20-90 19-108 18-125 17-150 16-175 15-196 14-200 13-190 12-130 11-105 10-90 9-70 8-58 7-57 6-57 5-56 4-56 3-55 2-55 1-54Z" fill="#9933ff" stroke="#9933ff" stroke-width="1.4" stroke-linejoin="round" vector-effect="non-scaling-stroke"/>
<path d="M1 85l1-30 1 15 1-9 1-3 1 13 1 5 1 4 1-18 1-52 1-66 1-52 1 33 1 5 1 5 1 33 1 17 1 23 1 44 1 23 1 4 1 11 1-2 1 17 1-4 1 10 1 22 1 4 1 1 1 14 1 2 1-13 1-5 1-6 1-11 1 8 1-20 1 1 1-10 1 3 1 0 1-5 1-4 1-6 1-19 1 2 1-4 1-7M1 79l1-18 1-5 1-3 1-9 1-13 1 2 1 13 1-4 1-49 1-53 1-48 1 19 1 14 1 19 1 29 1 20 1 23 1 33 1 8 1 16 1 3 1 16 1 19 1 5 1 23 1 9 1 12 1 3 1 15 1-5 1-6 1-8 1-12 1 2 1-20 1-4 1-17 1-8 1 8 1-2 1-12 1-4 1-7 1-13 1 1 1-7 1 16M1 63l1-5 1-17 1-1 1-3 1-1 1 7 1-2 1-5 1-45 1-53 1-46 1 24 1 24 1 18 1 13 1 25 1 25 1 28 1 15 1 11 1 17 1 12 1 4 1 6 1 8 1 1 1 21 1-3 1 23 1 10 1-7 1-8 1-9 1-13 1-12 1-18 1-5 1-2 1-2 1 2 1-3 1-6 1-17 1-7 1-8 1 7 1-14M1 52l1 11 1 5 1 6 1 14 1-12 1-8 1-6 1-12 1-59 1-45 1-54 1 11 1 28 1 13 1 12 1 35 1 38 1 19 1 15 1 13 1 8 1 3 1 13 1 8 1 8 1 7 1 14 1 15 1 15 1 3 1-1 1 5 1-1 1 9 1-28 1-7 1-10 1-10 1-20 1 5 1-11 1 6 1-20 1-6 1 1 1 8 1-11M1 42l1-5 1 12 1 4 1 14 1 15 1 3 1-6 1-24 1-58 1-62 1-43 1 18 1 21 1 19 1 22 1 14 1 29 1 11 1 31 1 20 1 6 1 22 1 12 1 13 1 6 1-7 1 11 1 19 1-1 1 7 1-15 1-5 1-11 1 0 1-11 1-17 1-1 1-6 1 1 1-7 1-17 1 9 1 0 1-6 1-3 1 7 1-29M1 17l1 6 1-3 1-3 1 17 1 5 1 19 1-15 1-5 1-61 1-49 1-36 1 27 1 12 1 26 1 22 1 27 1 27 1 35 1 14 1 0 1 8 1 13 1 8 1 13 1 8 1-3 1 9 1 9 1 7 1-6 1-8 1-7 1-10 1-2 1-16 1 2 1-6 1-2 1 7 1-2 1 3 1-12 1-5 1-4 1-8 1-13 1-6M1 94l1 5 1-4 1 11 1-18 1 2 1 9 1-14 1-29 1-46 1-60 1-58 1 17 1 22 1 13 1 22 1 36 1 28 1 39 1 27 1 17 1 5 1 18 1 2 1 13 1 8 1 8 1-3 1 9 1-15 1-6 1-7 1 6 1 15 1-12 1-12 1 2 1-16 1-3 1-14 1 1 1 6 1-13 1-10 1-7 1-7 1-14 1-6M1 50l1 13 1-1 1 11 1-10 1 7 1-2 1-7 1-2 1-69 1-42 1-56 1 13 1 30 1 13 1 29 1 21 1 28 1 34 1 22 1 4 1 13 1 20 1 2 1 21 1 6 1-3 1 2 1 11 1 1 1 5 1-1 1-5 1-4 1-9 1-1 1-11 1-2 1-9 1-15 1-9 1-10 1-22 1 0 1-4 1 1 1 3 1 5M1 92l1-16 1-2 1-2 1 3 1 17 1 5 1-14 1-7 1-60 1-71 1-53 1 28 1 23 1 1 1 29 1 31 1 34 1 34 1 25 1 14 1-5 1 19 1 11 1 1 1 20 1 11 1 18 1-8 1 11 1-5 1-16 1-10 1-4 1-8 1 4 1-6 1-9 1 5 1-18 1-6 1-8 1-13 1-13 1-5 1-3 1 5 1 1M1 47l1 5 1-10 1-13 1 1 1-5 1 2 1 5 1-19 1-31 1-42 1-48 1 23 1 10 1 17 1 14 1 20 1 28 1 22 1 28 1 6 1 15 1 16 1 21 1 14 1 6 1 24 1 4 1 1 1 9 1-11 1 4 1-13 1 0 1-11 1-14 1 0 1-10 1-10 1-7 1-4 1-13 1-12 1-5 1 3 1-6 1 5 1 0M1 55l1 13 1-17 1 0 1-14 1-3 1-4 1-9 1-14 1-31 1-44 1-40 1 20 1 10 1 17 1 24 1 26 1 36 1 37 1 29 1 6 1 3 1 2 1 9 1 24 1 1 1 5 1 10 1 29 1 4 1-2 1-3 1-4 1 2 1-7 1-3 1-22 1 6 1-9 1-4 1-8 1-21 1 0 1-2 1-10 1-15 1-11 1 9M1 68l1 4 1-6 1 9 1-6 1 0 1-8 1 4 1-17 1-57 1-49 1-50 1 18 1 29 1 23 1 18 1 22 1 40 1 39 1 23 1 3 1 18 1 4 1 11 1 5 1-4 1-4 1-8 1 3 1 15 1-3 1 4 1-5 1 0 1 4 1-11 1-7 1 2 1-16 1 1 1-15 1-8 1-8 1-9 1-2 1 4 1 7 1-10M1 18l1 9 1-13 1 6 1-4 1 3 1 11 1 5 1-10 1-33 1-58 1-42 1 18 1 18 1 6 1 19 1 20 1 17 1 57 1 24 1 15 1 11 1 5 1 3 1 7 1 7 1 3 1 10 1 14 1 3 1 8 1-9 1 2 1-9 1 1 1-17 1 7 1-21 1-10 1-13 1-11 1-6 1-14 1 5 1-9 1-12 1 9 1 7M1 101l1-5 1 1 1-20 1 0 1-7 1 3 1 8 1-19 1-60 1-66 1-44 1 16 1 20 1 12 1 13 1 34 1 22 1 29 1 24 1 3 1 0 1 18 1 16 1 17 1 6 1 21 1-2 1 8 1-1 1 16 1-7 1-6 1-22 1 1 1-22 1 4 1-14 1-5 1 4 1 2 1 9 1-7 1-24 1 2 1-27 1 14 1-17M1 54l1-7 1 8 1-10 1-3 1 4 1-3 1 8 1-20 1-43 1-47 1-49 1 24 1 20 1 12 1 35 1 20 1 36 1 29 1 29 1 7 1-1 1 9 1 18 1 4 1 20 1 6 1 13 1 4 1 4 1-11 1 0 1-2 1-5 1-11 1-10 1-12 1-8 1-9 1 3 1 0 1-6 1-3 1-1 1-1 1-6 1-18 1-13M1 56l1-2 1-9 1-1 1-1 1 4 1 2 1 20 1-15 1-52 1-47 1-63 1 28 1 11 1 13 1 18 1 14 1 34 1 27 1 37 1 3 1 24 1 6 1 2 1 17 1-3 1 4 1-6 1 15 1 18 1-4 1-7 1 10 1-5 1-11 1-9 1-2 1-17 1 12 1-5 1-4 1-5 1-5 1-23 1 3 1-5 1-6 1-11M1 18l1 5 1 5 1 26 1 2 1 23 1 5 1 0 1-26 1-67 1-51 1-48 1 13 1 17 1 21 1 24 1 28 1 19 1 37 1 35 1 10 1 24 1 19 1 3 1 10 1 3 1-7 1-2 1-6 1 9 1-14 1-4 1 5 1 3 1-13 1 1 1-8 1-1 1-4 1-12 1-9 1 3 1-16 1-10 1-3 1-2 1-9 1-3M1 26l1 0 1 7 1 17 1-7 1-2 1 5 1 1 1-18 1-39 1-47 1-51 1 17 1 21 1 10 1 21 1 16 1 39 1 21 1 8 1 22 1 19 1 31 1 3 1 36 1 0 1 16 1 5 1 1 1 2 1-3 1 7 1-1 1-12 1-6 1-12 1-9 1-16 1-4 1-12 1-10 1-14 1-9 1-4 1 4 1-11 1-14 1 0M1 51l1 2 1 19 1 2 1-9 1 4 1 3 1-1 1-25 1-64 1-47 1-43 1 16 1 24 1 14 1 26 1 16 1 31 1 32 1 40 1 11 1 10 1 0 1 11 1 18 1 4 1 3 1 15 1-1 1 18 1-5 1-3 1-5 1 4 1-6 1-5 1-11 1-8 1-14 1-3 1-2 1-5 1-11 1-15 1-6 1-4 1-2 1-9M1 16l1 5 1 3 1 13 1-2 1 0 1 4 1 3 1-29 1-36 1-47 1-38 1 18 1 28 1 12 1 18 1 19 1 39 1 34 1 17 1 10 1 25 1 9 1 5 1 15 1 5 1 12 1-22 1 17 1 3 1-16 1-16 1-7 1 11 1-3 1-25 1 1 1 4 1-6 1-15 1-11 1 7 1-4 1-20 1 8 1-1 1-8 1 2M1-30l1-11 1-1 1-11 1-20 1-4 1-4 1 12 1-16 1 2 1-19 1-28 1-63 1-8 1 5 1 26 1 25 1 24 1 13 1 18 1 24 1 28 1 23 1 20 1 39 1-8 1 3 1 2 1 7 1 16 1-1 1-14 1-2 1 8 1-19 1 5 1 0 1-13 1-2 1-24 1-3 1-6 1-21 1 3 1 3 1-14 1-2 1-7M1-65l1 6 1 14 1-1 1 13 1-19 1 13 1-15 1-10 1-20 1-14 1-32 1-54 1-19 1 2 1 13 1 26 1 25 1 18 1 27 1 34 1 32 1 26 1 30 1 29 1-11 1 7 1 6 1-7 1 17 1-10 1-5 1-4 1-8 1-5 1-13 1-12 1-10 1-5 1-24 1-4 1-11 1-18 1-10 1 3 1-4 1-5 1 16M1-44l1-4 1-11 1-6 1 0 1-7 1 4 1 9 1-13 1-14 1-14 1-30 1-53 1-20 1 1 1 2 1 33 1 30 1 6 1 23 1 35 1 28 1 14 1 22 1 25 1-9 1 15 1 1 1 12 1 5 1-1 1 8 1 0 1-8 1-22 1-8 1-11 1-2 1-4 1-9 1-9 1-3 1-19 1-10 1 2 1-11 1 6 1 13M1-91l1-14 1 12 1 4 1 14 1 6 1 4 1-1 1-12 1-29 1-10 1-13 1-76 1 8 1-11 1 27 1 29 1 1 1 21 1 19 1 35 1 37 1 30 1 14 1 33 1-3 1 5 1 15 1 1 1 7 1 11 1-11 1-12 1-13 1-29 1-1 1-2 1-15 1 0 1-8 1-4 1-13 1-24 1 7 1-1 1-18 1 4 1-4M1-68l1-9 1 16 1-13 1-5 1 2 1 4 1 9 1-13 1-7 1-16 1-30 1-58 1-14 1 1 1 23 1 21 1 17 1 13 1 17 1 24 1 39 1 27 1 30 1 41 1 7 1 5 1-2 1 6 1-2 1-6 1-23 1 5 1 1 1-13 1-25 1-7 1-19 1-6 1-18 1 10 1-12 1 13 1-13 1 1 1-9 1-5 1 15M1-52l1 2 1-18 1-9 1-2 1 7 1-3 1 23 1-14 1-10 1-34 1-20 1-55 1-9 1-5 1 32 1 5 1 29 1 21 1 17 1 30 1 37 1 19 1 34 1 13 1 5 1 11 1 0 1-6 1-4 1-3 1-9 1 7 1 2 1-24 1-2 1-10 1-9 1-11 1-6 1-22 1 6 1-3 1-1 1-6 1 2 1-1 1 3M1-77l1-4 1 8 1 7 1 13 1 4 1 0 1 4 1-20 1-21 1-18 1-26 1-56 1-13 1 7 1 6 1 19 1 16 1 28 1 19 1 20 1 30 1 23 1 31 1 15 1 24 1-1 1 13 1 12 1-14 1 1 1-11 1-9 1 3 1-7 1-6 1-4 1-10 1-6 1-13 1-19 1-25 1-5 1-12 1-7 1 13 1-12 1-3M1-56l1-10 1-12 1 4 1 8 1-2 1 5 1 5 1-12 1-24 1-19 1-17 1-59 1-10 1 2 1 25 1 26 1 25 1 22 1 14 1 26 1 21 1 25 1 15 1 33 1-4 1 19 1-5 1 4 1-3 1-4 1-7 1-9 1-12 1-8 1-4 1-6 1-12 1-6 1-1 1-6 1 3 1-17 1-3 1 6 1-9 1 7 1-18M1-94l1 0 1 21 1 14 1 1 1 9 1 3 1 12 1-24 1-35 1-21 1-16 1-60 1-16 1 5 1 7 1 31 1 23 1 14 1 10 1 35 1 32 1 21 1 28 1 43 1-3 1 14 1-3 1 12 1 8 1 0 1-19 1 0 1-19 1-35 1-9 1 8 1 1 1-12 1-8 1-17 1-12 1 1 1-12 1-2 1 5 1-9 1 1M1-82l1 1 1-6 1-7 1 18 1 6 1 4 1 3 1 0 1-29 1-9 1-29 1-56 1-12 1 3 1 34 1 13 1 23 1 22 1 29 1 26 1 39 1 28 1 10 1 23 1 9 1 3 1-5 1 8 1-2 1 11 1 1 1-7 1-1 1-8 1-8 1-14 1-17 1-15 1-28 1-10 1-22 1-5 1-7 1 3 1 7 1 1 1-4M1-28l1-11 1-1 1-10 1-7 1-6 1 2 1-2 1-10 1-25 1-4 1-28 1-73 1-8 1 6 1 21 1 24 1 22 1 10 1 24 1 15 1 36 1 28 1 35 1 30 1 7 1 9 1 5 1 14 1-5 1-5 1-2 1-8 1-5 1-13 1-18 1-5 1-18 1-2 1-7 1-5 1-3 1 5 1-9 1-9 1 8 1 1 1-7M1-98l1-6 1 3 1 5 1 3 1 10 1 11 1 4 1-23 1-10 1-7 1-22 1-54 1-21 1 1 1 22 1 24 1 27 1 29 1 24 1 22 1 20 1 20 1 28 1 21 1-2 1 12 1 12 1 1 1 9 1-14 1 11 1-6 1 1 1-19 1-11 1-20 1-21 1-13 1-15 1-6 1 7 1 0 1-1 1 1 1-7 1-3 1-9M1-21l1 5 1 3 1-9 1-2 1-3 1-1 1 5 1-10 1-29 1-24 1-44 1-54 1-6 1-6 1 25 1 37 1 26 1 14 1 21 1 20 1 26 1 33 1 25 1 27 1 16 1-10 1 11 1-6 1-1 1-11 1-3 1-15 1-11 1-14 1 10 1-16 1-3 1-13 1-10 1-4 1 5 1-16 1 1 1 0 1-16 1 14 1-6M1-45l1-3 1 3 1-10 1 0 1-10 1-3 1-5 1 0 1-17 1-19 1-21 1-62 1-8 1 3 1 7 1 35 1 31 1 20 1 23 1 40 1 21 1 21 1 13 1 10 1 2 1 1 1 7 1 12 1 2 1 0 1-12 1-4 1-6 1 4 1-11 1-17 1-11 1-18 1-18 1 3 1-10 1-1 1-14 1-5 1-8 1-4 1-1M1-41l1-1 1 3 1-3 1 10 1-13 1 2 1-4 1-31 1-15 1-15 1-22 1-64 1-24 1 12 1 26 1 19 1 26 1 14 1 16 1 31 1 30 1 26 1 29 1 31 1-10 1 7 1 3 1 3 1 5 1-10 1-2 1-7 1-11 1-9 1 5 1-1 1-4 1-5 1-3 1-2 1-4 1-6 1-14 1-22 1-25 1-8 1-9M1-77l1-5 1-13 1-1 1-4 1 5 1-1 1-1 1-12 1-1 1-11 1-9 1-55 1-18 1-2 1 29 1 14 1 25 1 16 1 23 1 33 1 39 1 25 1 21 1 27 1-2 1-6 1 0 1 5 1-7 1 6 1-2 1-10 1 1 1-1 1-13 1-15 1-3 1-3 1-3 1-3 1 0 1-6 1 3 1-2 1-12 1-10 1-15M1-63l1-6 1-4 1 0 1-16 1 10 1-2 1 7 1-10 1-26 1-1 1-19 1-57 1-15 1 10 1 21 1 32 1 26 1 26 1 10 1 28 1 32 1 29 1 17 1 21 1 4 1-3 1 4 1 2 1 1 1-9 1 11 1 4 1 4 1-14 1-7 1-3 1-13 1-12 1-18 1-14 1-13 1-24 1 6 1-11 1-4 1 5 1 13M1-45l1 9 1-2 1 0 1-12 1-5 1-22 1-8 1-29 1-1 1-4 1-11 1-54 1-18 1-6 1 27 1 30 1 26 1 8 1 23 1 27 1 27 1 27 1 27 1 10 1 7 1 2 1-1 1 1 1-3 1 3 1 2 1-1 1-7 1-11 1-21 1-12 1-10 1-8 1-13 1-6 1-5 1-1 1-1 1-6 1 0 1 6 1-10M1-48l1 8 1 2 1-15 1 3 1-7 1-6 1 7 1-13 1-12 1-28 1-21 1-61 1-9 1 10 1 13 1 29 1 26 1-6 1 22 1 20 1 24 1 26 1 25 1 43 1 2 1 21 1 20 1 15 1-17 1 1 1-13 1 6 1-6 1-8 1-3 1-15 1-13 1-10 1-24 1-7 1-7 1-31 1-4 1 10 1 1 1 0 1 4M1-78l1 11 1-4 1 25 1 2 1 3 1 8 1-9 1-5 1-36 1-23 1-24 1-58 1 1 1-4 1 16 1 11 1 31 1 29 1 16 1 33 1 27 1 23 1 15 1 27 1 5 1-3 1 8 1 0 1 1 1 0 1-6 1-5 1 0 1-9 1-4 1-10 1-27 1-8 1 1 1 6 1-14 1-5 1-11 1 3 1 0 1 3 1-1" fill="none" stroke="#9933ff" stroke-width="1.1" stroke-linejoin="round" vector-effect="non-scaling-stroke"/>
</g></g>
<path d="M156.6 1086.5v-4.5M156.6 852.1v4.5M242.4 1086.5v-4.5M242.4 852.1v4.5M328.2 1086.5v-4.5M328.2 852.1v4.5M414.1 1086.5v-4.5M414.1 852.1v4.5M499.9 1086.5v-4.5M499.9 852.1v4.5M585.7 1086.5v-4.5M585.7 852.1v4.5M156.6 1068.7h4.5M585.7 1068.7h-4.5M156.6 960.6h4.5M585.7 960.6h-4.5M156.6 852.5h4.5M585.7 852.5h-4.5" stroke="#222222" stroke-width="3" fill="none"/>
<rect x="156.6" y="852.1" width="429.1" height="234.4" fill="none" stroke="#222222" stroke-width="3.8"/>
<g font-size="24.5" text-anchor="middle" fill="#262626"><text x="156.6" y="1120.5">0</text><text x="242.4" y="1120.5">10</text><text x="328.2" y="1120.5">20</text><text x="414.1" y="1120.5">30</text><text x="499.9" y="1120.5">40</text><text x="585.7" y="1120.5">50</text></g>
<g font-size="24.5" text-anchor="end" fill="#262626"><text x="146.6" y="1078.7">-200</text><text x="146.6" y="970.6">0</text><text x="146.6" y="862.5">200</text></g>
<text x="371.2" y="1157.5" font-size="27.8" text-anchor="middle" fill="#262626">Time(Samples)</text>
<text transform="translate(87.6 969.3) rotate(-90)" font-size="27.8" text-anchor="middle" fill="#262626">Micro-volts</text>
<text x="371.2" y="842.6" font-size="27.6" font-weight="bold" text-anchor="middle" fill="#000" textLength="352.5" lengthAdjust="spacingAndGlyphs">Predicted output: K-Means</text>
<path d="M806.9 852.1V1086.5M892.6 852.1V1086.5M978.3 852.1V1086.5M1064 852.1V1086.5M721.2 1009.3H1149.7M721.2 933H1149.7M721.2 856.7H1149.7" stroke="#dcdcdc" stroke-width="2.8" fill="none"/>
<g clip-path="url(#c10)">
<path d="M729.8 933 L738.3 933 L746.9 933 L755.5 933 L764.1 933 L772.6 933.1 L781.2 933.4 L789.8 934.1 L798.3 940.1 L806.9 951.5 L815.5 973.4 L824 1021.1 L832.6 1051.3 L841.2 1057.7 L849.8 1045.9 L858.3 1029.4 L866.9 1010.5 L875.5 993.4 L884 976.7 L892.6 960.4 L901.2 944.6 L909.7 929.7 L918.3 915.7 L926.9 902.5 L935.5 891.4 L944 882.3 L952.6 874.4 L961.2 868.2 L969.7 863.1 L978.3 858.5 L986.9 855.7 L995.4 855.5 L1004 855.5 L1012.6 855.5 L1021.2 855.5 L1029.7 859.6 L1038.3 867.3 L1046.9 873.8 L1055.4 877.5 L1064 880.7 L1072.6 884.5 L1081.1 889.5 L1089.7 894.9 L1098.3 900.3 L1106.9 905.1 L1115.4 909.4 L1124 913.4 L1132.6 917.1" fill="none" stroke="#fcc9a0" stroke-width="1.6" stroke-linejoin="round"/>
<path d="M729.8 933.7 L738.3 932.6 L746.9 932.2 L755.5 932.4 L764.1 933.7 L772.6 935.2 L781.2 936.9 L789.8 939.9 L798.3 947.3 L806.9 961.3 L815.5 1002.8 L824 1021.5 L832.6 1021.1 L841.2 997.5 L849.8 981.1 L858.3 968.4 L866.9 959.5 L875.5 952.1 L884 943.5 L892.6 935.3 L901.2 928.6 L909.7 922.6 L918.3 917.4 L926.9 912.8 L935.5 908.6 L944 905.4 L952.6 903.1 L961.2 901.1 L969.7 899.6 L978.3 898.4 L986.9 897.4 L995.4 896.6 L1004 896.4 L1012.6 896.7 L1021.2 897.4 L1029.7 898.2 L1038.3 899.1 L1046.9 899.9 L1055.4 900.8 L1064 902.1 L1072.6 904.4 L1081.1 907.7 L1089.7 910.6 L1098.3 912.8 L1106.9 914.9 L1115.4 916.8 L1124 918.4 L1132.6 919.8" fill="none" stroke="#1fbdb8" stroke-width="2.2" stroke-linejoin="round"/>
<path d="M729.8 932.2 L738.3 931 L746.9 930.7 L755.5 931.2 L764.1 932.1 L772.6 933.3 L781.2 935 L789.8 937.9 L798.3 944.1 L806.9 957.1 L815.5 987.2 L824 1032.8 L832.6 1046.5 L841.2 1042.3 L849.8 1017.9 L858.3 996 L866.9 977.2 L875.5 960.9 L884 946.3 L892.6 932.2 L901.2 917.4 L909.7 902.9 L918.3 891.3 L926.9 883.8 L935.5 877.7 L944 870.8 L952.6 864.1 L961.2 859 L969.7 854.6 L978.3 853.1 L986.9 853.1 L995.4 853.8 L1004 857.4 L1012.6 862.5 L1021.2 867.6 L1029.7 872.8 L1038.3 878.5 L1046.9 884.6 L1055.4 891.7 L1064 898.8 L1072.6 904.9 L1081.1 910.2 L1089.7 915.2 L1098.3 919.5 L1106.9 923.1 L1115.4 926.1 L1124 928.7 L1132.6 930.7" fill="none" stroke="#5d1cb8" stroke-width="2.6" stroke-linejoin="round"/>
</g>
<path d="M721.2 1086.5v-4.5M721.2 852.1v4.5M806.9 1086.5v-4.5M806.9 852.1v4.5M892.6 1086.5v-4.5M892.6 852.1v4.5M978.3 1086.5v-4.5M978.3 852.1v4.5M1064 1086.5v-4.5M1064 852.1v4.5M1149.7 1086.5v-4.5M1149.7 852.1v4.5M721.2 1085.6h4.5M1149.7 1085.6h-4.5M721.2 1009.3h4.5M1149.7 1009.3h-4.5M721.2 933h4.5M1149.7 933h-4.5M721.2 856.7h4.5M1149.7 856.7h-4.5" stroke="#222222" stroke-width="3" fill="none"/>
<rect x="721.2" y="852.1" width="428.5" height="234.4" fill="none" stroke="#222222" stroke-width="3.8"/>
<g font-size="24.5" text-anchor="middle" fill="#262626"><text x="721.2" y="1120.5">0</text><text x="806.9" y="1120.5">10</text><text x="892.6" y="1120.5">20</text><text x="978.3" y="1120.5">30</text><text x="1064" y="1120.5">40</text><text x="1149.7" y="1120.5">50</text></g>
<g font-size="24.5" text-anchor="end" fill="#262626"><text x="711.2" y="1095.6">-200</text><text x="711.2" y="1019.3">-100</text><text x="711.2" y="943">0</text><text x="711.2" y="866.7">100</text></g>
<text x="935.5" y="1157.5" font-size="27.8" text-anchor="middle" fill="#262626">Time(Samples)</text>
<text transform="translate(652.2 969.3) rotate(-90)" font-size="27.8" text-anchor="middle" fill="#262626">Micro-volts</text>
<text x="935.5" y="842.6" font-size="25.2" font-weight="bold" text-anchor="middle" fill="#000" textLength="421.4" lengthAdjust="spacingAndGlyphs">Predicted output: Mean-waveforms</text>
<path d="M1409.4 852.1V1086.5M1531.7 852.1V1086.5M1654 852.1V1086.5M1287.1 1047.4H1715.2M1287.1 969.3H1715.2M1287.1 891.2H1715.2" stroke="#dcdcdc" stroke-width="2.8" fill="none"/>
<g clip-path="url(#c11)">
<path d="M1394 1007h0M1457 974h0M1490 996h0M1449 974h0M1455 994h0M1471 1001h0M1372 976h0M1366 973h0M1379 988h0M1430 1021h0M1370 974h0M1461 986h0M1433 1006h0M1460 989h0M1333 993h0M1479 996h0M1333 1025h0M1442 1012h0M1429 973h0M1508 990h0M1392 964h0M1432 962h0M1446 969h0M1404 967h0M1494 976h0M1403 980h0M1403 992h0M1374 989h0M1405 1002h0M1370 984h0M1439 1000h0M1427 995h0M1385 1008h0M1425 960h0M1428 1023h0M1437 964h0M1469 986h0M1406 985h0M1324 965h0M1406 977h0M1380 1023h0M1370 955h0M1409 990h0M1418 966h0M1413 968h0M1395 1001h0M1378 986h0M1399 960h0M1422 1002h0M1378 956h0M1434 968h0M1467 1010h0M1427 993h0M1446 964h0M1445 973h0M1434 989h0M1422 986h0M1435 1026h0M1444 968h0M1458 996h0M1415 960h0M1416 1010h0M1387 1001h0M1424 1009h0M1473 981h0M1403 984h0M1469 1002h0M1490 975h0M1381 985h0M1401 974h0M1449 994h0M1404 974h0M1418 979h0M1451 977h0M1488 984h0M1453 1026h0M1403 968h0M1429 993h0M1436 990h0M1388 986h0M1466 968h0M1397 985h0M1470 992h0M1440 981h0M1464 975h0M1489 999h0M1453 981h0M1421 973h0M1461 972h0M1455 971h0M1430 1040h0M1376 974h0M1446 975h0M1463 973h0M1391 999h0M1433 1026h0M1491 983h0M1437 1022h0M1364 989h0M1478 981h0M1445 1013h0M1386 985h0M1486 979h0M1403 988h0M1441 968h0M1425 1042h0M1422 975h0M1404 985h0M1410 1001h0M1367 992h0M1479 1047h0M1415 966h0M1431 973h0M1454 973h0M1434 998h0M1436 993h0M1478 979h0M1503 1008h0M1494 1029h0M1407 981h0M1414 1039h0M1384 977h0M1376 968h0M1450 968h0M1369 963h0M1419 1044h0M1481 980h0M1456 987h0M1381 959h0M1416 962h0M1402 969h0M1461 1007h0M1452 992h0M1471 972h0M1491 985h0M1426 995h0M1447 999h0M1435 963h0M1435 967h0M1422 984h0M1426 970h0M1427 988h0M1444 968h0M1480 974h0M1387 968h0M1384 1013h0M1462 1024h0M1420 980h0M1450 991h0M1405 966h0M1388 984h0M1469 994h0M1431 1007h0M1400 1028h0M1374 966h0M1381 1046h0M1483 997h0M1404 998h0M1438 989h0M1439 978h0M1437 990h0M1386 965h0M1463 986h0M1445 992h0M1358 979h0M1452 973h0M1417 994h0M1446 975h0M1425 1019h0M1447 970h0M1426 997h0M1457 976h0M1506 988h0M1389 1081h0M1452 972h0M1473 986h0M1424 981h0M1444 1041h0M1435 1010h0M1424 978h0M1431 995h0M1502 1005h0M1460 980h0M1445 1011h0M1466 969h0M1465 984h0M1433 999h0M1433 996h0M1436 985h0M1422 960h0M1429 992h0M1408 1009h0M1439 976h0M1427 997h0M1435 997h0M1446 1004h0M1449 984h0M1436 992h0M1465 968h0M1390 961h0M1402 1016h0M1417 961h0M1406 959h0M1448 966h0M1371 978h0M1473 986h0M1450 994h0M1367 979h0M1457 990h0M1457 967h0M1415 1018h0M1373 1008h0M1425 971h0M1492 977h0M1414 992h0M1502 1022h0M1442 989h0M1343 994h0M1417 983h0M1418 968h0M1438 1008h0M1393 1016h0M1391 1012h0M1469 984h0M1435 1040h0M1417 975h0M1459 1051h0M1378 1014h0M1428 971h0M1463 1014h0M1355 970h0M1401 1052h0M1403 994h0M1393 1019h0M1477 993h0M1403 989h0M1465 974h0M1449 1001h0M1391 970h0M1334 1014h0M1455 1016h0M1399 985h0M1435 988h0M1421 960h0M1444 965h0M1413 958h0M1421 1005h0M1464 1019h0M1421 987h0M1435 1018h0M1404 984h0M1432 997h0M1441 1053h0M1439 999h0M1490 976h0M1411 984h0M1414 982h0M1459 972h0M1423 975h0M1433 1014h0M1423 973h0M1454 966h0M1495 993h0M1374 993h0M1415 975h0M1391 1015h0M1438 1014h0M1438 971h0M1481 1009h0M1445 969h0M1450 996h0M1424 977h0M1467 983h0M1463 1026h0M1406 987h0M1432 977h0M1450 983h0M1428 996h0M1408 993h0M1396 979h0M1397 958h0M1460 994h0M1441 987h0M1421 1005h0M1429 970h0M1434 968h0M1437 978h0M1429 971h0M1456 991h0M1430 979h0M1447 983h0M1405 960h0M1436 1014h0M1453 974h0M1440 968h0M1406 976h0M1459 1007h0M1431 1051h0M1379 962h0M1393 985h0M1462 976h0M1449 1000h0M1384 1030h0M1458 1026h0M1392 973h0M1395 980h0M1438 966h0M1392 964h0M1383 972h0M1438 968h0M1414 997h0M1393 999h0M1422 982h0M1418 996h0M1355 1011h0M1468 984h0M1395 995h0M1454 991h0M1429 961h0M1427 966h0M1440 965h0M1410 1030h0M1391 1010h0M1445 966h0M1415 960h0M1453 991h0M1438 965h0M1472 986h0M1406 994h0M1343 1034h0M1433 990h0M1434 983h0M1409 971h0M1375 1013h0M1438 1003h0M1461 985h0M1436 998h0M1410 1011h0M1395 973h0M1450 1012h0M1431 980h0M1405 973h0M1408 995h0M1465 972h0M1347 1014h0M1410 979h0M1430 968h0M1429 961h0M1433 973h0M1364 973h0M1438 1027h0M1430 967h0M1418 1018h0M1445 1014h0M1390 1012h0M1434 975h0M1445 971h0M1477 973h0M1436 978h0M1415 966h0M1410 981h0M1371 986h0M1464 973h0M1458 976h0M1432 978h0M1404 974h0M1402 1007h0M1420 1001h0M1469 973h0M1452 971h0M1362 949h0M1476 1001h0M1418 1012h0M1470 1010h0M1427 983h0M1452 973h0M1472 972h0M1435 975h0M1482 1014h0M1395 1012h0M1382 986h0M1451 967h0M1435 970h0M1438 988h0M1386 959h0M1401 972h0M1412 975h0M1442 992h0M1396 1002h0M1498 1003h0M1456 978h0M1450 967h0M1481 991h0M1433 1023h0M1412 1015h0M1418 1002h0M1382 1018h0M1428 991h0M1473 1005h0M1435 1005h0M1401 996h0M1403 998h0M1377 983h0M1409 972h0M1449 969h0M1400 971h0M1396 985h0M1428 1047h0M1426 992h0M1473 998h0M1440 963h0M1419 978h0M1409 995h0M1463 989h0M1419 996h0M1457 976h0M1409 969h0M1367 1045h0M1422 965h0M1389 981h0M1401 958h0M1435 1018h0M1470 982h0M1401 998h0M1407 957h0M1470 972h0M1430 999h0M1425 973h0M1449 1006h0M1425 980h0M1418 993h0M1452 994h0M1457 996h0M1447 999h0M1488 980h0M1392 1021h0M1466 978h0M1348 1018h0M1447 969h0M1485 978h0M1454 978h0M1405 965h0M1433 1015h0M1417 964h0M1451 992h0M1395 994h0M1400 975h0M1430 1001h0M1382 985h0M1438 983h0M1466 1005h0M1408 979h0M1403 970h0M1412 994h0M1441 971h0M1396 1006h0M1466 1002h0M1439 966h0M1419 960h0M1466 987h0M1457 986h0M1423 1027h0M1415 976h0M1465 981h0M1403 1031h0M1477 1006h0M1442 993h0M1417 995h0M1413 986h0M1476 984h0M1429 967h0M1375 1003h0M1445 1008h0M1448 965h0M1406 966h0M1412 959h0M1499 997h0M1438 1001h0M1429 965h0M1436 1018h0M1387 975h0M1448 967h0M1469 983h0M1477 976h0M1450 976h0M1502 982h0M1431 1009h0M1430 961h0M1414 986h0M1492 1001h0M1422 997h0M1450 989h0M1392 985h0M1356 1010h0M1456 998h0M1438 995h0M1428 965h0M1452 985h0M1437 984h0M1410 1000h0M1447 969h0M1456 973h0M1394 1025h0M1428 976h0M1444 968h0M1418 969h0M1428 986h0M1391 1061h0M1432 1026h0M1457 1015h0M1422 966h0M1405 997h0M1348 960h0M1465 975h0M1373 961h0M1388 1022h0M1368 1032h0M1405 1011h0M1443 985h0M1439 1009h0M1455 993h0M1421 964h0M1407 1020h0M1479 1011h0M1392 1018h0M1413 981h0M1318 1019h0M1448 984h0M1376 976h0M1424 1028h0M1410 970h0M1468 1045h0M1432 1007h0M1415 986h0M1465 991h0M1437 976h0M1422 986h0M1443 976h0M1470 1049h0M1372 1055h0M1413 965h0M1372 998h0M1508 999h0M1517 1024h0M1508 999h0M1515 1008h0" fill="none" stroke="#ff8000" stroke-width="5.5" stroke-linecap="round"/>
<path d="M1511 968h0M1513 985h0M1514 964h0M1528 946h0M1528 970h0M1532 963h0M1534 936h0M1522 961h0M1556 945h0M1608 951h0M1584 987h0M1552 1009h0M1557 947h0M1599 1005h0M1551 936h0M1641 926h0M1657 967h0M1600 981h0M1661 933h0M1599 951h0M1562 974h0M1551 951h0M1631 945h0M1551 1007h0M1611 966h0M1577 999h0M1594 957h0M1613 985h0M1585 1007h0M1594 962h0M1573 941h0M1543 930h0M1600 944h0M1596 983h0M1567 941h0M1586 955h0M1575 943h0M1609 996h0M1653 915h0M1615 947h0M1585 939h0M1675 943h0M1549 975h0M1589 935h0M1545 988h0M1576 938h0M1624 948h0M1623 951h0M1590 1031h0M1556 1006h0M1601 958h0M1549 974h0M1581 955h0M1567 991h0M1627 962h0M1620 982h0M1578 977h0M1552 954h0M1539 971h0M1513 965h0M1586 932h0M1653 967h0M1585 1004h0M1569 968h0M1586 943h0M1602 933h0M1562 968h0M1550 981h0M1586 979h0M1571 1020h0M1563 990h0M1592 951h0M1569 975h0M1596 989h0M1619 898h0M1597 977h0M1592 931h0M1627 994h0M1595 985h0M1569 963h0M1602 970h0M1556 980h0M1550 925h0M1532 964h0M1588 966h0M1549 991h0M1573 986h0M1576 966h0M1569 958h0M1608 976h0M1609 959h0M1565 959h0M1621 966h0M1523 961h0M1617 990h0M1579 955h0M1608 937h0M1634 984h0M1615 893h0M1607 982h0M1522 975h0M1589 987h0M1591 939h0M1617 947h0M1541 988h0M1588 951h0M1582 969h0M1544 996h0M1563 911h0M1616 989h0M1560 991h0M1563 989h0M1605 944h0M1586 955h0M1570 1030h0M1586 967h0M1538 1047h0M1620 989h0M1575 991h0M1639 997h0M1618 1033h0M1613 975h0M1579 1017h0M1594 967h0M1598 1006h0M1556 1005h0M1586 984h0M1548 939h0M1564 942h0M1610 983h0M1520 981h0M1605 929h0M1595 953h0M1560 996h0M1691 907h0M1537 973h0M1597 1017h0M1572 955h0M1638 907h0M1570 982h0M1566 967h0M1611 992h0M1576 988h0M1556 991h0M1644 901h0M1632 1004h0M1593 896h0M1596 986h0M1603 971h0M1569 965h0M1598 970h0M1582 999h0M1581 948h0M1585 973h0M1533 949h0M1543 960h0M1570 949h0M1618 968h0M1549 1005h0M1592 908h0M1605 967h0M1628 962h0M1612 950h0M1517 958h0M1642 963h0M1609 946h0M1574 982h0M1617 978h0M1564 949h0M1614 914h0M1563 1013h0M1620 1003h0M1569 979h0M1641 952h0M1542 980h0M1628 1009h0M1538 950h0M1587 997h0M1576 968h0M1544 996h0M1632 946h0M1621 959h0M1564 964h0M1552 966h0M1572 980h0M1574 999h0M1629 1000h0M1590 1003h0M1614 966h0M1589 953h0M1595 960h0M1595 955h0M1567 981h0M1575 991h0M1565 935h0M1534 932h0M1565 955h0M1583 973h0M1602 913h0M1579 970h0M1565 914h0M1623 925h0M1584 1023h0M1599 1016h0M1562 946h0M1563 993h0M1511 967h0M1597 979h0M1595 1012h0M1552 971h0M1613 961h0M1541 994h0M1620 975h0M1591 953h0M1564 973h0M1523 1002h0M1584 950h0M1627 970h0M1599 968h0M1556 998h0M1581 969h0M1558 896h0M1582 949h0M1574 890h0M1589 932h0M1581 998h0M1635 935h0M1574 978h0M1574 966h0M1525 980h0M1562 960h0M1594 996h0M1628 934h0M1552 1007h0M1559 965h0M1625 983h0M1556 961h0M1581 971h0M1578 979h0M1641 925h0M1571 936h0M1646 938h0M1593 980h0M1586 961h0M1626 984h0M1528 998h0M1595 1024h0M1576 994h0M1545 975h0M1621 998h0M1590 972h0M1604 963h0M1561 949h0M1597 995h0M1589 945h0M1563 986h0M1521 999h0M1586 985h0M1578 999h0M1552 970h0M1530 983h0M1621 975h0M1565 998h0M1538 998h0M1539 988h0M1563 1008h0M1582 941h0M1608 971h0M1580 1001h0M1573 954h0M1606 925h0M1530 939h0M1593 923h0M1581 935h0M1580 1002h0M1591 983h0M1579 956h0M1606 945h0M1613 1007h0M1619 984h0M1584 982h0M1542 956h0M1547 996h0M1629 1023h0M1524 959h0M1567 952h0M1580 985h0M1604 985h0M1562 969h0M1544 1022h0M1525 959h0M1645 919h0M1559 992h0M1547 980h0M1615 964h0M1580 1064h0M1591 1003h0M1572 963h0M1585 948h0M1632 1023h0M1529 937h0M1597 987h0M1572 972h0M1616 970h0M1581 1009h0M1631 944h0M1566 1013h0M1581 945h0M1659 893h0M1569 985h0M1549 965h0M1556 960h0M1593 954h0M1549 945h0M1575 1006h0M1581 964h0M1584 941h0M1623 892h0M1579 934h0M1582 932h0M1575 955h0M1604 981h0M1563 1058h0M1601 968h0M1575 935h0M1594 958h0" fill="none" stroke="#33ffff" stroke-width="5.5" stroke-linecap="round"/>
<path d="M1461 960h0M1476 949h0M1474 943h0M1422 942h0M1438 886h0M1447 914h0M1453 963h0M1416 926h0M1443 934h0M1490 900h0M1485 936h0M1462 954h0M1439 900h0M1438 918h0M1437 932h0M1418 927h0M1499 971h0M1439 940h0M1453 961h0M1504 936h0M1440 898h0M1495 939h0M1443 934h0M1482 941h0M1481 966h0M1516 897h0M1413 949h0M1517 955h0M1432 960h0M1494 923h0M1482 950h0M1452 942h0M1501 909h0M1476 960h0M1465 921h0M1407 956h0M1463 964h0M1419 932h0M1455 940h0M1398 939h0M1511 949h0M1514 945h0M1421 953h0M1424 957h0M1486 907h0M1452 965h0M1454 940h0M1513 953h0M1418 939h0M1407 953h0M1495 952h0M1408 932h0M1485 967h0M1473 963h0M1460 943h0M1454 944h0M1443 940h0M1480 956h0M1492 969h0M1465 952h0M1445 958h0M1464 960h0M1449 928h0M1498 933h0M1503 958h0M1412 937h0M1423 959h0M1494 958h0M1451 927h0M1493 967h0M1454 960h0M1464 930h0M1473 926h0M1455 955h0M1470 946h0M1442 922h0M1398 948h0M1461 966h0M1513 949h0M1420 941h0M1461 956h0M1468 938h0M1435 946h0M1474 946h0M1471 930h0M1460 952h0M1458 927h0M1488 956h0M1494 949h0M1483 964h0M1468 923h0M1483 917h0M1425 891h0M1485 938h0M1453 933h0M1425 925h0M1453 954h0M1487 945h0M1442 878h0M1473 951h0M1429 915h0M1476 968h0M1448 879h0M1396 953h0M1423 918h0M1486 932h0M1426 945h0M1521 935h0M1487 900h0M1475 923h0M1470 930h0M1455 938h0M1463 951h0M1446 964h0M1457 943h0M1440 959h0M1374 939h0M1444 962h0M1476 937h0M1475 949h0M1445 952h0M1435 919h0M1450 950h0M1411 952h0M1516 938h0M1495 949h0M1458 912h0M1443 930h0M1507 919h0M1460 938h0M1437 959h0M1436 960h0M1438 948h0M1454 935h0M1464 934h0M1493 968h0M1451 923h0M1465 914h0M1467 920h0M1489 933h0M1409 921h0M1489 955h0M1440 960h0M1418 958h0M1461 949h0M1380 918h0M1489 929h0M1471 930h0M1451 954h0M1397 949h0M1452 961h0M1490 963h0M1486 938h0M1502 970h0M1461 952h0M1489 895h0M1446 947h0M1427 929h0M1453 930h0M1471 954h0M1448 950h0M1438 956h0M1468 911h0M1441 961h0M1512 950h0M1374 938h0M1450 944h0M1505 937h0M1488 946h0M1420 942h0M1368 936h0M1500 932h0M1385 950h0M1442 925h0M1450 961h0M1425 903h0M1388 907h0M1450 934h0M1426 939h0M1497 970h0M1486 940h0M1501 903h0M1503 950h0M1463 967h0M1464 934h0M1491 963h0M1455 965h0M1460 946h0M1451 945h0M1440 935h0M1455 940h0M1465 881h0M1412 939h0M1456 942h0M1440 961h0M1485 951h0M1450 943h0M1419 953h0M1451 929h0M1448 894h0M1433 950h0M1440 960h0M1437 952h0M1438 934h0M1431 864h0M1463 961h0M1421 916h0M1485 903h0M1428 942h0M1452 963h0M1475 969h0M1480 953h0M1490 965h0M1431 937h0M1473 933h0M1424 938h0M1456 957h0M1401 951h0M1435 946h0M1443 939h0M1424 943h0M1466 961h0M1471 931h0M1465 901h0M1471 954h0M1461 954h0M1404 938h0M1431 938h0M1518 902h0M1439 961h0M1452 965h0M1496 901h0M1468 927h0M1373 922h0M1471 918h0M1464 934h0M1410 952h0M1452 942h0M1461 939h0M1506 908h0M1438 952h0M1485 958h0M1478 929h0M1427 909h0M1502 956h0M1408 947h0M1469 965h0M1490 911h0M1509 948h0M1455 904h0M1471 945h0M1390 952h0M1453 960h0M1472 967h0M1444 931h0M1476 931h0M1513 918h0M1415 937h0M1483 898h0M1439 943h0M1479 923h0M1493 943h0M1488 970h0M1439 957h0M1424 917h0M1441 946h0M1440 960h0M1468 950h0M1439 925h0M1406 937h0M1469 927h0M1438 960h0M1458 949h0M1447 953h0M1506 941h0M1415 947h0M1387 946h0M1459 961h0M1424 939h0M1439 939h0M1508 936h0M1461 903h0M1450 914h0M1446 952h0M1413 922h0M1405 936h0M1487 895h0M1446 948h0M1465 928h0M1506 946h0M1482 937h0M1432 941h0M1465 943h0M1395 951h0M1435 926h0M1497 909h0M1453 948h0M1480 905h0M1468 929h0M1418 920h0M1484 963h0M1503 933h0M1499 958h0M1468 968h0M1441 936h0M1509 946h0M1432 957h0M1472 950h0M1495 961h0M1399 950h0M1395 943h0M1400 925h0M1465 946h0M1427 950h0M1499 961h0M1447 929h0M1464 934h0M1474 920h0M1488 921h0M1468 961h0M1486 891h0M1454 936h0M1417 942h0M1420 945h0M1431 940h0M1463 930h0M1476 919h0M1488 950h0M1414 947h0M1491 968h0M1417 933h0M1470 962h0M1484 929h0M1493 943h0M1496 950h0M1457 952h0M1413 932h0M1490 967h0M1512 924h0M1430 932h0M1493 962h0M1500 896h0M1451 943h0M1497 955h0M1474 955h0M1464 907h0M1384 950h0M1521 920h0M1466 914h0M1438 936h0M1482 936h0M1493 918h0M1474 962h0M1481 949h0M1439 943h0M1452 932h0M1459 937h0M1534 919h0M1379 884h0M1427 951h0M1458 938h0M1433 928h0M1494 929h0M1497 933h0M1484 954h0M1452 958h0M1470 920h0M1443 957h0M1436 961h0M1514 954h0" fill="none" stroke="#9933ff" stroke-width="5.5" stroke-linecap="round"/>
</g>
<path d="M1287.1 1086.5v-4.5M1287.1 852.1v4.5M1409.4 1086.5v-4.5M1409.4 852.1v4.5M1531.7 1086.5v-4.5M1531.7 852.1v4.5M1654 1086.5v-4.5M1654 852.1v4.5M1287.1 1047.4h4.5M1715.2 1047.4h-4.5M1287.1 969.3h4.5M1715.2 969.3h-4.5M1287.1 891.2h4.5M1715.2 891.2h-4.5" stroke="#222222" stroke-width="3" fill="none"/>
<rect x="1287.1" y="852.1" width="428.1" height="234.4" fill="none" stroke="#222222" stroke-width="3.8"/>
<g font-size="24.5" text-anchor="middle" fill="#262626"><text x="1287.1" y="1120.5">-400</text><text x="1409.4" y="1120.5">-200</text><text x="1531.7" y="1120.5">0</text><text x="1654" y="1120.5">200</text></g>
<g font-size="24.5" text-anchor="end" fill="#262626"><text x="1277.1" y="1057.4">-200</text><text x="1277.1" y="979.3">0</text><text x="1277.1" y="901.2">200</text></g>
<text x="1501.2" y="1157.5" font-size="27.8" text-anchor="middle" fill="#262626">PC 1</text>
<text transform="translate(1215.1 969.3) rotate(-90)" font-size="27.8" text-anchor="middle" fill="#262626">PC 2</text>
<text x="1501.2" y="842.6" font-size="25.2" font-weight="bold" text-anchor="middle" fill="#000" textLength="347" lengthAdjust="spacingAndGlyphs">Predicted output: PCA space</text>
<rect x="1587.5" y="980.5" width="117" height="94.5" fill="#fff" stroke="#222222" stroke-width="3.5"/>
<path d="M1611.8 998.5h0" stroke="#ff8000" stroke-width="5.6" stroke-linecap="round"/>
<text x="1636" y="1008" font-size="24.6" fill="#000">Unit 1</text>
<path d="M1611.8 1030h0" stroke="#33ffff" stroke-width="5.6" stroke-linecap="round"/>
<text x="1636" y="1039.5" font-size="24.6" fill="#000">Unit 2</text>
<path d="M1611.8 1061.5h0" stroke="#9933ff" stroke-width="5.6" stroke-linecap="round"/>
<text x="1636" y="1071" font-size="24.6" fill="#000">Unit 3</text>
<path d="M242.4 1204.4V1436.6M328.2 1204.4V1436.6M414.1 1204.4V1436.6M499.9 1204.4V1436.6M156.6 1418.6H585.7M156.6 1310.6H585.7M156.6 1202.5H585.7" stroke="#dcdcdc" stroke-width="2.8" fill="none"/>
<g clip-path="url(#c12)"><g transform="translate(156.6 1310.6) scale(8.5820 -0.5403)">
<path d="M1 62 2 62 3 62 4 62 5 62 6 62 7 48 8 34 9 20 10-20 11-60 12-104 13-60 14-30 15 0 16 20 17 40 18 55 19 70 20 85 21 95 22 110 23 125 24 138 25 150 26 153 27 157 28 160 29 163 30 165 31 168 32 166 33 164 34 162 35 159 36 155 37 152 38 141 39 130 40 118 41 105 42 101 43 96 44 92 45 89 46 86 47 83 48 80 48-70 47-65 46-60 45-55 44-50 43-43 42-37 41-30 40-25 39-20 38-15 37-10 36-7 35-3 34 0 33 3 32 7 31 10 30 7 29 3 28 0 27-7 26-13 25-20 24-32 23-45 22-70 21-98 20-122 19-145 18-167 17-193 16-222 15-255 14-290 13-290 12-112 11-105 10-90 9-75 8-73 7-72 6-70 5-60 4-60 3-60 2-60 1-60Z" fill="#ff8000" stroke="#ff8000" stroke-width="1.4" stroke-linejoin="round" vector-effect="non-scaling-stroke"/>
<path d="M1 78l1 14 1-4 1 6 1-4 1 10 1-28 1-26 1-13 1-49 1-42 1-46 1 44 1 31 1 38 1 12 1 26 1 11 1 24 1 9 1 3 1 21 1 15 1 10 1 13 1 11 1 11 1-10 1-3 1 8 1-6 1-4 1 10 1 4 1 4 1-2 1-2 1-15 1-7 1-25 1-18 1 3 1-12 1-9 1 1 1-2 1 1 1-4M1 78l1 17 1-2 1-2 1 0 1 5 1-12 1-30 1-29 1-47 1-41 1-41 1 44 1 32 1 19 1 27 1 26 1 7 1 11 1 18 1 16 1 15 1 22 1 5 1 26 1 5 1 3 1-2 1-1 1 2 1-6 1 2 1 0 1 4 1-1 1 1 1 12 1-8 1-11 1-10 1-14 1 0 1-19 1-19 1-4 1-4 1 3 1 5M1 75l1 3 1-15 1-1 1 7 1-5 1-2 1-21 1-7 1-43 1-49 1-46 1 44 1 33 1 29 1 18 1 16 1 19 1 10 1 35 1 2 1 26 1 11 1 22 1 4 1 4 1 3 1 9 1-2 1 0 1 17 1-4 1-12 1 5 1-20 1 6 1-1 1-18 1-22 1-10 1-12 1 10 1-6 1-8 1 18 1-8 1-7 1-6M1 73l1-16 1 3 1-3 1 6 1 14 1-15 1-13 1-9 1-50 1-47 1-47 1 44 1 28 1 32 1 16 1 33 1 13 1 4 1 26 1 19 1 3 1 23 1 23 1 5 1 4 1-7 1 14 1-6 1 3 1-12 1-1 1-1 1 10 1-5 1 5 1 2 1-16 1-19 1-3 1-13 1 12 1-9 1 4 1-8 1-23 1 1 1-5M1 59l1 8 1 5 1 7 1-1 1 14 1-23 1-14 1-21 1-51 1-48 1-39 1 44 1 26 1 44 1 17 1 19 1 16 1 24 1 3 1 6 1 4 1 23 1 11 1 23 1 7 1 4 1-8 1 13 1 10 1-2 1 3 1 4 1-5 1 2 1-5 1-3 1-10 1-5 1-10 1-2 1-8 1-8 1-7 1-8 1-26 1-5 1-8M1 76l1-12 1 1 1 16 1-8 1 11 1-19 1-19 1-14 1-38 1-46 1-52 1 44 1 30 1 40 1 13 1 16 1 7 1 18 1 16 1 21 1 18 1 12 1 16 1 29 1-8 1 1 1-1 1-1 1 0 1-6 1-8 1 0 1 0 1 6 1 3 1 8 1-13 1-8 1-13 1-21 1-2 1 6 1-3 1 0 1-3 1-6 1-24M1 46l1-1 1 15 1-10 1 21 1-1 1-14 1-14 1-19 1-50 1-31 1-46 1 44 1 34 1 26 1 22 1 18 1 12 1 23 1 6 1 4 1 25 1 2 1 17 1 8 1-7 1 9 1 26 1-5 1 0 1 13 1 1 1 1 1-20 1-2 1-10 1-9 1-7 1-20 1-22 1-1 1-4 1 1 1-1 1-20 1 3 1-5 1-9M1 62l1 19 1-1 1-14 1 1 1-4 1-13 1-19 1-7 1-44 1-36 1-48 1 44 1 25 1 41 1 22 1 17 1 18 1 11 1 11 1 16 1 20 1-3 1 27 1-7 1 9 1-9 1 11 1-4 1 11 1 5 1 1 1 3 1-1 1 1 1 10 1-5 1-4 1-3 1-18 1-14 1-7 1-9 1-8 1-5 1 3 1 2 1-10M1 92l1 3 1 1 1-2 1-11 1-15 1-27 1-16 1-26 1-36 1-23 1-44 1 44 1 30 1 18 1 45 1 14 1 17 1 5 1 17 1 17 1 15 1 21 1 13 1 12 1 12 1-5 1-4 1-7 1 11 1-13 1-10 1 11 1-12 1 17 1-9 1 2 1-9 1-10 1-14 1 0 1-3 1-10 1 0 1-8 1-14 1 2 1-7M1 83l1 17 1-5 1 2 1-15 1-7 1-16 1-13 1-13 1-53 1-36 1-48 1 44 1 42 1 30 1 18 1 9 1 23 1 11 1 29 1 7 1 13 1 18 1 12 1-4 1 4 1 1 1 1 1-5 1 7 1 4 1 13 1 8 1 16 1-13 1-3 1 3 1-5 1-16 1-23 1-26 1-2 1-5 1-4 1-18 1 5 1-2 1 11M1 47l1-10 1 15 1 12 1 4 1 4 1-19 1-9 1-15 1-40 1-47 1-46 1 44 1 32 1 31 1 15 1 27 1 22 1 9 1 14 1 11 1 12 1 12 1 17 1 13 1 8 1 12 1 3 1-1 1 5 1 0 1-12 1-10 1 4 1-19 1-13 1 0 1-7 1-21 1-6 1-1 1 6 1-11 1 8 1-10 1 5 1-8 1 4M1 66l1-5 1 1 1 11 1 1 1 6 1-6 1-12 1-11 1-47 1-62 1-46 1 44 1 33 1 32 1 14 1 23 1 23 1 7 1 22 1-3 1 26 1 4 1 16 1 24 1 6 1 6 1 11 1 5 1-7 1 14 1 2 1-1 1-8 1-4 1 0 1 0 1-16 1-13 1-3 1-13 1-6 1-12 1-7 1 2 1-6 1-5 1-14M1 36l1 7 1 10 1 12 1-8 1 5 1-18 1-12 1-16 1-41 1-30 1-49 1 44 1 34 1 32 1 20 1 18 1 3 1 19 1 12 1 5 1 28 1 19 1 16 1 29 1-5 1 10 1-4 1 2 1 8 1-7 1-5 1-4 1 0 1 3 1-14 1-4 1-19 1-4 1-21 1-14 1 1 1 11 1-10 1 7 1-19 1 2 1-11M1 32l1 9 1 9 1-2 1 4 1-3 1-9 1-5 1-11 1-45 1-32 1-51 1 44 1 33 1 25 1 13 1 28 1 8 1 30 1-1 1 19 1 26 1 22 1 16 1 2 1 3 1 3 1 3 1-4 1 8 1-1 1 14 1-14 1 1 1-10 1-5 1-5 1-3 1-10 1-22 1-11 1-4 1-7 1 10 1 11 1 4 1-10 1-19M1 49l1-8 1-5 1 6 1 5 1 6 1-1 1-8 1-16 1-46 1-47 1-39 1 44 1 39 1 24 1 20 1 22 1 23 1 19 1 0 1 10 1 16 1 20 1 6 1 20 1-1 1 0 1 5 1-7 1 6 1 18 1-3 1 1 1 5 1-7 1 5 1-13 1-6 1-16 1-24 1-11 1-20 1-4 1 1 1-5 1 1 1 7 1-12M1 90l1-3 1 4 1-1 1-14 1-3 1-12 1-9 1-13 1-45 1-44 1-54 1 44 1 29 1 31 1 21 1 18 1 17 1 9 1 18 1 10 1 19 1 23 1 7 1 9 1 19 1 3 1 5 1-11 1 8 1 12 1-3 1-1 1 5 1-16 1-2 1-3 1-20 1-14 1-14 1-17 1-4 1 3 1-14 1 4 1 0 1 3 1 2M1 44l1 3 1 12 1-16 1 8 1 18 1-24 1-11 1-13 1-40 1-32 1-53 1 44 1 32 1 30 1 25 1 22 1 18 1 16 1 20 1 4 1 3 1 13 1-4 1 15 1-2 1 17 1 3 1 5 1 10 1 15 1-6 1 12 1-3 1-10 1-13 1-2 1-15 1-13 1-2 1 2 1-11 1-10 1 0 1-13 1-8 1-10 1-15M1 57l1-6 1 18 1-6 1 17 1-16 1-11 1 1 1-23 1-39 1-47 1-49 1 44 1 32 1 26 1 17 1 15 1 19 1 9 1 13 1 0 1 26 1 14 1 14 1 21 1 16 1-13 1 21 1-6 1-2 1 4 1-3 1-13 1 13 1-10 1 12 1-6 1 11 1-28 1-4 1-10 1-21 1-3 1-19 1 1 1 4 1 8 1-4M1 67l1 3 1-10 1 17 1 1 1-4 1-16 1-24 1-20 1-39 1-36 1-43 1 44 1 36 1 22 1 6 1 20 1 23 1 8 1 34 1 1 1 16 1 17 1 5 1 15 1 14 1 7 1 11 1 3 1 4 1-12 1 9 1-5 1 1 1-4 1-8 1-13 1-20 1-25 1-11 1-25 1-2 1 3 1 9 1-5 1 1 1 15 1-8M1 77l1-8 1-8 1-9 1 9 1-5 1-8 1-25 1-4 1-40 1-41 1-42 1 44 1 31 1 32 1 15 1 27 1 10 1 14 1 18 1 5 1 4 1 11 1 16 1 25 1 14 1 24 1-11 1 9 1 9 1-3 1-10 1-2 1-11 1-11 1-19 1-2 1-13 1-14 1 3 1-6 1 0 1 6 1 1 1-3 1-6 1-16 1-2M1 73l1-9 1 9 1-12 1-5 1-6 1-16 1-17 1 0 1-42 1-38 1-41 1 44 1 32 1 30 1 17 1 14 1 16 1 19 1 21 1-1 1 17 1 16 1 14 1 14 1-8 1 2 1 2 1 12 1-6 1 6 1-5 1-9 1 1 1-4 1-3 1-9 1-9 1-9 1-2 1-13 1-4 1 1 1-15 1-8 1-10 1 6 1-6M1 40l1-4 1 12 1-1 1 31 1 15 1-33 1 0 1-23 1-50 1-49 1-42 1 44 1 27 1 27 1 23 1 26 1 15 1 17 1 19 1 21 1 7 1 15 1 5 1 15 1 11 1 2 1 5 1-2 1-6 1 3 1-9 1 4 1-16 1 2 1 14 1-10 1-10 1-3 1-22 1-11 1-8 1 0 1-9 1 1 1-9 1 2 1 1M1-83l1-1 1-1 1 10 1-9 1-11 1-1 1 8 1-2 1-10 1-9 1-3 1-176 1 1 1 37 1 34 1 29 1 19 1 18 1 23 1 25 1 43 1 20 1 19 1 6 1 13 1-2 1 7 1-14 1 15 1-2 1-8 1 3 1-10 1 5 1-2 1-8 1-3 1-1 1-8 1 0 1-15 1-2 1-1 1 5 1-5 1-9 1-23M1-24l1-26 1 7 1-13 1-11 1-3 1-1 1 11 1 2 1-4 1-43 1-7 1-170 1-6 1 30 1 34 1 21 1 38 1 24 1 35 1 22 1 34 1 15 1 20 1 10 1-7 1 6 1 4 1 10 1-3 1 16 1-2 1 2 1-4 1 8 1-10 1-5 1-3 1-2 1-8 1-8 1 1 1-12 1-22 1 2 1 2 1 2 1-6M1-54l1 0 1 2 1-5 1 4 1-21 1 5 1-13 1 0 1-9 1-8 1-13 1-172 1-9 1 39 1 41 1 16 1 17 1 42 1 15 1 25 1 33 1 16 1 12 1 11 1 14 1 5 1 10 1 5 1-4 1 4 1-1 1-12 1 15 1-3 1-14 1-3 1-8 1-16 1 2 1 2 1-9 1 4 1-13 1-2 1-8 1-1 1-1M1-16l1-18 1-2 1-3 1-10 1-13 1-3 1-9 1-14 1-13 1-1 1-10 1-175 1-16 1 43 1 28 1 31 1 34 1 15 1 26 1 11 1 34 1 41 1 11 1 7 1 8 1 7 1 5 1 2 1 4 1 5 1 4 1-13 1-12 1 10 1 4 1-1 1-11 1-1 1 6 1-25 1 4 1-5 1-14 1-3 1-13 1-15 1-3M1-44l1 1 1 6 1 12 1-6 1-11 1-8 1-15 1-9 1-30 1-3 1-5 1-171 1-6 1 36 1 26 1 30 1 14 1 14 1 38 1 22 1 32 1 17 1 40 1 1 1 6 1 2 1 12 1 0 1-14 1 13 1 1 1-7 1-16 1 5 1-6 1-18 1 10 1-17 1-6 1 1 1-15 1 15 1 3 1-7 1 5 1-7 1-26M1-62l1 7 1 2 1-9 1-1 1-12 1-6 1-10 1 2 1-7 1-8 1-8 1-184 1 18 1 21 1 38 1 35 1 19 1 26 1 10 1 18 1 33 1 16 1 13 1 18 1 3 1 10 1 2 1 11 1 16 1-2 1-2 1 8 1-14 1 6 1-7 1-8 1-10 1-17 1-19 1 5 1-13 1 1 1-14 1-9 1-15 1 5 1-1M1-95l1 2 1-13 1 11 1-1 1-11 1 19 1 0 1-2 1-9 1-10 1-3 1-177 1-5 1 35 1 36 1 21 1 25 1 23 1 18 1 27 1 26 1 19 1 11 1 31 1-9 1 11 1 1 1 1 1-3 1 17 1 11 1-9 1-11 1 0 1-12 1-6 1-13 1 0 1 1 1-11 1 1 1-14 1-10 1-2 1 1 1-22 1-1M1-104l1 12 1 8 1 1 1-2 1-1 1-10 1 15 1-6 1 0 1-22 1-3 1-173 1-4 1 21 1 44 1 33 1 17 1 29 1 7 1 20 1 43 1 13 1 8 1 16 1 13 1-5 1 13 1 7 1 2 1 6 1-13 1 9 1-5 1 2 1-4 1-2 1-14 1-3 1-16 1 0 1-12 1 7 1-1 1-12 1 0 1-4 1-11M1-65l1-10 1-4 1-9 1-3 1-14 1-1 1-7 1 7 1 4 1-16 1 6 1-176 1-4 1 36 1 31 1 33 1 37 1-5 1 28 1 23 1 23 1 36 1 14 1 23 1-2 1 11 1-1 1 2 1 10 1-3 1 1 1-2 1-5 1 1 1 11 1-12 1-2 1 10 1-18 1-10 1-5 1-2 1-4 1-12 1-2 1-14 1 5M1-76l1 2 1 5 1 13 1-1 1-8 1 10 1-12 1-2 1-12 1-27 1-4 1-186 1 6 1 32 1 25 1 34 1 16 1 20 1 34 1 13 1 36 1 29 1 2 1 10 1 22 1 10 1 17 1-7 1 3 1-4 1 4 1-3 1-10 1 4 1 5 1-7 1 4 1-6 1-12 1-8 1-11 1-14 1 2 1-22 1-12 1-13 1-3M1-86l1 1 1-17 1 7 1-3 1-7 1 2 1-4 1 10 1-17 1 11 1-9 1-181 1 12 1 30 1 24 1 31 1 10 1 22 1 21 1 19 1 40 1 15 1 18 1 21 1 2 1 0 1 9 1 9 1-4 1 15 1-1 1 6 1-3 1 6 1-6 1 7 1-1 1-8 1-8 1-9 1-9 1-6 1-18 1 0 1-14 1-3 1-10M1-58l1 0 1 16 1-11 1-15 1-29 1 2 1-12 1-4 1-3 1 3 1-1 1-184 1 2 1 35 1 37 1 31 1 19 1 20 1 20 1 19 1 33 1 20 1 20 1 11 1 9 1 5 1 24 1-2 1-5 1-1 1-1 1-6 1-3 1-2 1-12 1-2 1-1 1-14 1 18 1-12 1-13 1-11 1-17 1-7 1-3 1-8 1 0M1-86l1 24 1 21 1 10 1 5 1-16 1-4 1-15 1-8 1-17 1-28 1 2 1-187 1 8 1 43 1 29 1 39 1 19 1 18 1 21 1 21 1 29 1 16 1 18 1 8 1 11 1 3 1 15 1 16 1 7 1-8 1-3 1-5 1-15 1-5 1-10 1 2 1-14 1 11 1-19 1 2 1 1 1-13 1-22 1 11 1-8 1-1 1-17M1-49l1-22 1 10 1-17 1-3 1-3 1-15 1 8 1-8 1-8 1-5 1 0 1-177 1-1 1 30 1 35 1 29 1 29 1 12 1 25 1 28 1 27 1 8 1 31 1 7 1 15 1-1 1 1 1 21 1-20 1-2 1 4 1 0 1-6 1-6 1-9 1 14 1-23 1 6 1-13 1 6 1-3 1 3 1-7 1 1 1-11 1-1 1-8M1-95l1 6 1 22 1 13 1 12 1-8 1-11 1 3 1-4 1-29 1-4 1-17 1-177 1 9 1 26 1 40 1 19 1 24 1 29 1 14 1 32 1 33 1 22 1 14 1 7 1 8 1 11 1 8 1-7 1 8 1 6 1 3 1-8 1-7 1 2 1-9 1-3 1-2 1 2 1-12 1-29 1 8 1-26 1 5 1 2 1 11 1-14 1-1M1-48l1-2 1-4 1 1 1-4 1 4 1-6 1-5 1 2 1-31 1-17 1-2 1-187 1 4 1 35 1 24 1 35 1 25 1 19 1 21 1 32 1 28 1 24 1 13 1 33 1 5 1 1 1 3 1 9 1-4 1 7 1-15 1 11 1-2 1-6 1-12 1-6 1-10 1-6 1-4 1-10 1 1 1 0 1-22 1 7 1-10 1-16 1 6M1-46l1 7 1-15 1 5 1-20 1-19 1-15 1 6 1-10 1 9 1-19 1 5 1-176 1-10 1 37 1 44 1 16 1 34 1 23 1 23 1 15 1 36 1 27 1 11 1-2 1-2 1 8 1 19 1 3 1 15 1 4 1-7 1-9 1 5 1 0 1-2 1 4 1-8 1 5 1-3 1-8 1-7 1-12 1-10 1-13 1-1 1-15 1-14M1-21l1 7 1 0 1-11 1-26 1-11 1-17 1 15 1 4 1-31 1-11 1-10 1-177 1-6 1 31 1 41 1 24 1 29 1 18 1 12 1 25 1 35 1 26 1 5 1 27 1 0 1 14 1 2 1 11 1-2 1 10 1-9 1 8 1-12 1 2 1-13 1-11 1-6 1-5 1-4 1 14 1-16 1 5 1-10 1-12 1-16 1-10 1-9M1-108l1-3 1 5 1 6 1 11 1-10 1 24 1 3 1 25 1-25 1-20 1-20 1-182 1-3 1 44 1 25 1 39 1 23 1 10 1 29 1 18 1 29 1 27 1 4 1 15 1-1 1 14 1-1 1 15 1 2 1-7 1 0 1-4 1 4 1-7 1-4 1 8 1-14 1 0 1-2 1 0 1-15 1 3 1-25 1-13 1 6 1-1 1-5M1-79l1-11 1 12 1-10 1 6 1-13 1 7 1-7 1 8 1-10 1-10 1-5 1-172 1-17 1 48 1 24 1 33 1 33 1 10 1 37 1 18 1 37 1 25 1 13 1 3 1 7 1-2 1 8 1-1 1 10 1 16 1-12 1-12 1 3 1-5 1-12 1-4 1 0 1-17 1 11 1-28 1 1 1 4 1-10 1 2 1-15 1 8 1-7" fill="none" stroke="#ff8000" stroke-width="1.1" stroke-linejoin="round" vector-effect="non-scaling-stroke"/>
<path d="M1 60 2 59 3 59 4 58 5 57 6 56 7 55 8 37 9 5 10-30 11-65 12-103 13-55 14-25 15 5 16 18 17 34 18 50 19 63 20 75 21 82 22 88 23 89 24 91 25 92 26 92 27 91 28 91 29 90 30 90 31 90 32 89 33 89 34 88 35 88 36 88 37 88 38 88 39 88 40 87 41 87 42 86 43 86 44 85 45 81 46 78 47 74 48 70 48-46 47-42 46-38 45-33 44-29 43-25 42-21 41-18 40-14 39-10 38-9 37-8 36-6 35-5 34-5 33-5 32-4 31-4 30-4 29-7 28-10 27-12 26-15 25-18 24-25 23-33 22-40 21-48 20-55 19-64 18-78 17-92 16-105 15-120 14-132 13-155 12-110 11-102 10-100 9-99 8-92 7-85 6-80 5-74 4-69 3-62 2-55 1-48Z" fill="#33ffff" stroke="#33ffff" stroke-width="1.4" stroke-linejoin="round" vector-effect="non-scaling-stroke"/>
<path d="M1 52l1-3 1-3 1-3 1 0 1 8 1-9 1-20 1-27 1-27 1-28 1-43 1 45 1 24 1 36 1 11 1 20 1 8 1 14 1 18 1 2 1 7 1 12 1-6 1 9 1-12 1 7 1-2 1-14 1 5 1-10 1 17 1-7 1 0 1 2 1 14 1-6 1 3 1-4 1-4 1 0 1-6 1 0 1-13 1 4 1-2 1-7 1 0M1 72l1-11 1-1 1 3 1-25 1 14 1 0 1-23 1-23 1-37 1-31 1-41 1 47 1 21 1 37 1 18 1 6 1 14 1 13 1 27 1-4 1 3 1 3 1 7 1 0 1 6 1-5 1 1 1 1 1 5 1-14 1-7 1 15 1-1 1-7 1 8 1-3 1-1 1-16 1 6 1 7 1-13 1-3 1 6 1-7 1 6 1-16 1-10M1 52l1 0 1 6 1-10 1-2 1-1 1 8 1-30 1-28 1-30 1-37 1-31 1 52 1 15 1 49 1 6 1 17 1 21 1 4 1 19 1 8 1 0 1 13 1 2 1-7 1 4 1-2 1-14 1 5 1 5 1-4 1 6 1-13 1 2 1-6 1 7 1 0 1-4 1 5 1 7 1-5 1 8 1 5 1-8 1-3 1-7 1 1 1-10M1 70l1-7 1 7 1-6 1-10 1-2 1 4 1-38 1-16 1-40 1-31 1-34 1 50 1 29 1 29 1 13 1 3 1 33 1 11 1 11 1 7 1-1 1 3 1 1 1 3 1 4 1 0 1-2 1-5 1 12 1-5 1 3 1-12 1 0 1-2 1 10 1-5 1 10 1-11 1 5 1 0 1-5 1 2 1-1 1-7 1-2 1-13 1 4M1 69l1 1 1-16 1 9 1-4 1 1 1-8 1-13 1-30 1-32 1-41 1-39 1 48 1 29 1 32 1 16 1 18 1 7 1 17 1 13 1 0 1 12 1-3 1 3 1 4 1-6 1 0 1-3 1 2 1 3 1 8 1-3 1 2 1 8 1-1 1-6 1-1 1 0 1 0 1-2 1-13 1 9 1 0 1 7 1-11 1-11 1 4 1-3M1 65l1-13 1 1 1-3 1-7 1 9 1 7 1-26 1-39 1-25 1-35 1-37 1 45 1 29 1 33 1 20 1 3 1 14 1 20 1 17 1 9 1 4 1-2 1 9 1-4 1-9 1 8 1-5 1-4 1 5 1 1 1-14 1 6 1 3 1 7 1-11 1 9 1 0 1 11 1-4 1-3 1-9 1 10 1-9 1-12 1-11 1 1 1-10M1 76l1-5 1-4 1 1 1-13 1 2 1-4 1-15 1-32 1-42 1-21 1-46 1 50 1 26 1 28 1 25 1 10 1 19 1 14 1 8 1 14 1 0 1 8 1-2 1 6 1-7 1 2 1-4 1 4 1-10 1 5 1-7 1 0 1 0 1-5 1 8 1-11 1 12 1 0 1 10 1-15 1 0 1 6 1-3 1-6 1-11 1 2 1 0M1 54l1-4 1 2 1 10 1 8 1-3 1-6 1-16 1-38 1-27 1-48 1-35 1 58 1 21 1 40 1 4 1 8 1 25 1 11 1 18 1 4 1 11 1 1 1-4 1 10 1-6 1 4 1-6 1 5 1 1 1-10 1 0 1 5 1-18 1 11 1-3 1 3 1 10 1 3 1-2 1-1 1-15 1 6 1-10 1 7 1-3 1-4 1 2M1 48l1 10 1 1 1-26 1 20 1 1 1-2 1-25 1-32 1-29 1-37 1-32 1 46 1 33 1 31 1 9 1 18 1 13 1 23 1 15 1 2 1 9 1-4 1-3 1 11 1-2 1-9 1 3 1-8 1 3 1-4 1-12 1 10 1-7 1 8 1 8 1-1 1-5 1-1 1-2 1-2 1-11 1 6 1-3 1-6 1 6 1 1 1 8M1 53l1 11 1-2 1-3 1 1 1 0 1 5 1-20 1-37 1-32 1-47 1-32 1 50 1 25 1 26 1 27 1 11 1 30 1 8 1-1 1 11 1 1 1 5 1-6 1 0 1 0 1 8 1-9 1 9 1-6 1 5 1-3 1 3 1-3 1 1 1-11 1 10 1 5 1-9 1 6 1 5 1-4 1 0 1-7 1-10 1-2 1 4 1-12M1 71l1-5 1-6 1-5 1-13 1 16 1-10 1-11 1-39 1-31 1-31 1-39 1 54 1 17 1 34 1 23 1 4 1 29 1 10 1 6 1 6 1 11 1-2 1 6 1-8 1 1 1-1 1-2 1 3 1-4 1 8 1-9 1 8 1-4 1-11 1 21 1-16 1 8 1-3 1-1 1-3 1 5 1-15 1 2 1 0 1-4 1-15 1 8M1 62l1-1 1-9 1 9 1-6 1 8 1 2 1-27 1-28 1-38 1-44 1-31 1 43 1 36 1 25 1 9 1 25 1 13 1 6 1 17 1 12 1-2 1 11 1-3 1 7 1 2 1-14 1 9 1-3 1-7 1 10 1-11 1 6 1-4 1-13 1 10 1 0 1 1 1-5 1 4 1 7 1 3 1 2 1 4 1-13 1-1 1-3 1-1M1 56l1 4 1 0 1 2 1-3 1 5 1-8 1-21 1-33 1-33 1-29 1-43 1 42 1 44 1 33 1 0 1 18 1 15 1 11 1 6 1 14 1 3 1 0 1 10 1-8 1-1 1-2 1 6 1-5 1 2 1 1 1 1 1 3 1 4 1 2 1-4 1 9 1-10 1-3 1-7 1 1 1 1 1 3 1-3 1 0 1-14 1 11 1-2M1 56l1-3 1 12 1-7 1-13 1 19 1-14 1-6 1-27 1-44 1-39 1-37 1 40 1 39 1 28 1 11 1 26 1 15 1 10 1 19 1-4 1 16 1-2 1 2 1-3 1 4 1-1 1-14 1 7 1-2 1-3 1 5 1 3 1-18 1 8 1 2 1-4 1-5 1 8 1-5 1 10 1 6 1 8 1-9 1 2 1-6 1-8 1 2M1-49l1-7 1-15 1-14 1-3 1-10 1 0 1 1 1-5 1-3 1 0 1-5 1-65 1 36 1 13 1 20 1 17 1 5 1 13 1 7 1 17 1 9 1 0 1 16 1 7 1-1 1 5 1 8 1 7 1-13 1-8 1-1 1-2 1 7 1-9 1 26 1-12 1 16 1 3 1-7 1 7 1-6 1-2 1 1 1-8 1-4 1-12 1 0M1-51l1-12 1-2 1 5 1-7 1 1 1-6 1-20 1-2 1-6 1 4 1-14 1-37 1 17 1 13 1 12 1 5 1 25 1 18 1 9 1 3 1 2 1 11 1 25 1 8 1 5 1-6 1-10 1-3 1-15 1 9 1-4 1 1 1-7 1-6 1-15 1 3 1 8 1 13 1 7 1-6 1 4 1-6 1-13 1 0 1-7 1-4 1 18M1-70l1-11 1 3 1-10 1 9 1 0 1-4 1 0 1-17 1 6 1-9 1-7 1-46 1 21 1 14 1 18 1 12 1 11 1 13 1 9 1 11 1-6 1 13 1 0 1-9 1 5 1 6 1 16 1 4 1 1 1-4 1-13 1-13 1 7 1-9 1-1 1 19 1-7 1 15 1-10 1-5 1 0 1 1 1 5 1-3 1-4 1-9 1 2M1-55l1-11 1-7 1-5 1 17 1-9 1 0 1-6 1-10 1-7 1 7 1-24 1-45 1 19 1 17 1 19 1 10 1 24 1 11 1 2 1 6 1 22 1 1 1 13 1 20 1 2 1-8 1-7 1-12 1-11 1-15 1-3 1-6 1 0 1-4 1-6 1 9 1-6 1-6 1 4 1-6 1 11 1 6 1-2 1-3 1 5 1 3 1 3M1-31l1-18 1-12 1-11 1-13 1-8 1-9 1-7 1-13 1 14 1-7 1 5 1-46 1 18 1 22 1 16 1 2 1 13 1 20 1 6 1 17 1 0 1 9 1-17 1 3 1-1 1-4 1-1 1 13 1-8 1 2 1-2 1-4 1-4 1 7 1 2 1-19 1 13 1-5 1-11 1 6 1 23 1 10 1 7 1-10 1-17 1-6 1-14M1-65l1-4 1-6 1-1 1-10 1-7 1 4 1-28 1 6 1 10 1 0 1-9 1-44 1 18 1 14 1 9 1 15 1 23 1 6 1 7 1 9 1 5 1 14 1 11 1 10 1-14 1 15 1 15 1 6 1-3 1-9 1-26 1-25 1-8 1 7 1 3 1 4 1 23 1 15 1-5 1 5 1 10 1-12 1-13 1-15 1-21 1-6 1-19M1-46l1-13 1-17 1-12 1-5 1 1 1-9 1-9 1-6 1 6 1 13 1-13 1-49 1 28 1 8 1 24 1 10 1 13 1 17 1-3 1 8 1 9 1-1 1 10 1 1 1 7 1 10 1 17 1-2 1-9 1-17 1-11 1-10 1 1 1 6 1 12 1-6 1 26 1 14 1 8 1 18 1-4 1-9 1-13 1-10 1-19 1 4 1-22M1-54l1-2 1-11 1-14 1 5 1-28 1 7 1-14 1-4 1 6 1-5 1 4 1-61 1 26 1 25 1 25 1 5 1 7 1 20 1 6 1 10 1 10 1 4 1 9 1 5 1 15 1 7 1 5 1 10 1 5 1 0 1 13 1 2 1-4 1 6 1-5 1 4 1 1 1-24 1-1 1-11 1-8 1-10 1-14 1-24 1-14 1 8 1-8M1-50l1 2 1-13 1 10 1-3 1-8 1-11 1 0 1 2 1-26 1 8 1-21 1-37 1 17 1 25 1 4 1 10 1 13 1 22 1 10 1-8 1 10 1 14 1 0 1 20 1 9 1 15 1 6 1-8 1 2 1-28 1 3 1-7 1 0 1-9 1 5 1-4 1 13 1 10 1 27 1-8 1 8 1-22 1-8 1-22 1-26 1-6 1-9M1-55l1 2 1-5 1-13 1-9 1 1 1-7 1-3 1 9 1-11 1-8 1-11 1-39 1 21 1 7 1 7 1 22 1 22 1 5 1 9 1 1 1 8 1 5 1 0 1 13 1-5 1 0 1 8 1 14 1-4 1 25 1-2 1-4 1-8 1-5 1-6 1-1 1-18 1-9 1-11 1-18 1-3 1 13 1 2 1 13 1-2 1-1 1-5M1-64l1-2 1-15 1-2 1-13 1 0 1-1 1 5 1 0 1-6 1 3 1-15 1-34 1 8 1 19 1 19 1 16 1 3 1 11 1 12 1 3 1 4 1 4 1 9 1 13 1 1 1 4 1 10 1 8 1 20 1-12 1-4 1-7 1-16 1 13 1 20 1 7 1 15 1-7 1-8 1-23 1-20 1-25 1 8 1 2 1 3 1 7 1-1M1-58l1-1 1-2 1-13 1-4 1-1 1-11 1-7 1-9 1 4 1-4 1-4 1-45 1 24 1 18 1 8 1 15 1 10 1 14 1 17 1-5 1 5 1 7 1 9 1 11 1-9 1 5 1-3 1-5 1 0 1 4 1 10 1 10 1 0 1 11 1-17 1-11 1-14 1 0 1-3 1 0 1-8 1-7 1-8 1-1 1-16 1-5 1-3M1-62l1 10 1-4 1-2 1-8 1-15 1-6 1-28 1-1 1 3 1 1 1 2 1-48 1 24 1 16 1 2 1 17 1 19 1 10 1 13 1-5 1 18 1-1 1 2 1 6 1-8 1-7 1 3 1-2 1 23 1-12 1 17 1-8 1 5 1-16 1-15 1-3 1 5 1 6 1 3 1 6 1-5 1 4 1-7 1-15 1-18 1-5 1 5M1-74l1-5 1-6 1 3 1-5 1-5 1-7 1-4 1-14 1 11 1 4 1-8 1-51 1 30 1 4 1 29 1 4 1 16 1 13 1 7 1 10 1 8 1 5 1-8 1 3 1 4 1-2 1 6 1-1 1 16 1 6 1 7 1-10 1-1 1-27 1-15 1 1 1 4 1-11 1-8 1 4 1-3 1-6 1 1 1-1 1-8 1 8 1-8M1-72l1-13 1 12 1-5 1-1 1-9 1 12 1-5 1-21 1-11 1 10 1-7 1-51 1 31 1 3 1 21 1 12 1 15 1 15 1 7 1 7 1 8 1-3 1 16 1-8 1-6 1-9 1 4 1-4 1 14 1 5 1 14 1 1 1 1 1-8 1 8 1-2 1 11 1-12 1-8 1-23 1-17 1-6 1-1 1 13 1 13 1 18 1-4M1-42l1-5 1-20 1 1 1-2 1-7 1-5 1-1 1-18 1-1 1-7 1-3 1-41 1 12 1 18 1 18 1 13 1 26 1-4 1 12 1-1 1 13 1-9 1 13 1 8 1 12 1-7 1 1 1-32 1 8 1-6 1 3 1 12 1 10 1 14 1 1 1 3 1 1 1-15 1-9 1-10 1-10 1-11 1 6 1 5 1 8 1 14 1-5M1-59l1 6 1-10 1 6 1-10 1-7 1-1 1-13 1-11 1 4 1-9 1-6 1-43 1 15 1 13 1 13 1 7 1 20 1 9 1 6 1 16 1 4 1 4 1 2 1 7 1 0 1 2 1 2 1 7 1-9 1 11 1-1 1 1 1 0 1 11 1 5 1-14 1 0 1-17 1-16 1 2 1 2 1 3 1 1 1 1 1-1 1-12 1-2M1-40l1 2 1-4 1-14 1-6 1 3 1-12 1-14 1-12 1-2 1-6 1-5 1-47 1 21 1 15 1 20 1 7 1 5 1 25 1 2 1 13 1 0 1 10 1 11 1 5 1 7 1-2 1 8 1 2 1 0 1 7 1-9 1-18 1-8 1 3 1-8 1-4 1 10 1-3 1-1 1-1 1-4 1-1 1-10 1-12 1-8 1 5 1-1M1-48l1-10 1-14 1-9 1 5 1 0 1-6 1-9 1 1 1-1 1-9 1-10 1-47 1 35 1 0 1 24 1 4 1 9 1 16 1 16 1 10 1-5 1-4 1 23 1 0 1 10 1-2 1 22 1 0 1 18 1-10 1-3 1-2 1 10 1-12 1-5 1 0 1-2 1-1 1 17 1 3 1 3 1-20 1-11 1-17 1-10 1-14 1-5M1-42l1 8 1-17 1 0 1-18 1-12 1-1 1-9 1-11 1 1 1 1 1-10 1-47 1 31 1 5 1 17 1 13 1 5 1 22 1 4 1 11 1 8 1 9 1 11 1 1 1-6 1 5 1-10 1 17 1 10 1-10 1 10 1-10 1-2 1-3 1-6 1-5 1-5 1 11 1 14 1 7 1 11 1-1 1 3 1 7 1-6 1-12 1-12M1-48l1 1 1-14 1-4 1-16 1 5 1-1 1-11 1-8 1 5 1-12 1-7 1-50 1 24 1 6 1 20 1 25 1 5 1 21 1 7 1 5 1 10 1 5 1 6 1 0 1 5 1 2 1-12 1 4 1-28 1-1 1-1 1 7 1-5 1 14 1 5 1 10 1 8 1 3 1-7 1-30 1-18 1-8 1-1 1 0 1-2 1-11 1-3M1-47l1-22 1 2 1-10 1 7 1 6 1-13 1 2 1-14 1 1 1-7 1-15 1-37 1 20 1 13 1 12 1 0 1 19 1 22 1 9 1 4 1 13 1-3 1 4 1 7 1 12 1 7 1 20 1 8 1 14 1-9 1 5 1-18 1-8 1-9 1-6 1-7 1-8 1-10 1-3 1 4 1 1 1 0 1 20 1-7 1-9 1-2 1-9" fill="none" stroke="#33ffff" stroke-width="1.1" stroke-linejoin="round" vector-effect="non-scaling-stroke"/>
</g></g>
<path d="M156.6 1436.6v-4.5M156.6 1204.4v4.5M242.4 1436.6v-4.5M242.4 1204.4v4.5M328.2 1436.6v-4.5M328.2 1204.4v4.5M414.1 1436.6v-4.5M414.1 1204.4v4.5M499.9 1436.6v-4.5M499.9 1204.4v4.5M585.7 1436.6v-4.5M585.7 1204.4v4.5M156.6 1418.6h4.5M585.7 1418.6h-4.5M156.6 1310.6h4.5M585.7 1310.6h-4.5M156.6 1202.5h4.5M585.7 1202.5h-4.5" stroke="#222222" stroke-width="3" fill="none"/>
<rect x="156.6" y="1204.4" width="429.1" height="232.2" fill="none" stroke="#222222" stroke-width="3.8"/>
<g font-size="24.5" text-anchor="middle" fill="#262626"><text x="156.6" y="1470.6">0</text><text x="242.4" y="1470.6">10</text><text x="328.2" y="1470.6">20</text><text x="414.1" y="1470.6">30</text><text x="499.9" y="1470.6">40</text><text x="585.7" y="1470.6">50</text></g>
<g font-size="24.5" text-anchor="end" fill="#262626"><text x="146.6" y="1428.6">-200</text><text x="146.6" y="1320.6">0</text><text x="146.6" y="1212.5">200</text></g>
<text x="371.2" y="1507.6" font-size="27.8" text-anchor="middle" fill="#262626">Time(Samples)</text>
<text transform="translate(87.6 1320.5) rotate(-90)" font-size="27.8" text-anchor="middle" fill="#262626">Micro-volts</text>
<text x="371.2" y="1194.9" font-size="25.2" font-weight="bold" text-anchor="middle" fill="#000" textLength="389.2" lengthAdjust="spacingAndGlyphs">Predicted output: CAOM Method</text>
<path d="M806.9 1204.4V1436.6M892.6 1204.4V1436.6M978.3 1204.4V1436.6M1064 1204.4V1436.6M721.2 1359.5H1149.7M721.2 1282.5H1149.7M721.2 1205.4H1149.7" stroke="#dcdcdc" stroke-width="2.8" fill="none"/>
<g clip-path="url(#c13)">
<path d="M729.8 1282.5 L738.3 1282.5 L746.9 1282.5 L755.5 1282.5 L764.1 1282.5 L772.6 1283.2 L781.2 1285.3 L789.8 1288.3 L798.3 1296.3 L806.9 1311.7 L815.5 1338 L824 1373.4 L832.6 1401 L841.2 1404.2 L849.8 1391.5 L858.3 1372.4 L866.9 1351.8 L875.5 1332.8 L884 1314.5 L892.6 1297.9 L901.2 1283.5 L909.7 1270.9 L918.3 1259.4 L926.9 1248.9 L935.5 1239.4 L944 1230.7 L952.6 1222.6 L961.2 1216.1 L969.7 1211.3 L978.3 1207.3 L986.9 1204.9 L995.4 1203.7 L1004 1203.3 L1012.6 1206 L1021.2 1210.4 L1029.7 1215.1 L1038.3 1220.6 L1046.9 1226.6 L1055.4 1232.7 L1064 1238.5 L1072.6 1244.5 L1081.1 1250.4 L1089.7 1255.3 L1098.3 1259.8 L1106.9 1264 L1115.4 1267.8 L1124 1271.2 L1132.6 1274" fill="none" stroke="#fcc9a0" stroke-width="1.6" stroke-linejoin="round"/>
<path d="M729.8 1283.2 L738.3 1282.1 L746.9 1281.7 L755.5 1281.9 L764.1 1283.2 L772.6 1284.7 L781.2 1286.5 L789.8 1289.4 L798.3 1296.9 L806.9 1311 L815.5 1352.9 L824 1371.9 L832.6 1371.5 L841.2 1347.7 L849.8 1331.1 L858.3 1318.2 L866.9 1309.3 L875.5 1301.8 L884 1293.1 L892.6 1284.8 L901.2 1278 L909.7 1272 L918.3 1266.8 L926.9 1262.1 L935.5 1257.9 L944 1254.6 L952.6 1252.3 L961.2 1250.3 L969.7 1248.7 L978.3 1247.6 L986.9 1246.5 L995.4 1245.8 L1004 1245.5 L1012.6 1245.8 L1021.2 1246.5 L1029.7 1247.4 L1038.3 1248.3 L1046.9 1249.1 L1055.4 1250 L1064 1251.3 L1072.6 1253.6 L1081.1 1256.9 L1089.7 1259.9 L1098.3 1262.1 L1106.9 1264.2 L1115.4 1266.1 L1124 1267.8 L1132.6 1269.1" fill="none" stroke="#1fbdb8" stroke-width="2.2" stroke-linejoin="round"/>
</g>
<path d="M721.2 1436.6v-4.5M721.2 1204.4v4.5M806.9 1436.6v-4.5M806.9 1204.4v4.5M892.6 1436.6v-4.5M892.6 1204.4v4.5M978.3 1436.6v-4.5M978.3 1204.4v4.5M1064 1436.6v-4.5M1064 1204.4v4.5M1149.7 1436.6v-4.5M1149.7 1204.4v4.5M721.2 1436.6h4.5M1149.7 1436.6h-4.5M721.2 1359.5h4.5M1149.7 1359.5h-4.5M721.2 1282.5h4.5M1149.7 1282.5h-4.5M721.2 1205.4h4.5M1149.7 1205.4h-4.5" stroke="#222222" stroke-width="3" fill="none"/>
<rect x="721.2" y="1204.4" width="428.5" height="232.2" fill="none" stroke="#222222" stroke-width="3.8"/>
<g font-size="24.5" text-anchor="middle" fill="#262626"><text x="721.2" y="1470.6">0</text><text x="806.9" y="1470.6">10</text><text x="892.6" y="1470.6">20</text><text x="978.3" y="1470.6">30</text><text x="1064" y="1470.6">40</text><text x="1149.7" y="1470.6">50</text></g>
<g font-size="24.5" text-anchor="end" fill="#262626"><text x="711.2" y="1446.6">-200</text><text x="711.2" y="1369.5">-100</text><text x="711.2" y="1292.5">0</text><text x="711.2" y="1215.4">100</text></g>
<text x="935.5" y="1507.6" font-size="27.8" text-anchor="middle" fill="#262626">Time(Samples)</text>
<text transform="translate(652.2 1320.5) rotate(-90)" font-size="27.8" text-anchor="middle" fill="#262626">Micro-volts</text>
<text x="935.5" y="1194.9" font-size="25.2" font-weight="bold" text-anchor="middle" fill="#000" textLength="420.7" lengthAdjust="spacingAndGlyphs">Predicted output: Mean-waveforms</text>
<path d="M1409.4 1204.4V1436.6M1531.7 1204.4V1436.6M1654 1204.4V1436.6M1287.1 1397.9H1715.2M1287.1 1320.5H1715.2M1287.1 1243.1H1715.2" stroke="#dcdcdc" stroke-width="2.8" fill="none"/>
<g clip-path="url(#c14)">
<path d="M1394 1358h0M1461 1311h0M1457 1325h0M1476 1300h0M1490 1347h0M1449 1325h0M1455 1345h0M1471 1352h0M1474 1295h0M1372 1328h0M1366 1324h0M1379 1340h0M1430 1372h0M1370 1325h0M1422 1293h0M1438 1238h0M1447 1266h0M1453 1314h0M1461 1337h0M1416 1277h0M1433 1357h0M1460 1340h0M1443 1285h0M1490 1252h0M1485 1288h0M1462 1305h0M1439 1252h0M1438 1270h0M1437 1284h0M1333 1344h0M1418 1278h0M1499 1322h0M1439 1292h0M1453 1312h0M1479 1347h0M1504 1288h0M1333 1376h0M1440 1250h0M1442 1363h0M1495 1291h0M1443 1286h0M1429 1324h0M1482 1293h0M1481 1317h0M1508 1341h0M1392 1315h0M1432 1313h0M1446 1320h0M1404 1318h0M1494 1327h0M1516 1249h0M1413 1300h0M1403 1331h0M1403 1343h0M1374 1340h0M1405 1353h0M1370 1335h0M1517 1306h0M1439 1351h0M1427 1346h0M1385 1359h0M1425 1312h0M1432 1311h0M1494 1275h0M1428 1373h0M1437 1316h0M1482 1301h0M1469 1337h0M1406 1336h0M1452 1294h0M1324 1316h0M1501 1260h0M1476 1311h0M1465 1272h0M1407 1307h0M1463 1316h0M1511 1319h0M1406 1329h0M1419 1283h0M1380 1374h0M1455 1292h0M1398 1291h0M1370 1307h0M1409 1341h0M1511 1301h0M1418 1317h0M1514 1296h0M1413 1320h0M1395 1351h0M1421 1305h0M1424 1309h0M1486 1259h0M1378 1337h0M1399 1311h0M1452 1316h0M1422 1353h0M1378 1307h0M1434 1319h0M1454 1291h0M1513 1304h0M1467 1360h0M1427 1344h0M1418 1290h0M1446 1315h0M1445 1324h0M1434 1340h0M1422 1337h0M1435 1376h0M1444 1319h0M1458 1347h0M1407 1304h0M1415 1312h0M1416 1361h0M1387 1352h0M1424 1360h0M1495 1303h0M1408 1283h0M1473 1333h0M1403 1335h0M1469 1353h0M1485 1318h0M1473 1314h0M1460 1294h0M1490 1326h0M1513 1336h0M1454 1295h0M1443 1292h0M1381 1336h0M1480 1307h0M1401 1325h0M1449 1345h0M1492 1320h0M1404 1325h0M1418 1330h0M1451 1328h0M1465 1303h0M1488 1335h0M1445 1310h0M1453 1377h0M1403 1319h0M1464 1311h0M1449 1280h0M1429 1344h0M1498 1284h0M1436 1341h0M1503 1309h0M1412 1289h0M1388 1337h0M1466 1320h0M1423 1310h0M1397 1337h0M1470 1343h0M1494 1310h0M1440 1332h0M1464 1326h0M1451 1278h0M1489 1350h0M1493 1318h0M1454 1312h0M1453 1333h0M1464 1282h0M1421 1324h0M1473 1278h0M1455 1306h0M1461 1323h0M1455 1322h0M1430 1391h0M1376 1325h0M1470 1297h0M1446 1326h0M1463 1324h0M1442 1274h0M1391 1350h0M1433 1377h0M1398 1299h0M1461 1317h0M1491 1334h0M1513 1301h0M1420 1293h0M1461 1307h0M1437 1373h0M1364 1340h0M1478 1332h0M1445 1364h0M1386 1336h0M1468 1290h0M1486 1330h0M1435 1298h0M1403 1339h0M1441 1320h0M1474 1297h0M1425 1392h0M1471 1282h0M1460 1303h0M1458 1279h0M1422 1326h0M1404 1336h0M1410 1352h0M1367 1343h0M1479 1398h0M1488 1308h0M1415 1318h0M1431 1325h0M1494 1300h0M1454 1324h0M1434 1349h0M1436 1344h0M1483 1315h0M1468 1274h0M1478 1330h0M1503 1359h0M1494 1380h0M1407 1332h0M1414 1390h0M1384 1328h0M1376 1319h0M1483 1269h0M1450 1319h0M1425 1243h0M1485 1289h0M1453 1285h0M1369 1315h0M1419 1394h0M1481 1332h0M1456 1338h0M1425 1277h0M1453 1305h0M1381 1310h0M1416 1313h0M1402 1320h0M1461 1358h0M1452 1343h0M1487 1297h0M1442 1230h0M1471 1323h0M1473 1303h0M1491 1336h0M1514 1315h0M1426 1346h0M1429 1267h0M1447 1350h0M1435 1314h0M1476 1320h0M1448 1231h0M1435 1318h0M1396 1304h0M1423 1270h0M1486 1284h0M1422 1335h0M1426 1321h0M1427 1339h0M1444 1320h0M1426 1297h0M1480 1326h0M1521 1286h0M1487 1252h0M1387 1320h0M1475 1275h0M1470 1282h0M1384 1364h0M1462 1374h0M1420 1331h0M1455 1289h0M1450 1342h0M1405 1318h0M1463 1303h0M1446 1315h0M1388 1335h0M1469 1345h0M1457 1295h0M1528 1297h0M1431 1358h0M1400 1379h0M1374 1318h0M1440 1311h0M1381 1396h0M1374 1290h0M1483 1348h0M1444 1314h0M1404 1349h0M1476 1289h0M1475 1301h0M1445 1303h0M1435 1271h0M1450 1301h0M1438 1340h0M1439 1329h0M1411 1303h0M1516 1290h0M1437 1341h0M1386 1316h0M1463 1337h0M1445 1343h0M1495 1301h0M1458 1264h0M1358 1330h0M1452 1324h0M1443 1281h0M1417 1344h0M1507 1270h0M1460 1289h0M1446 1326h0M1437 1310h0M1425 1370h0M1436 1311h0M1438 1299h0M1454 1286h0M1447 1321h0M1464 1286h0M1426 1347h0M1493 1319h0M1457 1328h0M1451 1274h0M1506 1339h0M1389 1431h0M1465 1266h0M1452 1324h0M1473 1337h0M1467 1271h0M1489 1284h0M1424 1333h0M1409 1272h0M1489 1307h0M1440 1311h0M1418 1309h0M1461 1300h0M1444 1391h0M1435 1361h0M1380 1269h0M1424 1329h0M1431 1346h0M1502 1356h0M1460 1331h0M1489 1280h0M1445 1362h0M1471 1282h0M1466 1320h0M1465 1335h0M1451 1305h0M1433 1350h0M1433 1347h0M1397 1300h0M1436 1336h0M1422 1312h0M1429 1343h0M1452 1312h0M1408 1360h0M1490 1314h0M1486 1289h0M1439 1327h0M1502 1321h0M1427 1347h0M1435 1348h0M1446 1355h0M1461 1304h0M1449 1335h0M1489 1247h0M1436 1343h0M1465 1319h0M1446 1299h0M1390 1312h0M1402 1367h0M1427 1280h0M1417 1312h0M1406 1311h0M1453 1282h0M1448 1317h0M1371 1329h0M1471 1305h0M1448 1301h0M1473 1337h0M1438 1308h0M1450 1345h0M1367 1331h0M1468 1263h0M1457 1341h0M1457 1318h0M1415 1369h0M1373 1359h0M1425 1322h0M1441 1313h0M1512 1302h0M1492 1329h0M1414 1343h0M1374 1289h0M1450 1296h0M1505 1289h0M1502 1373h0M1488 1298h0M1420 1293h0M1442 1340h0M1368 1287h0M1343 1345h0M1500 1284h0M1417 1334h0M1418 1319h0M1438 1359h0M1385 1301h0M1393 1367h0M1528 1321h0M1391 1363h0M1469 1335h0M1435 1391h0M1417 1326h0M1442 1276h0M1459 1402h0M1378 1364h0M1428 1323h0M1463 1365h0M1355 1321h0M1401 1402h0M1403 1345h0M1393 1369h0M1477 1344h0M1450 1312h0M1425 1255h0M1388 1259h0M1403 1340h0M1450 1285h0M1465 1325h0M1426 1290h0M1497 1321h0M1486 1292h0M1449 1352h0M1391 1322h0M1334 1365h0M1455 1367h0M1501 1254h0M1399 1336h0M1435 1339h0M1421 1312h0M1503 1301h0M1444 1316h0M1413 1309h0M1421 1355h0M1464 1370h0M1421 1338h0M1435 1368h0M1404 1335h0M1463 1318h0M1432 1348h0M1441 1404h0M1464 1285h0M1439 1350h0M1490 1327h0M1491 1315h0M1411 1335h0M1414 1333h0M1459 1323h0M1423 1326h0M1455 1316h0M1460 1298h0M1451 1296h0M1440 1286h0M1455 1291h0M1433 1365h0M1423 1324h0M1454 1318h0M1495 1344h0M1374 1344h0M1415 1327h0M1465 1233h0M1391 1366h0M1438 1365h0M1412 1290h0M1438 1322h0M1481 1360h0M1445 1321h0M1450 1347h0M1424 1328h0M1467 1334h0M1463 1377h0M1456 1293h0M1406 1338h0M1440 1312h0M1485 1303h0M1432 1329h0M1450 1295h0M1450 1334h0M1428 1347h0M1408 1344h0M1419 1304h0M1396 1331h0M1397 1309h0M1451 1281h0M1460 1345h0M1441 1338h0M1421 1356h0M1429 1321h0M1448 1246h0M1434 1320h0M1437 1329h0M1429 1322h0M1433 1301h0M1456 1342h0M1440 1311h0M1430 1330h0M1437 1304h0M1447 1334h0M1438 1285h0M1405 1311h0M1431 1216h0M1463 1313h0M1436 1365h0M1421 1268h0M1453 1325h0M1440 1319h0M1406 1327h0M1459 1358h0M1431 1401h0M1379 1313h0M1485 1255h0M1393 1336h0M1428 1293h0M1452 1315h0M1462 1327h0M1475 1320h0M1480 1304h0M1449 1350h0M1384 1381h0M1458 1377h0M1490 1316h0M1392 1324h0M1395 1332h0M1431 1289h0M1473 1285h0M1424 1289h0M1438 1318h0M1456 1308h0M1392 1315h0M1383 1323h0M1438 1319h0M1401 1303h0M1435 1298h0M1414 1348h0M1443 1290h0M1393 1350h0M1422 1333h0M1424 1294h0M1466 1313h0M1471 1283h0M1418 1347h0M1465 1253h0M1355 1362h0M1468 1335h0M1471 1305h0M1395 1346h0M1454 1342h0M1461 1306h0M1429 1312h0M1427 1318h0M1404 1290h0M1431 1290h0M1518 1254h0M1440 1316h0M1439 1312h0M1410 1380h0M1452 1316h0M1496 1253h0M1391 1360h0M1468 1279h0M1445 1317h0M1373 1273h0M1415 1311h0M1453 1342h0M1471 1270h0M1438 1317h0M1464 1286h0M1472 1337h0M1406 1345h0M1343 1385h0M1433 1341h0M1410 1303h0M1452 1293h0M1434 1334h0M1409 1322h0M1375 1363h0M1461 1290h0M1438 1354h0M1461 1336h0M1436 1349h0M1506 1259h0M1410 1362h0M1438 1303h0M1485 1309h0M1395 1324h0M1450 1363h0M1431 1332h0M1405 1324h0M1478 1281h0M1408 1346h0M1465 1323h0M1427 1261h0M1347 1365h0M1410 1330h0M1502 1307h0M1430 1319h0M1429 1313h0M1532 1315h0M1433 1325h0M1364 1324h0M1438 1377h0M1430 1318h0M1408 1298h0M1418 1369h0M1469 1316h0M1445 1365h0M1390 1363h0M1434 1326h0M1490 1263h0M1445 1322h0M1509 1300h0M1477 1324h0M1436 1329h0M1415 1317h0M1410 1332h0M1455 1256h0M1371 1337h0M1464 1324h0M1471 1297h0M1458 1328h0M1432 1329h0M1404 1325h0M1402 1358h0M1390 1303h0M1420 1351h0M1469 1325h0M1452 1322h0M1453 1312h0M1362 1300h0M1476 1352h0M1472 1318h0M1444 1283h0M1476 1283h0M1513 1269h0M1418 1363h0M1470 1361h0M1427 1334h0M1415 1289h0M1452 1324h0M1472 1323h0M1483 1250h0M1435 1327h0M1482 1365h0M1395 1362h0M1382 1337h0M1451 1318h0M1439 1295h0M1479 1274h0M1435 1321h0M1493 1294h0M1488 1321h0M1438 1339h0M1439 1309h0M1424 1269h0M1386 1311h0M1401 1323h0M1412 1326h0M1442 1343h0M1396 1353h0M1441 1297h0M1498 1354h0M1456 1329h0M1440 1311h0M1468 1301h0M1439 1276h0M1450 1318h0M1481 1342h0M1406 1289h0M1433 1374h0M1469 1279h0M1412 1366h0M1438 1311h0M1418 1353h0M1458 1301h0M1382 1368h0M1428 1342h0M1447 1304h0M1506 1292h0M1473 1356h0M1415 1298h0M1387 1298h0M1459 1312h0M1435 1355h0M1401 1347h0M1424 1291h0M1403 1349h0M1377 1334h0M1439 1290h0M1508 1287h0M1409 1323h0M1449 1320h0M1400 1322h0M1396 1336h0M1428 1398h0M1461 1255h0M1426 1343h0M1473 1349h0M1440 1314h0M1419 1329h0M1409 1346h0M1463 1340h0M1419 1347h0M1457 1327h0M1409 1320h0M1367 1395h0M1450 1266h0M1422 1317h0M1389 1332h0M1446 1303h0M1413 1274h0M1405 1288h0M1401 1310h0M1487 1246h0M1435 1369h0M1470 1333h0M1401 1349h0M1407 1309h0M1446 1300h0M1470 1324h0M1465 1280h0M1506 1298h0M1430 1350h0M1425 1325h0M1449 1357h0M1425 1331h0M1418 1344h0M1452 1345h0M1457 1347h0M1447 1350h0M1482 1288h0M1488 1331h0M1392 1371h0M1432 1293h0M1465 1295h0M1395 1302h0M1466 1329h0M1348 1369h0M1435 1277h0M1447 1321h0M1497 1261h0M1453 1299h0M1485 1329h0M1454 1329h0M1405 1316h0M1480 1257h0M1468 1281h0M1433 1365h0M1417 1316h0M1418 1272h0M1484 1314h0M1503 1285h0M1499 1309h0M1468 1319h0M1441 1287h0M1509 1298h0M1451 1343h0M1432 1308h0M1395 1345h0M1400 1326h0M1472 1302h0M1430 1352h0M1382 1336h0M1495 1313h0M1438 1334h0M1399 1301h0M1466 1355h0M1395 1294h0M1408 1330h0M1403 1321h0M1412 1345h0M1400 1277h0M1534 1288h0M1465 1297h0M1441 1323h0M1427 1301h0M1396 1356h0M1466 1353h0M1499 1312h0M1447 1280h0M1439 1317h0M1419 1311h0M1466 1338h0M1464 1286h0M1457 1337h0M1474 1271h0M1423 1378h0M1415 1327h0M1488 1273h0M1465 1332h0M1468 1313h0M1403 1382h0M1477 1357h0M1486 1243h0M1442 1344h0M1417 1346h0M1454 1287h0M1413 1337h0M1417 1294h0M1476 1335h0M1429 1318h0M1375 1354h0M1445 1359h0M1448 1317h0M1420 1296h0M1406 1317h0M1431 1291h0M1412 1311h0M1463 1281h0M1499 1348h0M1438 1352h0M1476 1271h0M1429 1316h0M1488 1301h0M1436 1369h0M1414 1299h0M1387 1327h0M1448 1318h0M1469 1334h0M1491 1319h0M1477 1327h0M1450 1327h0M1502 1333h0M1417 1284h0M1470 1313h0M1431 1360h0M1430 1313h0M1484 1281h0M1493 1294h0M1414 1337h0M1496 1302h0M1492 1352h0M1422 1348h0M1450 1340h0M1392 1336h0M1356 1360h0M1456 1349h0M1438 1346h0M1428 1317h0M1457 1303h0M1413 1284h0M1452 1336h0M1490 1318h0M1512 1276h0M1437 1335h0M1410 1351h0M1430 1283h0M1447 1320h0M1456 1325h0M1394 1376h0M1493 1313h0M1500 1248h0M1451 1294h0M1428 1327h0M1444 1319h0M1497 1307h0M1474 1307h0M1464 1259h0M1384 1301h0M1418 1320h0M1428 1337h0M1391 1412h0M1521 1272h0M1432 1377h0M1466 1266h0M1457 1365h0M1422 1317h0M1438 1287h0M1405 1348h0M1348 1312h0M1465 1326h0M1373 1312h0M1388 1372h0M1368 1382h0M1405 1362h0M1482 1287h0M1443 1336h0M1439 1360h0M1455 1344h0M1421 1315h0M1407 1371h0M1479 1361h0M1392 1369h0M1413 1332h0M1318 1369h0M1493 1270h0M1474 1314h0M1448 1335h0M1376 1327h0M1481 1300h0M1439 1295h0M1452 1283h0M1424 1379h0M1459 1289h0M1410 1322h0M1468 1395h0M1534 1271h0M1432 1358h0M1379 1236h0M1427 1303h0M1415 1337h0M1465 1342h0M1437 1328h0M1458 1289h0M1433 1280h0M1422 1337h0M1443 1327h0M1470 1399h0M1372 1406h0M1494 1281h0M1413 1316h0M1372 1349h0M1497 1285h0M1522 1313h0M1484 1305h0M1452 1309h0M1470 1272h0M1443 1308h0M1436 1313h0" fill="none" stroke="#ff8000" stroke-width="5.5" stroke-linecap="round"/>
<path d="M1556 1296h0M1608 1302h0M1584 1338h0M1552 1359h0M1557 1298h0M1599 1356h0M1551 1288h0M1641 1278h0M1657 1318h0M1600 1332h0M1661 1284h0M1599 1302h0M1562 1325h0M1551 1303h0M1631 1296h0M1551 1358h0M1611 1317h0M1577 1350h0M1594 1308h0M1613 1336h0M1585 1358h0M1594 1314h0M1573 1293h0M1543 1282h0M1600 1295h0M1596 1334h0M1567 1293h0M1586 1306h0M1575 1294h0M1609 1347h0M1653 1267h0M1615 1298h0M1585 1291h0M1675 1294h0M1549 1326h0M1589 1287h0M1545 1340h0M1576 1290h0M1624 1299h0M1623 1303h0M1590 1381h0M1556 1357h0M1601 1310h0M1549 1325h0M1581 1306h0M1567 1342h0M1627 1313h0M1620 1333h0M1578 1328h0M1552 1305h0M1539 1322h0M1513 1316h0M1586 1284h0M1653 1319h0M1585 1354h0M1569 1320h0M1586 1294h0M1602 1284h0M1562 1319h0M1550 1332h0M1586 1331h0M1571 1371h0M1563 1341h0M1592 1303h0M1569 1326h0M1596 1340h0M1619 1250h0M1597 1328h0M1592 1282h0M1627 1345h0M1595 1336h0M1569 1314h0M1602 1321h0M1556 1331h0M1550 1277h0M1532 1315h0M1588 1317h0M1549 1342h0M1573 1337h0M1576 1317h0M1569 1310h0M1608 1327h0M1609 1310h0M1565 1310h0M1621 1318h0M1523 1313h0M1617 1341h0M1579 1306h0M1608 1289h0M1634 1335h0M1615 1245h0M1508 1350h0M1607 1333h0M1522 1327h0M1589 1338h0M1591 1291h0M1617 1298h0M1541 1339h0M1588 1302h0M1582 1320h0M1517 1374h0M1544 1347h0M1563 1262h0M1616 1340h0M1560 1342h0M1563 1340h0M1514 1305h0M1605 1296h0M1586 1306h0M1570 1380h0M1586 1318h0M1538 1397h0M1620 1340h0M1575 1342h0M1639 1348h0M1618 1384h0M1613 1326h0M1579 1368h0M1594 1318h0M1598 1357h0M1556 1356h0M1586 1335h0M1548 1290h0M1564 1294h0M1610 1334h0M1520 1332h0M1605 1281h0M1595 1305h0M1560 1347h0M1691 1258h0M1537 1324h0M1597 1368h0M1572 1307h0M1638 1258h0M1570 1333h0M1566 1318h0M1611 1343h0M1576 1339h0M1556 1342h0M1644 1253h0M1632 1355h0M1593 1248h0M1596 1337h0M1603 1322h0M1569 1316h0M1598 1321h0M1582 1350h0M1581 1300h0M1585 1324h0M1533 1301h0M1543 1311h0M1570 1300h0M1618 1320h0M1549 1356h0M1592 1260h0M1605 1318h0M1628 1313h0M1612 1301h0M1517 1309h0M1642 1314h0M1609 1298h0M1574 1333h0M1617 1329h0M1564 1300h0M1614 1266h0M1563 1364h0M1620 1354h0M1569 1330h0M1641 1303h0M1542 1331h0M1628 1360h0M1538 1302h0M1587 1348h0M1576 1319h0M1544 1347h0M1632 1297h0M1621 1310h0M1564 1316h0M1552 1317h0M1572 1331h0M1574 1350h0M1629 1351h0M1590 1354h0M1614 1318h0M1589 1304h0M1595 1311h0M1595 1306h0M1567 1332h0M1575 1342h0M1565 1286h0M1534 1284h0M1565 1306h0M1583 1325h0M1602 1265h0M1579 1321h0M1565 1266h0M1623 1276h0M1584 1374h0M1599 1366h0M1562 1297h0M1563 1344h0M1511 1318h0M1597 1330h0M1595 1363h0M1552 1322h0M1613 1312h0M1541 1345h0M1620 1327h0M1591 1305h0M1564 1324h0M1523 1352h0M1584 1301h0M1627 1322h0M1599 1319h0M1556 1349h0M1581 1320h0M1558 1247h0M1582 1301h0M1574 1242h0M1508 1350h0M1589 1284h0M1581 1349h0M1635 1286h0M1574 1329h0M1574 1318h0M1525 1331h0M1562 1311h0M1594 1347h0M1628 1286h0M1552 1358h0M1559 1316h0M1625 1334h0M1556 1312h0M1581 1322h0M1578 1330h0M1641 1276h0M1571 1287h0M1646 1289h0M1593 1331h0M1586 1313h0M1626 1335h0M1528 1349h0M1595 1374h0M1576 1345h0M1545 1326h0M1621 1349h0M1590 1323h0M1604 1314h0M1561 1301h0M1597 1346h0M1515 1359h0M1589 1297h0M1563 1337h0M1521 1350h0M1586 1336h0M1578 1350h0M1552 1321h0M1530 1334h0M1621 1326h0M1565 1349h0M1538 1349h0M1539 1339h0M1563 1359h0M1582 1293h0M1608 1322h0M1580 1352h0M1573 1305h0M1606 1277h0M1530 1291h0M1593 1274h0M1581 1287h0M1580 1353h0M1591 1334h0M1579 1308h0M1606 1297h0M1613 1358h0M1619 1336h0M1584 1333h0M1542 1307h0M1547 1347h0M1629 1373h0M1524 1310h0M1567 1304h0M1580 1336h0M1604 1336h0M1562 1321h0M1544 1373h0M1525 1310h0M1645 1271h0M1559 1343h0M1547 1331h0M1615 1315h0M1580 1415h0M1591 1354h0M1572 1314h0M1585 1300h0M1632 1373h0M1529 1288h0M1597 1338h0M1572 1324h0M1616 1321h0M1581 1360h0M1631 1295h0M1566 1364h0M1581 1296h0M1659 1245h0M1569 1336h0M1549 1316h0M1556 1311h0M1593 1306h0M1549 1296h0M1575 1357h0M1581 1316h0M1584 1292h0M1623 1244h0M1579 1286h0M1582 1284h0M1575 1306h0M1604 1332h0M1563 1408h0M1601 1319h0M1575 1286h0M1594 1310h0" fill="none" stroke="#33ffff" stroke-width="5.5" stroke-linecap="round"/>
</g>
<path d="M1287.1 1436.6v-4.5M1287.1 1204.4v4.5M1409.4 1436.6v-4.5M1409.4 1204.4v4.5M1531.7 1436.6v-4.5M1531.7 1204.4v4.5M1654 1436.6v-4.5M1654 1204.4v4.5M1287.1 1397.9h4.5M1715.2 1397.9h-4.5M1287.1 1320.5h4.5M1715.2 1320.5h-4.5M1287.1 1243.1h4.5M1715.2 1243.1h-4.5" stroke="#222222" stroke-width="3" fill="none"/>
<rect x="1287.1" y="1204.4" width="428.1" height="232.2" fill="none" stroke="#222222" stroke-width="3.8"/>
<g font-size="24.5" text-anchor="middle" fill="#262626"><text x="1287.1" y="1470.6">-400</text><text x="1409.4" y="1470.6">-200</text><text x="1531.7" y="1470.6">0</text><text x="1654" y="1470.6">200</text></g>
<g font-size="24.5" text-anchor="end" fill="#262626"><text x="1277.1" y="1407.9">-200</text><text x="1277.1" y="1330.5">0</text><text x="1277.1" y="1253.1">200</text></g>
<text x="1501.2" y="1507.6" font-size="27.8" text-anchor="middle" fill="#262626">PC 1</text>
<text transform="translate(1215.1 1320.5) rotate(-90)" font-size="27.8" text-anchor="middle" fill="#262626">PC 2</text>
<text x="1501.2" y="1194.9" font-size="25.2" font-weight="bold" text-anchor="middle" fill="#000" textLength="355.8" lengthAdjust="spacingAndGlyphs">Predicted Output: PCA Space</text>
<rect x="1587.5" y="1362.1" width="117" height="63" fill="#fff" stroke="#222222" stroke-width="3.5"/>
<path d="M1611.8 1380.1h0" stroke="#ff8000" stroke-width="5.6" stroke-linecap="round"/>
<text x="1636" y="1389.6" font-size="24.6" fill="#000">Unit 1</text>
<path d="M1611.8 1411.6h0" stroke="#33ffff" stroke-width="5.6" stroke-linecap="round"/>
<text x="1636" y="1421.1" font-size="24.6" fill="#000">Unit 2</text>
<path d="M242.4 1554V1787.7M328.2 1554V1787.7M414.1 1554V1787.7M499.9 1554V1787.7M156.6 1769.3H585.7M156.6 1661.1H585.7M156.6 1552.9H585.7" stroke="#dcdcdc" stroke-width="2.8" fill="none"/>
<g clip-path="url(#c15)"><g transform="translate(156.6 1661.1) scale(8.5820 -0.5410)">
<path d="M1 60 2 60 3 60 4 60 5 60 6 60 7 60 8 60 9 25 10-20 11-65 12-106 13-81 14-58 15-32 16-5 17 20 18 37 19 49 20 65 21 82 22 100 23 117 24 133 25 150 26 153 27 155 28 158 29 160 30 162 31 163 32 165 33 161 34 156 35 152 36 148 37 142 38 136 39 130 40 122 41 115 42 107 43 102 44 97 45 92 46 88 47 83 48 79 48-56 47-51 46-47 45-42 44-37 43-33 42-28 41-21 40-15 39-8 38 1 37 11 36 20 35 26 34 32 33 39 32 45 31 39 30 34 29 28 28 22 27 13 26 4 25-5 24-20 23-35 22-50 21-71 20-92 19-120 18-150 17-175 16-200 15-270 14-290 13-290 12-112 11-100 10-85 9-70 8-60 7-59 6-59 5-58 4-58 3-57 2-57 1-56Z" fill="#ff8000" stroke="#ff8000" stroke-width="1.4" stroke-linejoin="round" vector-effect="non-scaling-stroke"/>
<path d="M1 70l1-10 1-4 1 18 1-4 1-11 1 18 1-15 1-32 1-46 1-42 1-48 1 26 1 21 1 27 1 26 1 26 1 14 1 20 1 13 1 11 1 29 1-5 1 28 1 13 1 1 1-6 1 16 1-1 1-7 1 13 1 0 1 11 1 0 1 5 1 1 1-2 1-9 1 4 1-14 1-18 1-20 1-17 1 3 1-6 1-9 1-2 1-6M1 70l1-10 1 2 1-8 1 22 1-2 1 8 1 13 1-38 1-59 1-52 1-52 1 35 1 23 1 27 1 23 1 32 1 14 1 10 1 21 1 18 1 22 1 5 1 22 1 32 1-14 1-5 1 0 1-1 1 4 1 3 1-4 1 10 1-1 1-6 1-10 1-7 1-12 1-8 1-5 1-11 1 0 1 0 1 1 1-4 1 2 1-5 1-11M1 77l1-14 1 11 1 2 1 8 1 1 1-3 1-3 1-36 1-55 1-46 1-48 1 30 1 30 1 6 1 36 1 27 1 20 1 5 1 23 1 5 1 27 1 17 1 13 1 25 1 9 1-3 1 4 1 15 1 1 1 3 1 12 1-10 1-13 1-31 1-3 1-4 1-1 1-7 1-6 1-10 1-11 1-15 1-4 1 6 1-18 1 7 1-5M1 73l1 4 1 7 1 14 1-2 1 2 1-11 1 9 1-44 1-65 1-38 1-55 1 31 1 22 1 24 1 32 1 12 1 23 1 22 1 10 1 19 1 11 1 26 1 19 1 16 1 2 1 3 1 1 1-3 1 2 1 1 1-4 1-1 1 1 1-5 1-1 1 0 1 15 1-12 1-11 1-6 1-16 1-16 1-27 1-5 1-8 1-3 1 6M1 56l1 11 1-3 1 5 1-2 1 7 1-6 1-7 1-34 1-42 1-47 1-44 1 29 1 19 1 25 1 30 1 18 1 27 1 12 1 17 1 19 1 2 1 13 1 12 1 31 1-9 1 11 1 16 1-10 1 11 1 13 1 9 1 1 1-15 1 2 1-16 1-4 1-7 1-6 1 0 1-11 1-21 1 3 1-3 1-14 1-3 1 3 1-12M1 86l1-7 1 5 1 0 1 4 1-1 1-9 1 3 1-40 1-57 1-51 1-39 1 26 1 14 1 38 1 35 1 17 1 18 1 2 1 26 1 13 1 13 1 11 1 23 1 17 1 6 1-3 1 14 1-2 1 5 1-16 1 8 1-3 1 2 1-4 1-10 1-5 1-14 1 11 1-12 1-8 1-8 1-7 1-2 1-7 1-2 1-10 1 5M1 63l1 4 1 2 1 5 1 3 1-13 1-3 1 2 1-30 1-49 1-49 1-41 1 29 1 20 1 15 1 46 1 23 1 16 1 11 1 9 1 25 1 18 1 20 1 11 1 19 1 17 1-9 1-12 1-1 1-3 1-2 1-10 1 0 1-7 1-1 1-1 1 9 1-11 1-3 1-7 1-13 1-1 1 0 1 11 1-15 1-3 1-15 1-12M1 51l1 8 1-2 1 4 1 0 1-2 1 3 1-2 1-24 1-44 1-53 1-45 1 38 1 12 1 34 1 19 1 29 1 13 1 17 1 13 1 19 1 18 1 10 1 33 1 4 1 10 1 6 1 0 1-7 1-4 1-4 1-15 1 8 1-2 1-6 1 4 1-14 1 4 1 1 1-1 1-11 1-16 1 7 1 1 1-20 1-4 1 11 1-12M1 29l1 7 1-1 1-2 1 7 1-2 1 11 1 6 1-26 1-46 1-46 1-43 1 19 1 37 1 16 1 20 1 26 1 28 1 7 1 16 1 18 1 22 1 30 1 0 1 21 1-14 1 16 1-2 1 5 1-2 1 7 1 13 1-5 1-3 1-9 1-6 1-8 1-10 1-4 1-18 1 2 1-16 1-5 1-11 1-17 1 11 1 1 1-11M1 76l1 9 1-13 1 1 1-7 1 5 1-4 1 10 1-38 1-62 1-43 1-40 1 29 1 15 1 34 1 33 1 22 1 9 1 20 1 17 1 6 1 10 1 26 1 14 1 10 1 2 1 12 1 1 1 5 1-2 1 0 1 12 1 13 1 1 1-5 1-3 1 4 1-9 1-17 1-26 1-30 1-7 1-26 1 12 1-3 1-7 1-11 1 1M1 68l1-1 1 3 1 1 1 11 1-14 1 3 1-4 1-22 1-46 1-53 1-52 1 22 1 35 1 20 1 34 1 20 1 22 1-1 1 22 1 25 1 21 1 7 1 9 1 30 1-12 1 12 1 7 1-12 1-5 1 3 1 4 1-19 1 6 1-8 1-1 1-4 1-5 1-17 1-5 1-15 1-4 1-2 1 9 1-12 1-4 1-6 1-11M1 38l1-9 1-6 1 13 1 7 1 2 1 16 1 16 1-38 1-52 1-46 1-47 1 22 1 22 1 27 1 32 1 19 1 13 1 18 1 16 1 31 1 9 1 17 1 20 1 14 1 12 1 6 1 5 1-3 1 19 1-7 1-1 1-3 1-14 1-8 1-20 1-18 1-2 1 7 1 2 1 5 1-19 1-7 1-18 1-2 1-3 1-4 1-11M1 95l1 0 1-3 1-24 1 7 1-8 1-1 1-6 1-26 1-37 1-55 1-48 1 30 1 29 1 15 1 14 1 41 1 12 1 8 1 20 1 16 1 22 1 18 1 11 1 21 1 18 1-5 1 13 1-5 1-3 1 9 1 0 1-15 1 13 1-8 1 1 1-13 1 16 1-12 1-11 1-2 1-13 1-15 1-16 1-9 1-5 1-2 1-10M1 61l1 4 1 2 1-4 1-9 1-2 1-4 1 7 1-42 1-32 1-43 1-44 1 29 1 19 1 22 1 41 1 20 1 8 1 19 1 12 1 9 1 25 1 14 1 12 1 14 1 1 1 2 1 0 1 4 1 3 1 12 1 14 1-2 1-3 1-6 1-8 1-20 1-12 1-19 1 4 1-15 1-8 1 6 1 8 1 10 1-5 1-14 1 0M1 31l1-4 1-9 1 8 1 28 1-3 1-4 1 3 1-32 1-34 1-46 1-44 1 37 1 24 1 14 1 16 1 27 1 25 1 15 1 2 1 19 1 19 1 22 1 14 1 17 1 1 1 15 1 1 1-6 1-2 1 21 1-17 1 12 1-4 1 1 1 1 1 1 1-15 1-13 1 0 1-24 1 1 1-9 1-15 1-8 1-5 1 2 1-5M1 69l1 10 1 2 1-4 1 0 1-5 1 1 1 13 1-28 1-53 1-56 1-55 1 30 1 23 1 14 1 32 1 22 1 21 1 7 1 12 1 33 1 14 1 27 1 19 1 17 1 1 1-9 1-2 1 6 1-7 1 17 1-3 1-8 1-12 1-13 1 5 1-16 1-17 1-7 1 3 1-10 1-7 1 3 1-2 1-7 1 13 1-5 1-8M1 37l1 10 1-6 1 10 1 7 1-2 1 12 1-5 1-42 1-40 1-49 1-38 1 26 1 15 1 34 1 22 1 32 1 15 1 17 1 7 1 12 1 21 1 14 1 9 1 23 1 13 1-10 1 13 1-3 1 7 1-4 1-5 1-13 1 1 1 5 1 14 1-5 1-24 1-4 1-20 1-4 1 1 1-10 1-14 1-22 1 0 1-5 1 13M1 60l1 10 1 2 1 4 1 3 1 16 1-6 1 2 1-42 1-61 1-46 1-48 1 26 1 17 1 22 1 43 1 25 1 14 1 5 1 19 1 25 1 7 1 36 1-8 1 16 1 8 1-1 1 0 1 4 1 6 1 2 1 2 1-2 1-1 1-2 1 3 1-3 1-1 1-11 1-12 1-13 1-10 1-14 1 0 1 3 1-4 1-5 1-4M1 96l1-3 1 5 1-12 1-8 1-17 1-6 1 0 1-40 1-38 1-48 1-35 1 21 1 29 1 12 1 40 1 27 1 19 1 9 1 19 1 17 1 16 1 22 1 8 1 24 1 8 1 2 1 1 1 2 1 6 1 6 1-2 1 5 1 7 1-9 1-11 1-4 1-9 1-15 1-19 1-15 1-9 1-5 1 9 1-2 1-9 1-5 1-5M1 79l1-6 1-23 1-7 1-5 1 3 1 7 1 2 1-10 1-46 1-50 1-50 1 32 1 16 1 32 1 37 1 21 1 12 1 4 1 13 1 30 1 25 1 13 1 22 1 19 1 7 1 5 1-1 1-1 1 2 1-3 1 17 1-18 1-8 1-18 1-5 1 0 1-7 1-10 1-7 1-12 1-8 1 2 1 7 1 5 1 0 1-7 1 0M1 38l1-2 1-4 1 9 1 19 1-5 1 14 1 6 1-29 1-48 1-59 1-45 1 25 1 20 1 29 1 23 1 24 1 14 1 11 1 19 1 20 1 22 1 17 1 19 1 31 1-12 1 11 1 16 1-3 1 3 1 0 1 13 1-18 1-9 1-18 1 1 1-6 1-18 1 3 1-7 1-8 1-14 1 3 1 9 1-3 1-11 1 2 1-22M1 52l1 14 1 14 1-7 1 7 1 2 1-6 1-5 1-33 1-55 1-44 1-45 1 27 1 21 1 30 1 35 1 27 1 18 1-8 1 16 1 27 1 17 1 12 1 24 1 14 1-6 1 10 1 0 1 1 1 6 1-5 1 17 1-7 1 2 1-9 1-1 1-8 1-6 1 1 1-18 1-7 1-15 1-16 1 9 1 2 1-7 1 1 1 7M1 46l1-6 1-14 1-1 1 1 1 0 1 9 1-9 1-39 1-33 1-34 1-26 1 29 1 18 1 32 1 18 1 34 1 11 1 10 1 12 1 17 1 24 1 10 1 23 1 14 1 2 1 4 1-7 1 11 1-1 1-12 1 2 1-4 1-7 1 8 1 5 1-3 1-9 1 2 1-9 1-13 1-2 1 1 1-14 1-12 1 0 1-6 1-6M1 97l1 1 1-13 1 1 1-8 1-2 1-3 1 3 1-38 1-51 1-47 1-46 1 25 1 24 1 30 1 30 1 26 1 7 1 17 1 17 1 12 1 24 1 22 1 9 1 20 1 14 1-5 1 2 1 0 1-4 1 3 1-1 1-13 1 4 1-8 1 1 1-11 1-13 1 3 1-11 1-1 1 4 1 5 1-1 1-3 1-8 1-5 1 7M1-39l1-21 1-5 1-4 1 3 1 0 1 3 1-12 1-7 1-18 1-11 1-1 1-182 1 11 1 3 1 77 1 23 1 29 1 31 1 24 1 13 1 19 1 14 1 14 1 5 1 5 1 14 1 9 1 17 1 8 1 1 1 2 1-4 1-8 1-11 1-2 1-15 1-5 1 3 1-18 1-1 1-8 1-21 1 0 1-9 1-5 1-7 1 1M1-77l1 0 1-14 1 4 1-2 1 2 1 5 1 16 1 13 1-19 1-29 1-11 1-177 1 1 1 16 1 68 1 19 1 31 1 33 1 25 1 42 1 21 1 7 1 23 1 16 1 5 1 12 1 16 1-3 1 9 1 6 1 7 1-3 1-2 1-9 1-12 1-5 1-23 1-23 1-5 1-7 1-13 1 4 1-2 1-5 1 4 1-8 1 2M1-71l1 8 1 1 1 1 1-11 1-5 1 11 1-12 1-5 1-7 1-18 1-4 1-173 1 4 1 15 1 75 1 16 1 31 1 37 1 27 1 23 1 18 1 25 1 9 1 17 1 15 1 3 1 18 1-9 1 6 1 10 1-8 1 0 1 4 1 1 1-9 1-15 1-24 1-13 1-10 1-5 1-9 1-5 1-4 1 3 1-7 1-13 1-6M1-96l1 15 1-7 1 6 1 7 1 0 1 10 1 8 1 0 1-18 1-10 1-27 1-185 1 3 1 31 1 62 1 30 1 24 1 39 1 30 1 20 1 18 1 17 1 18 1 15 1 0 1 11 1-1 1 9 1 6 1 8 1 0 1 5 1-17 1 1 1-11 1-14 1-11 1-16 1-22 1-10 1-9 1-2 1-14 1 5 1 24 1-2 1 1M1-108l1 0 1-5 1 14 1 17 1 10 1 4 1-1 1 2 1-25 1-20 1 0 1-178 1-4 1 26 1 76 1 3 1 39 1 22 1 19 1 23 1 12 1 22 1 31 1 2 1 5 1 21 1 15 1 8 1-6 1 11 1 9 1-4 1-16 1-1 1-4 1-15 1-4 1-2 1-15 1-1 1-16 1-4 1-6 1-4 1 1 1-5 1-8M1-37l1 9 1-9 1-8 1-9 1-9 1-18 1 2 1-18 1-5 1-1 1-9 1-181 1 6 1 19 1 67 1 17 1 44 1 19 1 30 1 20 1 6 1 20 1 9 1 5 1 11 1 18 1-8 1 5 1 13 1 12 1 11 1 6 1-5 1 4 1-8 1-9 1-8 1-19 1-6 1 3 1-12 1-10 1-20 1 4 1-5 1-9 1 5M1-79l1-1 1-5 1-9 1 1 1-6 1 2 1-4 1 5 1-10 1 0 1-6 1-185 1 5 1 25 1 59 1 30 1 39 1 35 1 22 1 27 1 11 1 27 1 5 1 19 1 3 1 5 1-2 1 6 1 18 1-6 1 10 1-4 1 0 1 2 1-14 1-8 1-4 1-10 1-12 1-6 1-8 1-9 1-2 1-3 1-9 1-7 1-8M1-71l1 14 1 10 1 6 1 3 1-8 1 0 1-13 1-32 1-23 1 1 1 1 1-174 1-7 1 27 1 66 1 37 1 15 1 28 1 30 1 15 1 8 1 23 1 20 1-6 1 18 1-6 1 9 1-1 1 19 1 6 1 4 1 5 1-24 1-5 1-1 1-22 1 0 1-7 1 11 1-3 1-10 1-12 1-13 1 0 1 4 1-11 1 6M1-65l1-6 1-28 1 2 1-13 1 7 1 11 1-1 1-15 1 1 1-1 1-4 1-176 1-3 1 16 1 71 1 14 1 26 1 22 1 30 1 21 1 13 1 22 1 25 1 14 1 2 1 14 1 0 1 12 1 1 1 12 1 1 1 5 1-3 1-1 1-11 1-8 1 2 1-13 1-5 1-5 1-22 1 0 1-9 1-3 1 0 1-5 1-4M1-89l1 16 1 9 1 4 1 24 1 2 1 10 1-2 1-16 1-17 1-38 1-15 1-174 1 2 1 23 1 66 1 27 1 30 1 29 1 29 1 15 1 9 1 20 1 16 1 6 1 14 1 25 1 11 1 7 1 4 1 4 1 7 1-18 1-5 1 2 1-14 1-16 1 5 1 1 1-7 1-1 1-21 1-8 1-12 1 1 1-13 1-5 1-2M1-51l1 6 1-8 1-7 1-4 1 4 1-15 1-1 1 9 1-17 1-15 1-13 1-186 1 13 1 16 1 66 1 38 1 24 1 38 1 17 1 24 1 40 1 1 1 22 1 20 1 8 1 2 1-4 1 10 1 7 1 12 1 6 1-15 1-10 1 1 1-26 1-5 1-10 1-16 1 2 1-5 1 10 1-14 1 6 1-7 1 3 1-9 1-4M1-42l1 7 1-18 1-1 1-9 1-4 1-1 1-12 1 2 1-13 1-4 1-17 1-182 1 8 1 9 1 71 1 30 1 17 1 45 1 23 1 15 1 13 1 21 1 5 1 25 1-3 1 19 1 16 1 12 1 17 1 5 1 14 1-26 1-8 1-14 1-14 1-6 1 0 1-19 1-11 1-17 1 10 1-7 1-4 1-1 1 1 1 0 1-1M1-59l1 2 1-3 1 18 1-13 1 12 1-10 1-14 1-10 1-22 1-7 1-6 1-176 1-8 1 18 1 76 1 33 1 21 1 44 1 19 1 28 1 18 1 18 1 4 1 18 1 7 1-8 1 5 1-6 1 10 1 7 1 25 1-11 1 4 1-8 1-5 1 0 1-19 1-9 1-1 1-14 1-16 1-10 1-10 1 5 1-10 1-4 1 0M1-4l1-6 1-3 1-6 1-8 1-23 1-2 1-16 1-3 1-7 1-23 1-11 1-171 1-2 1 19 1 57 1 31 1 19 1 40 1 27 1 26 1 26 1 21 1 17 1 1 1 11 1 3 1 5 1 10 1-2 1-8 1 20 1-2 1 11 1-11 1 3 1 9 1-20 1-20 1-5 1-15 1-9 1-11 1 10 1-12 1-7 1-8 1 0M1-61l1 32 1-8 1 13 1 4 1 0 1-10 1-10 1-8 1-23 1-33 1-8 1-175 1-7 1 24 1 67 1 15 1 26 1 26 1 26 1 27 1 27 1 25 1 1 1 24 1 12 1 12 1 11 1-12 1 11 1-10 1 20 1-15 1-11 1-10 1-6 1-9 1-14 1-17 1-4 1 4 1 0 1-6 1-5 1-5 1 2 1-9 1-19M1-67l1-6 1-20 1-15 1-7 1 9 1 5 1 8 1 6 1 9 1-13 1-21 1-184 1 11 1 14 1 80 1 21 1 15 1 25 1 15 1 24 1 13 1 29 1 5 1 16 1 6 1 15 1 15 1 0 1 1 1 9 1 16 1-13 1 3 1 1 1 4 1-10 1-3 1-4 1 1 1-3 1-18 1-11 1-15 1-14 1-21 1-10 1-5M1-93l1-10 1-7 1 5 1-3 1 3 1 18 1 13 1-11 1-3 1-8 1-16 1-174 1-1 1 11 1 72 1 29 1 27 1 41 1 17 1 33 1 9 1 10 1 16 1 9 1 8 1 8 1 1 1 13 1 17 1 3 1 24 1-15 1-12 1 4 1-26 1-4 1-10 1-8 1-12 1-11 1 6 1-9 1-14 1 2 1-10 1 4 1-2M1-59l1-2 1-10 1 3 1-10 1-2 1-16 1-4 1-5 1-1 1 3 1-9 1-172 1-9 1 14 1 71 1 36 1 18 1 16 1 29 1 19 1 32 1 4 1 15 1 23 1 8 1 23 1 13 1 7 1-3 1 13 1 3 1-11 1-1 1-7 1-13 1-23 1-27 1-15 1 2 1-7 1 8 1-5 1 9 1 8 1-4 1-6 1 5M1-96l1-3 1-6 1 19 1-1 1 13 1-4 1-5 1-24 1-7 1-4 1 6 1-178 1-4 1 22 1 73 1 14 1 34 1 36 1 28 1 17 1 28 1-2 1 14 1 14 1 9 1 7 1 5 1 6 1 9 1 0 1 6 1-8 1-10 1-7 1-3 1-22 1-4 1-10 1 8 1-7 1 2 1 0 1-1 1-1 1-23 1 0 1-27M1-80l1 24 1-1 1 11 1 1 1-6 1 14 1-12 1 1 1-29 1-21 1-14 1-180 1 15 1 16 1 74 1 20 1 19 1 26 1 32 1 13 1 29 1 21 1 30 1 6 1 10 1-1 1-1 1 2 1 3 1 6 1 5 1-19 1 0 1 1 1-6 1-17 1-6 1-9 1-16 1-7 1-8 1-12 1-3 1-8 1-7 1 7 1 2M1-81l1-7 1 3 1 11 1 22 1 2 1-6 1 2 1-11 1-22 1-17 1-8 1-181 1 6 1 15 1 71 1 13 1 25 1 26 1 31 1 28 1 15 1 22 1 10 1 29 1 7 1 11 1 5 1 3 1-1 1-8 1 9 1-5 1 2 1-13 1 3 1-7 1-13 1-18 1-14 1 0 1-16 1-8 1 0 1-8 1 1 1-3 1-3M1-97l1 2 1-2 1 8 1 13 1 17 1 22 1 10 1-15 1-40 1-17 1-13 1-173 1-8 1 22 1 69 1 4 1 33 1 36 1 29 1 9 1 28 1 27 1 13 1 22 1 11 1 13 1 3 1 2 1 3 1 5 1 17 1-16 1-12 1-8 1 4 1-23 1 1 1-23 1-3 1-16 1-17 1-4 1 6 1-4 1 7 1 1 1 7M1-36l1-8 1 6 1 8 1-2 1 1 1-4 1-5 1-35 1-7 1-25 1-5 1-174 1-8 1 31 1 66 1 26 1 17 1 27 1 34 1 20 1 31 1 31 1 11 1 12 1 6 1 10 1-7 1-5 1 12 1 4 1 1 1-12 1-13 1 3 1 11 1-13 1 3 1-12 1 1 1-3 1-2 1-9 1-9 1-4 1-12 1 5 1-14M1-91l1-4 1 7 1 0 1-4 1 5 1-5 1 25 1 1 1-22 1-13 1-11 1-182 1 8 1 2 1 79 1 18 1 24 1 38 1 29 1 11 1 21 1 23 1 6 1 19 1 4 1 16 1 12 1-2 1 16 1 3 1 3 1-6 1-6 1-20 1 11 1-10 1 2 1-2 1-15 1-6 1-4 1-8 1 7 1-4 1-6 1-10 1 2" fill="none" stroke="#ff8000" stroke-width="1.1" stroke-linejoin="round" vector-effect="non-scaling-stroke"/>
</g></g>
<path d="M156.6 1787.7v-4.5M156.6 1554v4.5M242.4 1787.7v-4.5M242.4 1554v4.5M328.2 1787.7v-4.5M328.2 1554v4.5M414.1 1787.7v-4.5M414.1 1554v4.5M499.9 1787.7v-4.5M499.9 1554v4.5M585.7 1787.7v-4.5M585.7 1554v4.5M156.6 1769.3h4.5M585.7 1769.3h-4.5M156.6 1661.1h4.5M585.7 1661.1h-4.5M156.6 1552.9h4.5M585.7 1552.9h-4.5" stroke="#222222" stroke-width="3" fill="none"/>
<rect x="156.6" y="1554" width="429.1" height="233.7" fill="none" stroke="#222222" stroke-width="3.8"/>
<g font-size="24.5" text-anchor="middle" fill="#262626"><text x="156.6" y="1821.7">0</text><text x="242.4" y="1821.7">10</text><text x="328.2" y="1821.7">20</text><text x="414.1" y="1821.7">30</text><text x="499.9" y="1821.7">40</text><text x="585.7" y="1821.7">50</text></g>
<g font-size="24.5" text-anchor="end" fill="#262626"><text x="146.6" y="1779.3">-200</text><text x="146.6" y="1671.1">0</text><text x="146.6" y="1562.9">200</text></g>
<text x="371.2" y="1858.7" font-size="27.8" text-anchor="middle" fill="#262626">Time(Samples)</text>
<text transform="translate(87.6 1670.8) rotate(-90)" font-size="27.8" text-anchor="middle" fill="#262626">Micro-volts</text>
<text x="371.2" y="1544.5" font-size="25.2" font-weight="bold" text-anchor="middle" fill="#000" textLength="307.3" lengthAdjust="spacingAndGlyphs">Ground truth: Waveforms</text>
<path d="M806.9 1554V1787.7M892.6 1554V1787.7M978.3 1554V1787.7M1064 1554V1787.7M721.2 1710.3H1149.7M721.2 1632.9H1149.7M721.2 1555.5H1149.7" stroke="#dcdcdc" stroke-width="2.8" fill="none"/>
<g clip-path="url(#c16)">
<path d="M729.8 1632.9 L738.3 1632.9 L746.9 1632.9 L755.5 1632.9 L764.1 1632.9 L772.6 1633 L781.2 1633.4 L789.8 1636.4 L798.3 1647.5 L806.9 1666 L815.5 1696.3 L824 1729.9 L832.6 1752.4 L841.2 1753.4 L849.8 1737.2 L858.3 1717 L866.9 1695.6 L875.5 1677.2 L884 1660.2 L892.6 1644.5 L901.2 1630.4 L909.7 1617.8 L918.3 1606.3 L926.9 1595.6 L935.5 1586.7 L944 1579.7 L952.6 1573.7 L961.2 1568.4 L969.7 1564.1 L978.3 1559.8 L986.9 1556.1 L995.4 1554.1 L1004 1554.9 L1012.6 1557.6 L1021.2 1561 L1029.7 1565.2 L1038.3 1570.5 L1046.9 1576.5 L1055.4 1582.3 L1064 1587.6 L1072.6 1592.1 L1081.1 1596.2 L1089.7 1600.3 L1098.3 1604.5 L1106.9 1609.1 L1115.4 1614 L1124 1619.2 L1132.6 1624.5" fill="none" stroke="#fcc9a0" stroke-width="1.6" stroke-linejoin="round"/>
</g>
<path d="M721.2 1787.7v-4.5M721.2 1554v4.5M806.9 1787.7v-4.5M806.9 1554v4.5M892.6 1787.7v-4.5M892.6 1554v4.5M978.3 1787.7v-4.5M978.3 1554v4.5M1064 1787.7v-4.5M1064 1554v4.5M1149.7 1787.7v-4.5M1149.7 1554v4.5M721.2 1787.7h4.5M1149.7 1787.7h-4.5M721.2 1710.3h4.5M1149.7 1710.3h-4.5M721.2 1632.9h4.5M1149.7 1632.9h-4.5M721.2 1555.5h4.5M1149.7 1555.5h-4.5" stroke="#222222" stroke-width="3" fill="none"/>
<rect x="721.2" y="1554" width="428.5" height="233.7" fill="none" stroke="#222222" stroke-width="3.8"/>
<g font-size="24.5" text-anchor="middle" fill="#262626"><text x="721.2" y="1821.7">0</text><text x="806.9" y="1821.7">10</text><text x="892.6" y="1821.7">20</text><text x="978.3" y="1821.7">30</text><text x="1064" y="1821.7">40</text><text x="1149.7" y="1821.7">50</text></g>
<g font-size="24.5" text-anchor="end" fill="#262626"><text x="711.2" y="1797.7">-200</text><text x="711.2" y="1720.3">-100</text><text x="711.2" y="1642.9">0</text><text x="711.2" y="1565.5">100</text></g>
<text x="935.5" y="1858.7" font-size="27.8" text-anchor="middle" fill="#262626">Time(Samples)</text>
<text transform="translate(652.2 1670.8) rotate(-90)" font-size="27.8" text-anchor="middle" fill="#262626">Micro-volts</text>
<text x="935.5" y="1544.5" font-size="25.2" font-weight="bold" text-anchor="middle" fill="#000" textLength="375.9" lengthAdjust="spacingAndGlyphs">Ground truth: Mean-waveforms</text>
<path d="M1409.4 1554V1787.7M1531.7 1554V1787.7M1654 1554V1787.7M1287.1 1748.8H1715.2M1287.1 1670.8H1715.2M1287.1 1593H1715.2" stroke="#dcdcdc" stroke-width="2.8" fill="none"/>
<g clip-path="url(#c17)">
<path d="M1394 1709h0M1461 1661h0M1457 1675h0M1476 1651h0M1490 1698h0M1449 1675h0M1455 1695h0M1471 1703h0M1474 1645h0M1372 1678h0M1366 1674h0M1379 1690h0M1430 1723h0M1370 1675h0M1422 1643h0M1438 1588h0M1447 1616h0M1453 1665h0M1461 1688h0M1416 1627h0M1433 1707h0M1460 1690h0M1443 1635h0M1490 1602h0M1485 1638h0M1462 1655h0M1439 1601h0M1438 1620h0M1437 1634h0M1333 1695h0M1418 1628h0M1499 1672h0M1439 1642h0M1453 1663h0M1479 1698h0M1504 1638h0M1333 1726h0M1440 1600h0M1442 1713h0M1495 1641h0M1443 1636h0M1429 1675h0M1482 1643h0M1481 1668h0M1508 1692h0M1392 1666h0M1432 1663h0M1446 1670h0M1404 1668h0M1494 1678h0M1516 1599h0M1413 1650h0M1403 1681h0M1403 1693h0M1374 1690h0M1405 1704h0M1370 1685h0M1517 1657h0M1439 1702h0M1427 1697h0M1385 1709h0M1425 1662h0M1432 1661h0M1494 1625h0M1428 1724h0M1437 1666h0M1482 1652h0M1469 1687h0M1406 1686h0M1452 1644h0M1324 1666h0M1501 1610h0M1476 1662h0M1465 1622h0M1407 1657h0M1463 1666h0M1511 1669h0M1406 1679h0M1419 1634h0M1380 1725h0M1455 1642h0M1398 1641h0M1370 1657h0M1409 1691h0M1511 1651h0M1418 1668h0M1514 1646h0M1413 1670h0M1395 1702h0M1421 1655h0M1424 1659h0M1486 1609h0M1378 1688h0M1399 1661h0M1452 1666h0M1422 1703h0M1378 1657h0M1434 1670h0M1454 1641h0M1513 1654h0M1467 1711h0M1427 1694h0M1418 1641h0M1446 1666h0M1445 1675h0M1434 1690h0M1422 1687h0M1435 1727h0M1444 1669h0M1458 1698h0M1407 1655h0M1415 1662h0M1416 1712h0M1387 1702h0M1424 1711h0M1495 1653h0M1408 1634h0M1473 1683h0M1403 1685h0M1469 1703h0M1485 1668h0M1473 1664h0M1460 1645h0M1490 1676h0M1513 1687h0M1454 1645h0M1443 1642h0M1381 1687h0M1480 1658h0M1401 1675h0M1449 1696h0M1492 1671h0M1404 1676h0M1418 1681h0M1451 1678h0M1465 1653h0M1488 1685h0M1445 1660h0M1453 1728h0M1403 1670h0M1464 1661h0M1449 1630h0M1429 1694h0M1498 1634h0M1436 1691h0M1503 1660h0M1412 1639h0M1388 1688h0M1466 1670h0M1423 1660h0M1397 1687h0M1470 1693h0M1494 1660h0M1440 1683h0M1464 1676h0M1451 1628h0M1489 1700h0M1493 1669h0M1454 1662h0M1453 1683h0M1464 1632h0M1421 1675h0M1473 1628h0M1455 1657h0M1461 1673h0M1455 1673h0M1430 1741h0M1376 1676h0M1470 1647h0M1446 1676h0M1463 1674h0M1442 1624h0M1391 1701h0M1433 1728h0M1398 1649h0M1461 1667h0M1491 1684h0M1513 1651h0M1420 1643h0M1461 1657h0M1437 1724h0M1364 1690h0M1478 1683h0M1445 1715h0M1386 1686h0M1468 1640h0M1486 1680h0M1435 1648h0M1403 1689h0M1441 1670h0M1474 1648h0M1425 1743h0M1471 1632h0M1460 1654h0M1458 1629h0M1422 1677h0M1404 1686h0M1410 1703h0M1367 1693h0M1479 1749h0M1488 1658h0M1415 1668h0M1431 1675h0M1494 1650h0M1454 1674h0M1434 1699h0M1436 1695h0M1483 1665h0M1468 1624h0M1478 1680h0M1503 1709h0M1494 1731h0M1407 1682h0M1414 1741h0M1384 1679h0M1376 1670h0M1483 1619h0M1450 1669h0M1425 1593h0M1485 1639h0M1453 1635h0M1369 1665h0M1419 1745h0M1481 1682h0M1456 1688h0M1425 1627h0M1453 1656h0M1381 1660h0M1416 1663h0M1402 1670h0M1461 1708h0M1452 1694h0M1487 1647h0M1442 1580h0M1471 1673h0M1473 1653h0M1491 1686h0M1514 1665h0M1426 1696h0M1429 1617h0M1447 1700h0M1435 1665h0M1476 1670h0M1448 1581h0M1435 1668h0M1396 1654h0M1423 1620h0M1486 1634h0M1422 1686h0M1426 1672h0M1427 1690h0M1444 1670h0M1426 1647h0M1480 1676h0M1521 1637h0M1487 1602h0M1387 1670h0M1475 1625h0M1470 1632h0M1384 1714h0M1462 1725h0M1420 1681h0M1455 1639h0M1450 1692h0M1405 1668h0M1463 1653h0M1446 1665h0M1388 1685h0M1469 1696h0M1457 1645h0M1528 1648h0M1431 1709h0M1400 1730h0M1374 1668h0M1440 1661h0M1381 1747h0M1374 1640h0M1483 1698h0M1444 1664h0M1404 1700h0M1476 1639h0M1475 1651h0M1445 1654h0M1435 1621h0M1450 1651h0M1438 1690h0M1439 1680h0M1411 1654h0M1516 1640h0M1437 1692h0M1386 1666h0M1463 1687h0M1445 1694h0M1495 1651h0M1458 1614h0M1358 1680h0M1452 1675h0M1443 1632h0M1417 1695h0M1507 1620h0M1460 1639h0M1446 1676h0M1437 1660h0M1425 1720h0M1436 1661h0M1438 1650h0M1454 1636h0M1447 1672h0M1464 1636h0M1426 1698h0M1493 1670h0M1457 1678h0M1451 1624h0M1506 1689h0M1389 1782h0M1465 1616h0M1452 1674h0M1473 1687h0M1467 1621h0M1489 1634h0M1424 1683h0M1409 1622h0M1489 1657h0M1440 1662h0M1418 1660h0M1461 1650h0M1444 1742h0M1435 1712h0M1380 1619h0M1424 1679h0M1431 1697h0M1502 1707h0M1460 1681h0M1489 1631h0M1445 1712h0M1471 1632h0M1466 1671h0M1465 1685h0M1451 1656h0M1433 1701h0M1433 1697h0M1397 1650h0M1436 1686h0M1422 1662h0M1429 1694h0M1452 1662h0M1408 1711h0M1490 1664h0M1486 1639h0M1439 1677h0M1502 1672h0M1427 1698h0M1435 1699h0M1446 1706h0M1461 1654h0M1449 1685h0M1489 1597h0M1436 1694h0M1465 1669h0M1446 1649h0M1390 1662h0M1402 1718h0M1427 1630h0M1417 1662h0M1406 1661h0M1453 1632h0M1448 1668h0M1371 1680h0M1471 1656h0M1448 1651h0M1473 1687h0M1438 1658h0M1450 1696h0M1367 1681h0M1468 1613h0M1457 1691h0M1457 1669h0M1415 1720h0M1373 1710h0M1425 1672h0M1441 1663h0M1512 1652h0M1492 1679h0M1414 1693h0M1374 1639h0M1450 1646h0M1505 1639h0M1502 1723h0M1488 1648h0M1420 1644h0M1442 1691h0M1368 1637h0M1343 1695h0M1500 1634h0M1417 1685h0M1418 1669h0M1438 1710h0M1385 1652h0M1393 1718h0M1528 1671h0M1391 1713h0M1469 1685h0M1435 1741h0M1417 1676h0M1442 1626h0M1459 1752h0M1378 1715h0M1428 1673h0M1463 1715h0M1355 1671h0M1401 1753h0M1403 1695h0M1393 1720h0M1477 1695h0M1450 1662h0M1425 1605h0M1388 1609h0M1403 1690h0M1450 1635h0M1465 1675h0M1426 1640h0M1497 1672h0M1486 1642h0M1449 1702h0M1391 1672h0M1334 1716h0M1455 1717h0M1501 1604h0M1399 1686h0M1435 1689h0M1421 1662h0M1503 1651h0M1444 1666h0M1413 1660h0M1421 1706h0M1464 1721h0M1421 1688h0M1435 1719h0M1404 1685h0M1463 1668h0M1432 1698h0M1441 1755h0M1464 1635h0M1439 1700h0M1490 1677h0M1491 1665h0M1411 1685h0M1414 1683h0M1459 1674h0M1423 1676h0M1455 1667h0M1460 1648h0M1451 1646h0M1440 1637h0M1455 1642h0M1433 1715h0M1423 1674h0M1454 1668h0M1495 1694h0M1374 1695h0M1415 1677h0M1465 1583h0M1391 1716h0M1438 1715h0M1412 1641h0M1438 1672h0M1481 1710h0M1445 1671h0M1450 1698h0M1424 1678h0M1467 1685h0M1463 1727h0M1456 1643h0M1406 1689h0M1440 1662h0M1485 1653h0M1432 1679h0M1450 1645h0M1450 1684h0M1428 1698h0M1408 1694h0M1419 1654h0M1396 1681h0M1397 1660h0M1451 1631h0M1460 1695h0M1441 1689h0M1421 1706h0M1429 1671h0M1448 1596h0M1434 1670h0M1437 1679h0M1429 1672h0M1433 1651h0M1456 1692h0M1440 1662h0M1430 1680h0M1437 1654h0M1447 1685h0M1438 1635h0M1405 1661h0M1431 1566h0M1463 1663h0M1436 1716h0M1421 1618h0M1453 1675h0M1440 1669h0M1406 1677h0M1459 1708h0M1431 1752h0M1379 1664h0M1485 1605h0M1393 1686h0M1428 1643h0M1452 1665h0M1462 1678h0M1475 1671h0M1480 1654h0M1449 1701h0M1384 1731h0M1458 1727h0M1490 1666h0M1392 1674h0M1395 1682h0M1431 1639h0M1473 1635h0M1424 1639h0M1438 1668h0M1456 1658h0M1392 1666h0M1383 1673h0M1438 1669h0M1401 1653h0M1435 1648h0M1414 1699h0M1443 1641h0M1393 1701h0M1422 1683h0M1424 1644h0M1466 1663h0M1471 1633h0M1418 1698h0M1465 1603h0M1355 1712h0M1468 1686h0M1471 1656h0M1395 1697h0M1454 1693h0M1461 1656h0M1429 1663h0M1427 1668h0M1404 1640h0M1431 1640h0M1518 1604h0M1440 1666h0M1439 1662h0M1410 1731h0M1452 1666h0M1496 1603h0M1391 1711h0M1468 1629h0M1445 1668h0M1373 1623h0M1415 1661h0M1453 1693h0M1471 1620h0M1438 1667h0M1464 1636h0M1472 1687h0M1406 1696h0M1343 1736h0M1433 1692h0M1410 1654h0M1452 1644h0M1434 1684h0M1409 1672h0M1375 1714h0M1461 1640h0M1438 1704h0M1461 1686h0M1436 1700h0M1506 1609h0M1410 1713h0M1438 1653h0M1485 1660h0M1395 1675h0M1450 1714h0M1431 1682h0M1405 1674h0M1478 1631h0M1408 1697h0M1465 1673h0M1427 1611h0M1347 1715h0M1410 1681h0M1502 1658h0M1430 1669h0M1429 1663h0M1532 1665h0M1433 1675h0M1364 1675h0M1438 1728h0M1430 1669h0M1408 1649h0M1418 1720h0M1469 1667h0M1445 1716h0M1390 1714h0M1434 1676h0M1490 1613h0M1445 1672h0M1509 1650h0M1477 1675h0M1436 1680h0M1415 1667h0M1410 1682h0M1455 1606h0M1371 1688h0M1464 1674h0M1471 1647h0M1458 1678h0M1432 1680h0M1404 1676h0M1402 1708h0M1390 1653h0M1420 1702h0M1469 1675h0M1452 1673h0M1453 1662h0M1362 1650h0M1476 1703h0M1472 1668h0M1444 1633h0M1476 1633h0M1513 1619h0M1418 1714h0M1470 1712h0M1427 1685h0M1415 1639h0M1452 1674h0M1472 1674h0M1483 1600h0M1435 1677h0M1482 1716h0M1395 1713h0M1382 1687h0M1451 1669h0M1439 1645h0M1479 1624h0M1435 1672h0M1493 1644h0M1488 1671h0M1438 1690h0M1439 1659h0M1424 1619h0M1386 1661h0M1401 1673h0M1412 1677h0M1442 1693h0M1396 1704h0M1441 1648h0M1498 1704h0M1456 1680h0M1440 1662h0M1468 1651h0M1439 1627h0M1450 1668h0M1481 1692h0M1406 1639h0M1433 1724h0M1469 1629h0M1412 1716h0M1438 1661h0M1418 1703h0M1458 1651h0M1382 1719h0M1428 1693h0M1447 1655h0M1506 1643h0M1473 1707h0M1415 1648h0M1387 1648h0M1459 1662h0M1435 1706h0M1401 1697h0M1424 1641h0M1403 1700h0M1377 1684h0M1439 1640h0M1508 1637h0M1409 1674h0M1449 1671h0M1400 1673h0M1396 1686h0M1428 1748h0M1461 1605h0M1426 1693h0M1473 1700h0M1440 1665h0M1419 1679h0M1409 1697h0M1463 1690h0M1419 1697h0M1457 1677h0M1409 1671h0M1367 1746h0M1450 1616h0M1422 1667h0M1389 1682h0M1446 1653h0M1413 1624h0M1405 1638h0M1401 1660h0M1487 1596h0M1435 1720h0M1470 1683h0M1401 1699h0M1407 1659h0M1446 1650h0M1470 1674h0M1465 1630h0M1506 1648h0M1430 1701h0M1425 1675h0M1449 1707h0M1425 1681h0M1418 1695h0M1452 1696h0M1457 1697h0M1447 1701h0M1482 1638h0M1488 1682h0M1392 1722h0M1432 1643h0M1465 1645h0M1395 1653h0M1466 1680h0M1348 1719h0M1435 1628h0M1447 1671h0M1497 1611h0M1453 1650h0M1485 1679h0M1454 1679h0M1405 1667h0M1480 1606h0M1468 1631h0M1433 1716h0M1417 1666h0M1418 1622h0M1484 1664h0M1503 1635h0M1499 1660h0M1468 1670h0M1441 1638h0M1509 1648h0M1451 1693h0M1432 1659h0M1395 1696h0M1400 1676h0M1472 1652h0M1430 1703h0M1382 1686h0M1495 1663h0M1438 1684h0M1399 1651h0M1466 1706h0M1395 1644h0M1408 1681h0M1403 1672h0M1412 1696h0M1400 1627h0M1534 1638h0M1465 1647h0M1441 1673h0M1427 1651h0M1396 1707h0M1466 1704h0M1499 1662h0M1447 1630h0M1439 1667h0M1419 1662h0M1466 1689h0M1464 1636h0M1457 1687h0M1474 1622h0M1423 1728h0M1415 1677h0M1488 1623h0M1465 1682h0M1468 1663h0M1403 1733h0M1477 1707h0M1486 1593h0M1442 1695h0M1417 1697h0M1454 1638h0M1413 1688h0M1417 1644h0M1476 1685h0M1429 1669h0M1375 1704h0M1445 1710h0M1448 1667h0M1420 1646h0M1406 1668h0M1431 1641h0M1412 1661h0M1463 1631h0M1499 1698h0M1438 1703h0M1476 1621h0M1429 1667h0M1488 1651h0M1436 1720h0M1414 1649h0M1387 1677h0M1448 1669h0M1469 1684h0M1491 1669h0M1477 1677h0M1450 1678h0M1502 1684h0M1417 1635h0M1470 1663h0M1431 1711h0M1430 1663h0M1484 1631h0M1493 1645h0M1414 1688h0M1496 1652h0M1492 1702h0M1422 1699h0M1450 1691h0M1392 1686h0M1356 1711h0M1456 1700h0M1438 1697h0M1428 1667h0M1457 1653h0M1413 1634h0M1452 1686h0M1490 1668h0M1512 1626h0M1437 1685h0M1410 1702h0M1430 1633h0M1447 1671h0M1456 1675h0M1394 1726h0M1493 1664h0M1500 1598h0M1451 1644h0M1428 1677h0M1444 1669h0M1497 1657h0M1474 1657h0M1464 1609h0M1384 1651h0M1418 1670h0M1428 1687h0M1391 1763h0M1521 1622h0M1432 1727h0M1466 1616h0M1457 1716h0M1422 1667h0M1438 1637h0M1405 1699h0M1348 1662h0M1465 1676h0M1373 1663h0M1388 1723h0M1368 1733h0M1405 1713h0M1482 1637h0M1443 1687h0M1439 1711h0M1455 1695h0M1421 1666h0M1407 1722h0M1479 1712h0M1392 1720h0M1413 1683h0M1318 1720h0M1493 1620h0M1474 1664h0M1448 1685h0M1376 1678h0M1481 1650h0M1439 1645h0M1452 1633h0M1424 1730h0M1459 1639h0M1410 1672h0M1468 1746h0M1534 1621h0M1432 1708h0M1379 1586h0M1427 1653h0M1415 1688h0M1465 1693h0M1437 1678h0M1458 1640h0M1433 1630h0M1422 1688h0M1443 1678h0M1470 1750h0M1372 1756h0M1494 1631h0M1413 1666h0M1372 1699h0M1497 1635h0M1522 1663h0M1484 1655h0M1452 1659h0M1470 1622h0M1443 1658h0M1436 1663h0" fill="none" stroke="#ff8000" stroke-width="5.5" stroke-linecap="round"/>
</g>
<path d="M1287.1 1787.7v-4.5M1287.1 1554v4.5M1409.4 1787.7v-4.5M1409.4 1554v4.5M1531.7 1787.7v-4.5M1531.7 1554v4.5M1654 1787.7v-4.5M1654 1554v4.5M1287.1 1748.8h4.5M1715.2 1748.8h-4.5M1287.1 1670.8h4.5M1715.2 1670.8h-4.5M1287.1 1593h4.5M1715.2 1593h-4.5" stroke="#222222" stroke-width="3" fill="none"/>
<rect x="1287.1" y="1554" width="428.1" height="233.7" fill="none" stroke="#222222" stroke-width="3.8"/>
<g font-size="24.5" text-anchor="middle" fill="#262626"><text x="1287.1" y="1821.7">-400</text><text x="1409.4" y="1821.7">-200</text><text x="1531.7" y="1821.7">0</text><text x="1654" y="1821.7">200</text></g>
<g font-size="24.5" text-anchor="end" fill="#262626"><text x="1277.1" y="1758.8">-200</text><text x="1277.1" y="1680.8">0</text><text x="1277.1" y="1603">200</text></g>
<text x="1501.2" y="1858.7" font-size="27.8" text-anchor="middle" fill="#262626">PC 1</text>
<text transform="translate(1215.1 1670.8) rotate(-90)" font-size="27.8" text-anchor="middle" fill="#262626">PC 2</text>
<text x="1501.2" y="1544.5" font-size="25.2" font-weight="bold" text-anchor="middle" fill="#000" textLength="307.9" lengthAdjust="spacingAndGlyphs">Ground-truth: PCA Space</text>
<rect x="1587.5" y="1744.7" width="117" height="31.5" fill="#fff" stroke="#222222" stroke-width="3.5"/>
<path d="M1611.8 1762.8h0" stroke="#ff8000" stroke-width="5.6" stroke-linecap="round"/>
<text x="1636" y="1772.2" font-size="24.6" fill="#000">Unit 1</text>
</svg></body></html>
